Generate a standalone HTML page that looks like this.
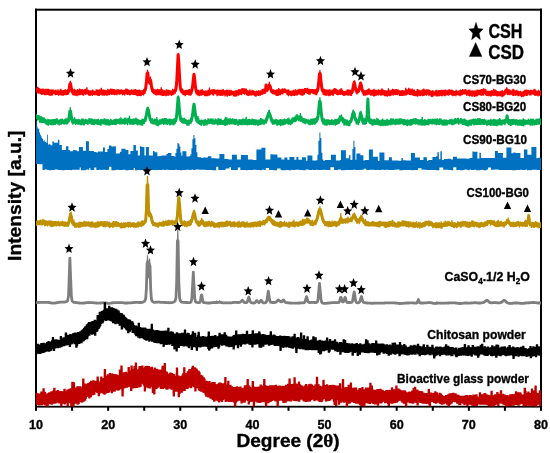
<!DOCTYPE html>
<html><head><meta charset="utf-8"><title>XRD patterns</title>
<style>html,body{margin:0;padding:0;background:#fff;}svg{display:block;}</style></head>
<body><svg width="550" height="453" viewBox="0 0 550 453">
<rect width="550" height="453" fill="#ffffff"/>
<defs><clipPath id="pa"><rect x="36" y="10" width="505" height="396.5"/></clipPath></defs>
<g fill="#000"><rect x="35" y="8.7" width="507" height="2"/><rect x="35" y="8.7" width="2" height="398.8"/><rect x="540" y="8.7" width="2" height="398.8"/><rect x="35" y="405.8" width="507" height="1.8"/><rect x="35.00" y="406" width="2" height="4.8"/><rect x="71.07" y="406" width="2" height="4.8"/><rect x="107.14" y="406" width="2" height="4.8"/><rect x="143.21" y="406" width="2" height="4.8"/><rect x="179.29" y="406" width="2" height="4.8"/><rect x="215.36" y="406" width="2" height="4.8"/><rect x="251.43" y="406" width="2" height="4.8"/><rect x="287.50" y="406" width="2" height="4.8"/><rect x="323.57" y="406" width="2" height="4.8"/><rect x="359.64" y="406" width="2" height="4.8"/><rect x="395.71" y="406" width="2" height="4.8"/><rect x="431.79" y="406" width="2" height="4.8"/><rect x="467.86" y="406" width="2" height="4.8"/><rect x="503.93" y="406" width="2" height="4.8"/><rect x="540.00" y="406" width="2" height="4.8"/></g>
<g clip-path="url(#pa)"><polyline fill="none" stroke="#ff0000" stroke-width="3.0" stroke-linejoin="round" points="36.0,89.9 36.7,90.0 37.4,90.1 38.2,90.2 38.9,90.3 39.6,90.6 40.3,90.9 41.1,91.2 41.8,91.5 42.5,91.7 43.2,91.8 43.9,91.8 44.7,91.8 45.4,91.8 46.1,91.8 46.8,91.9 47.5,92.0 48.3,92.1 49.0,92.3 49.7,92.5 50.4,92.5 51.2,92.5 51.9,92.4 52.6,92.3 53.3,92.2 54.0,92.2 54.8,92.2 55.5,92.3 56.2,92.4 56.9,92.4 57.6,92.4 58.4,92.4 59.1,92.4 59.8,92.4 60.5,92.3 61.3,92.4 62.0,92.4 62.7,92.5 63.4,92.5 64.1,92.5 64.9,92.5 65.6,92.4 66.3,92.3 67.0,92.2 67.7,92.1 68.5,91.5 69.2,88.8 69.9,83.9 70.6,84.0 71.4,88.9 72.1,91.6 72.8,92.1 73.5,92.2 74.2,92.2 75.0,92.3 75.7,92.2 76.4,92.2 77.1,92.1 77.8,92.1 78.6,92.0 79.3,92.0 80.0,92.0 80.7,92.1 81.5,92.1 82.2,92.2 82.9,92.2 83.6,92.3 84.3,92.2 85.1,92.2 85.8,92.2 86.5,92.1 87.2,92.2 87.9,92.2 88.7,92.4 89.4,92.5 90.1,92.7 90.8,92.8 91.6,92.8 92.3,92.8 93.0,92.8 93.7,92.8 94.4,92.8 95.2,92.8 95.9,92.8 96.6,92.8 97.3,92.8 98.0,92.7 98.8,92.6 99.5,92.5 100.2,92.5 100.9,92.4 101.7,92.5 102.4,92.6 103.1,92.7 103.8,92.7 104.5,92.7 105.3,92.6 106.0,92.5 106.7,92.4 107.4,92.2 108.1,92.1 108.9,92.0 109.6,92.0 110.3,92.0 111.0,92.0 111.8,91.9 112.5,91.9 113.2,91.9 113.9,91.8 114.6,91.8 115.4,91.8 116.1,91.8 116.8,91.9 117.5,91.9 118.2,92.0 119.0,92.1 119.7,92.1 120.4,92.2 121.1,92.2 121.9,92.3 122.6,92.3 123.3,92.2 124.0,92.1 124.7,92.0 125.5,91.9 126.2,91.9 126.9,91.9 127.6,91.9 128.3,92.0 129.1,92.1 129.8,92.2 130.5,92.3 131.2,92.4 132.0,92.4 132.7,92.4 133.4,92.3 134.1,92.3 134.8,92.3 135.6,92.4 136.3,92.5 137.0,92.6 137.7,92.6 138.4,92.7 139.2,92.7 139.9,92.7 140.6,92.7 141.3,92.6 142.1,92.4 142.8,92.3 143.5,92.0 144.2,91.6 144.9,90.7 145.7,88.2 146.4,81.9 147.1,73.5 147.8,73.1 148.5,79.9 149.3,82.3 150.0,79.6 150.7,80.4 151.4,85.8 152.2,89.9 152.9,91.4 153.6,91.8 154.3,91.9 155.0,92.0 155.8,92.0 156.5,92.2 157.2,92.3 157.9,92.4 158.6,92.5 159.4,92.7 160.1,92.8 160.8,92.9 161.5,92.9 162.3,92.9 163.0,93.0 163.7,92.9 164.4,92.9 165.1,92.8 165.9,92.8 166.6,92.7 167.3,92.8 168.0,92.8 168.7,92.9 169.5,92.9 170.2,92.8 170.9,92.7 171.6,92.6 172.4,92.3 173.1,92.0 173.8,91.7 174.5,91.4 175.2,90.7 176.0,88.9 176.7,82.5 177.4,68.3 178.1,54.7 178.8,61.6 179.6,77.8 180.3,87.2 181.0,90.4 181.7,91.3 182.5,91.9 183.2,92.2 183.9,92.5 184.6,92.7 185.3,92.8 186.1,92.8 186.8,92.8 187.5,92.7 188.2,92.5 188.9,92.4 189.7,92.4 190.4,92.2 191.1,91.9 191.8,90.5 192.6,86.4 193.3,79.1 194.0,74.3 194.7,79.2 195.4,86.8 196.2,91.1 196.9,92.6 197.6,93.1 198.3,93.1 199.0,93.0 199.8,92.9 200.5,92.8 201.2,92.6 201.9,92.6 202.7,92.7 203.4,92.9 204.1,93.1 204.8,93.3 205.5,93.4 206.3,93.5 207.0,93.4 207.7,93.2 208.4,93.0 209.1,92.8 209.9,92.6 210.6,92.4 211.3,92.3 212.0,92.2 212.8,92.2 213.5,92.3 214.2,92.3 214.9,92.4 215.6,92.5 216.4,92.6 217.1,92.7 217.8,92.9 218.5,92.9 219.2,92.9 220.0,92.8 220.7,92.7 221.4,92.6 222.1,92.6 222.9,92.5 223.6,92.7 224.3,92.8 225.0,93.0 225.7,93.2 226.5,93.3 227.2,93.3 227.9,93.2 228.6,93.1 229.3,93.0 230.1,92.9 230.8,92.9 231.5,92.9 232.2,93.1 233.0,93.1 233.7,93.3 234.4,93.4 235.1,93.3 235.8,93.3 236.6,93.1 237.3,93.0 238.0,92.8 238.7,92.6 239.4,92.4 240.2,92.2 240.9,92.0 241.6,91.8 242.3,91.5 243.1,91.4 243.8,91.2 244.5,91.2 245.2,91.3 245.9,91.6 246.7,91.9 247.4,92.3 248.1,92.6 248.8,92.8 249.5,93.0 250.3,93.0 251.0,93.0 251.7,93.0 252.4,93.0 253.2,93.0 253.9,93.2 254.6,93.3 255.3,93.4 256.0,93.5 256.8,93.5 257.5,93.5 258.2,93.3 258.9,93.2 259.6,93.1 260.4,92.9 261.1,92.7 261.8,92.6 262.5,92.4 263.3,92.1 264.0,91.9 264.7,91.6 265.4,90.4 266.1,84.9 266.9,89.6 267.6,89.5 268.3,87.4 269.0,85.3 269.7,85.4 270.5,87.8 271.2,90.1 271.9,91.3 272.6,91.9 273.4,92.1 274.1,92.3 274.8,92.5 275.5,92.6 276.2,92.6 277.0,92.6 277.7,92.7 278.4,92.7 279.1,92.6 279.8,92.5 280.6,92.3 281.3,92.0 282.0,91.8 282.7,91.4 283.5,91.2 284.2,91.1 284.9,91.1 285.6,91.3 286.3,91.5 287.1,91.9 287.8,92.4 288.5,92.7 289.2,92.9 289.9,93.1 290.7,93.2 291.4,93.2 292.1,93.1 292.8,93.1 293.6,93.0 294.3,92.9 295.0,92.8 295.7,92.6 296.4,92.5 297.2,92.3 297.9,92.3 298.6,92.3 299.3,92.3 300.0,92.3 300.8,92.4 301.5,92.4 302.2,92.4 302.9,92.2 303.7,91.8 304.4,91.2 305.1,90.4 305.8,89.9 306.5,90.4 307.3,91.1 308.0,91.6 308.7,91.8 309.4,91.8 310.1,91.6 310.9,91.5 311.6,91.4 312.3,91.4 313.0,91.5 313.8,91.8 314.5,91.9 315.2,92.0 315.9,92.0 316.6,91.8 317.4,90.8 318.1,87.8 318.8,81.3 319.5,73.8 320.2,73.7 321.0,81.1 321.7,87.4 322.4,90.4 323.1,91.4 323.9,91.8 324.6,92.0 325.3,92.1 326.0,92.3 326.7,92.3 327.5,92.4 328.2,92.5 328.9,92.6 329.6,92.7 330.3,92.7 331.1,92.7 331.8,92.6 332.5,92.6 333.2,92.5 334.0,91.9 334.7,91.0 335.4,90.4 336.1,91.1 336.8,92.1 337.6,92.7 338.3,92.9 339.0,92.8 339.7,92.4 340.4,91.8 341.2,91.6 341.9,92.1 342.6,92.8 343.3,93.3 344.1,93.4 344.8,93.3 345.5,93.1 346.2,92.9 346.9,92.8 347.7,92.7 348.4,92.8 349.1,92.9 349.8,93.0 350.5,93.1 351.3,93.0 352.0,92.3 352.7,90.0 353.4,85.5 354.2,82.3 354.9,85.0 355.6,89.0 356.3,91.0 357.0,91.5 357.8,91.5 358.5,91.1 359.2,89.2 359.9,85.6 360.6,83.1 361.4,85.8 362.1,89.6 362.8,91.6 363.5,92.3 364.3,92.5 365.0,92.6 365.7,92.7 366.4,92.6 367.1,92.4 367.9,92.3 368.6,92.3 369.3,92.4 370.0,92.4 370.7,92.5 371.5,92.7 372.2,92.8 372.9,92.9 373.6,93.0 374.4,93.0 375.1,93.0 375.8,93.0 376.5,93.0 377.2,92.9 378.0,92.7 378.7,92.6 379.4,92.5 380.1,92.5 380.8,92.4 381.6,92.5 382.3,92.6 383.0,92.8 383.7,93.0 384.5,93.1 385.2,93.3 385.9,93.3 386.6,93.3 387.3,93.2 388.1,93.1 388.8,93.0 389.5,92.8 390.2,92.7 390.9,92.5 391.7,92.4 392.4,92.4 393.1,92.3 393.8,92.2 394.6,92.1 395.3,92.0 396.0,91.9 396.7,91.9 397.4,91.9 398.2,92.1 398.9,92.4 399.6,92.7 400.3,92.9 401.0,93.1 401.8,93.3 402.5,93.4 403.2,93.3 403.9,93.1 404.7,92.9 405.4,92.7 406.1,92.4 406.8,92.1 407.5,91.9 408.3,91.8 409.0,91.8 409.7,91.8 410.4,91.9 411.1,92.1 411.9,92.3 412.6,92.5 413.3,92.7 414.0,92.9 414.8,93.1 415.5,93.3 416.2,93.3 416.9,93.3 417.6,93.2 418.4,93.1 419.1,93.0 419.8,92.9 420.5,92.8 421.2,92.8 422.0,92.8 422.7,92.8 423.4,92.8 424.1,92.7 424.9,92.7 425.6,92.6 426.3,92.6 427.0,92.7 427.7,92.8 428.5,92.9 429.2,93.1 429.9,93.3 430.6,93.4 431.3,93.6 432.1,93.6 432.8,93.6 433.5,93.6 434.2,93.5 435.0,93.4 435.7,93.3 436.4,93.3 437.1,93.2 437.8,93.2 438.6,93.2 439.3,93.2 440.0,93.2 440.7,93.1 441.4,93.1 442.2,93.1 442.9,93.1 443.6,93.1 444.3,93.0 445.1,92.9 445.8,92.8 446.5,92.6 447.2,92.4 447.9,92.3 448.7,92.3 449.4,92.3 450.1,92.4 450.8,92.6 451.5,92.8 452.3,93.0 453.0,93.2 453.7,93.2 454.4,93.2 455.2,93.2 455.9,93.1 456.6,93.0 457.3,92.9 458.0,92.9 458.8,92.8 459.5,92.8 460.2,92.8 460.9,92.8 461.6,92.7 462.4,92.6 463.1,92.6 463.8,92.5 464.5,92.3 465.3,92.3 466.0,92.2 466.7,92.3 467.4,92.3 468.1,92.5 468.9,92.7 469.6,92.9 470.3,93.1 471.0,93.3 471.7,93.5 472.5,93.6 473.2,93.6 473.9,93.6 474.6,93.5 475.4,93.3 476.1,93.2 476.8,93.0 477.5,92.8 478.2,92.7 479.0,92.6 479.7,92.5 480.4,92.5 481.1,92.6 481.8,92.6 482.6,92.5 483.3,92.2 484.0,91.6 484.7,91.4 485.5,91.9 486.2,92.6 486.9,93.2 487.6,93.4 488.3,93.4 489.1,93.4 489.8,93.4 490.5,93.4 491.2,93.3 491.9,93.3 492.7,93.1 493.4,93.0 494.1,92.9 494.8,92.8 495.6,92.9 496.3,93.0 497.0,93.2 497.7,93.4 498.4,93.6 499.2,93.7 499.9,93.8 500.6,93.7 501.3,93.7 502.0,93.7 502.8,93.6 503.5,93.6 504.2,93.4 504.9,92.8 505.7,91.5 506.4,90.6 507.1,91.2 507.8,92.2 508.5,92.7 509.3,92.6 510.0,92.6 510.7,92.5 511.4,92.5 512.1,92.5 512.9,92.6 513.6,92.7 514.3,92.8 515.0,92.9 515.8,93.0 516.5,93.0 517.2,93.1 517.9,93.1 518.6,93.2 519.4,93.3 520.1,93.5 520.8,93.6 521.5,93.8 522.2,93.8 523.0,93.8 523.7,93.7 524.4,93.5 525.1,93.3 525.9,93.1 526.6,92.9 527.3,92.7 528.0,92.6 528.7,92.6 529.5,92.5 530.2,92.5 530.9,92.4 531.6,92.4 532.3,92.2 533.1,92.3 533.8,92.3 534.5,92.3 535.2,92.5 536.0,92.7 536.7,92.8 537.4,93.0 538.1,93.1 538.8,93.1 539.6,93.1 540.3,93.1 541.0,93.0"/><polyline fill="none" stroke="#ff0000" stroke-width="1.3" stroke-linejoin="bevel" points="36.0,91.9 36.4,88.2 36.7,91.8 37.1,87.4 37.4,92.9 37.8,86.9 38.2,93.6 38.5,87.9 38.9,93.5 39.2,88.0 39.6,92.9 40.0,88.8 40.3,94.1 40.7,88.7 41.1,94.0 41.4,88.7 41.8,95.0 42.1,88.7 42.5,94.4 42.9,88.6 43.2,93.9 43.6,88.7 43.9,94.6 44.3,89.9 44.7,95.2 45.0,89.4 45.4,94.4 45.7,88.7 46.1,95.3 46.5,89.7 46.8,93.8 47.2,88.9 47.5,94.9 47.9,89.6 48.3,95.0 48.6,88.8 49.0,95.5 49.3,89.7 49.7,95.8 50.1,89.2 50.4,95.6 50.8,90.6 51.2,95.2 51.5,89.6 51.9,95.6 52.2,89.7 52.6,95.1 53.0,89.2 53.3,94.0 53.7,90.4 54.0,93.9 54.4,90.3 54.8,94.4 55.1,90.4 55.5,95.1 55.8,89.6 56.2,94.9 56.6,90.7 56.9,95.0 57.3,90.5 57.6,94.1 58.0,89.3 58.4,95.7 58.7,90.6 59.1,95.3 59.4,90.6 59.8,95.1 60.2,89.5 60.5,95.1 60.9,88.9 61.3,95.2 61.6,90.4 62.0,95.8 62.3,90.3 62.7,95.2 63.1,90.0 63.4,95.6 63.8,90.6 64.1,94.9 64.5,90.0 64.9,95.2 65.2,89.1 65.6,94.6 65.9,90.0 66.3,95.2 66.7,90.2 67.0,94.8 67.4,89.9 67.7,94.9 68.1,89.2 68.5,94.4 68.8,88.1 69.2,91.0 69.5,84.7 69.9,86.7 70.3,80.7 70.6,85.7 71.0,82.4 71.4,91.0 71.7,87.7 72.1,93.8 72.4,88.3 72.8,95.1 73.2,89.3 73.5,94.2 73.9,89.5 74.2,95.6 74.6,88.9 75.0,95.5 75.3,90.0 75.7,95.7 76.0,90.2 76.4,94.6 76.8,90.3 77.1,96.1 77.5,89.1 77.8,95.0 78.2,90.4 78.6,95.5 78.9,89.8 79.3,95.1 79.6,88.6 80.0,95.1 80.4,89.4 80.7,94.7 81.1,90.1 81.5,94.5 81.8,89.0 82.2,95.1 82.5,89.3 82.9,95.1 83.3,89.9 83.6,95.7 84.0,90.0 84.3,94.3 84.7,89.3 85.1,94.2 85.4,88.7 85.8,94.9 86.1,90.2 86.5,93.9 86.9,87.4 87.2,93.9 87.6,90.4 87.9,94.7 88.3,89.8 88.7,95.5 89.0,90.5 89.4,95.8 89.7,90.2 90.1,95.9 90.5,90.8 90.8,94.6 91.2,90.3 91.6,94.9 91.9,90.3 92.3,96.0 92.6,89.5 93.0,94.6 93.4,90.6 93.7,95.0 94.1,90.7 94.4,95.3 94.8,91.0 95.2,95.3 95.5,91.0 95.9,95.3 96.2,89.4 96.6,94.8 97.0,89.5 97.3,95.1 97.7,89.7 98.0,95.9 98.4,89.9 98.8,95.6 99.1,89.7 99.5,95.9 99.8,89.4 100.2,94.9 100.6,90.2 100.9,94.4 101.3,87.7 101.7,94.6 102.0,90.4 102.4,95.8 102.7,89.6 103.1,95.4 103.5,89.5 103.8,95.4 104.2,90.4 104.5,95.7 104.9,89.9 105.3,94.7 105.6,90.3 106.0,95.2 106.3,90.4 106.7,95.7 107.1,90.5 107.4,95.5 107.8,88.7 108.1,95.0 108.5,90.0 108.9,95.2 109.2,89.5 109.6,95.0 109.9,89.7 110.3,94.1 110.7,88.6 111.0,93.8 111.4,90.1 111.8,95.0 112.1,88.8 112.5,94.2 112.8,89.5 113.2,94.8 113.6,89.1 113.9,94.7 114.3,89.4 114.6,95.3 115.0,89.8 115.4,94.7 115.7,89.8 116.1,94.1 116.4,89.6 116.8,95.1 117.2,89.2 117.5,94.2 117.9,89.3 118.2,94.5 118.6,89.4 119.0,94.2 119.3,89.7 119.7,94.7 120.0,90.3 120.4,94.0 120.8,89.5 121.1,94.3 121.5,89.2 121.9,94.0 122.2,90.1 122.6,95.1 122.9,90.3 123.3,94.6 123.7,89.9 124.0,94.3 124.4,89.9 124.7,95.5 125.1,89.7 125.5,93.8 125.8,88.6 126.2,93.9 126.5,88.8 126.9,94.8 127.3,88.9 127.6,95.0 128.0,89.9 128.3,93.8 128.7,89.6 129.1,94.6 129.4,90.1 129.8,95.4 130.1,90.4 130.5,94.9 130.9,89.7 131.2,94.1 131.6,89.2 132.0,94.7 132.3,89.8 132.7,94.3 133.0,89.9 133.4,94.9 133.8,89.6 134.1,94.1 134.5,89.9 134.8,94.9 135.2,89.0 135.6,95.2 135.9,89.5 136.3,95.0 136.6,89.9 137.0,96.0 137.4,90.1 137.7,96.1 138.1,89.9 138.4,96.0 138.8,90.0 139.2,95.9 139.5,89.5 139.9,95.1 140.2,90.4 140.6,96.1 141.0,90.4 141.3,95.7 141.7,90.5 142.1,95.0 142.4,90.0 142.8,94.5 143.1,90.1 143.5,95.5 143.9,88.9 144.2,94.1 144.6,88.5 144.9,94.0 145.3,86.9 145.7,90.1 146.0,83.5 146.4,85.2 146.7,74.1 147.1,76.3 147.5,69.7 147.8,75.0 148.2,74.4 148.5,82.2 148.9,79.3 149.3,84.7 149.6,78.3 150.0,82.1 150.3,76.5 150.7,83.8 151.1,81.2 151.4,88.7 151.8,85.2 152.2,91.9 152.5,87.6 152.9,93.3 153.2,88.5 153.6,93.8 154.0,89.4 154.3,94.3 154.7,89.2 155.0,94.8 155.4,90.2 155.8,95.2 156.1,89.4 156.5,95.5 156.8,90.2 157.2,94.8 157.6,88.9 157.9,95.2 158.3,89.9 158.6,95.1 159.0,89.3 159.4,94.4 159.7,89.2 160.1,95.3 160.4,89.6 160.8,95.4 161.2,87.2 161.5,94.8 161.9,90.5 162.3,96.0 162.6,89.4 163.0,95.6 163.3,91.1 163.7,96.0 164.1,90.0 164.4,94.8 164.8,90.8 165.1,95.4 165.5,90.8 165.9,96.1 166.2,89.3 166.6,95.8 166.9,89.6 167.3,95.1 167.7,90.9 168.0,95.8 168.4,89.7 168.7,95.8 169.1,90.9 169.5,94.6 169.8,90.1 170.2,94.8 170.5,90.6 170.9,95.3 171.3,90.5 171.6,96.0 172.0,90.2 172.4,95.0 172.7,88.8 173.1,94.9 173.4,89.5 173.8,94.8 174.2,89.5 174.5,93.3 174.9,89.4 175.2,93.6 175.6,85.2 176.0,91.8 176.3,83.7 176.7,85.3 177.0,72.9 177.4,70.8 177.8,58.1 178.1,56.9 178.5,53.0 178.8,64.4 179.2,67.7 179.6,80.2 179.9,81.3 180.3,90.2 180.6,86.1 181.0,92.7 181.4,87.9 181.7,93.4 182.1,88.2 182.5,94.2 182.8,89.1 183.2,95.0 183.5,90.5 183.9,95.2 184.3,90.8 184.6,95.3 185.0,90.1 185.3,96.2 185.7,90.8 186.1,94.6 186.4,89.9 186.8,95.0 187.1,90.0 187.5,94.8 187.9,89.7 188.2,94.5 188.6,89.9 188.9,95.5 189.3,89.1 189.7,94.6 190.0,89.6 190.4,95.7 190.7,90.2 191.1,95.1 191.5,88.4 191.8,94.0 192.2,86.4 192.6,88.9 192.9,80.3 193.3,81.4 193.6,73.8 194.0,77.0 194.4,73.4 194.7,81.8 195.1,80.3 195.4,89.2 195.8,87.4 196.2,94.3 196.5,88.7 196.9,94.7 197.2,90.1 197.6,95.4 198.0,90.1 198.3,94.9 198.7,89.7 199.0,96.3 199.4,91.0 199.8,95.8 200.1,90.6 200.5,94.8 200.8,89.5 201.2,95.7 201.6,89.9 201.9,95.5 202.3,89.4 202.7,95.0 203.0,90.2 203.4,95.0 203.7,90.5 204.1,95.1 204.5,90.8 204.8,96.1 205.2,91.2 205.5,96.3 205.9,90.3 206.3,96.3 206.6,90.9 207.0,95.8 207.3,91.5 207.7,96.3 208.1,89.8 208.4,95.2 208.8,90.0 209.1,95.6 209.5,87.5 209.9,95.5 210.2,90.5 210.6,94.4 210.9,90.0 211.3,94.3 211.7,89.5 212.0,94.1 212.4,89.3 212.8,95.3 213.1,90.5 213.5,95.6 213.8,89.1 214.2,94.1 214.6,89.6 214.9,94.1 215.3,89.9 215.6,94.3 216.0,89.8 216.4,94.4 216.7,90.8 217.1,96.1 217.4,89.6 217.8,95.8 218.2,89.8 218.5,95.0 218.9,91.0 219.2,95.2 219.6,89.8 220.0,95.9 220.3,89.8 220.7,95.2 221.0,90.1 221.4,95.7 221.8,89.9 222.1,94.7 222.5,90.0 222.9,95.9 223.2,89.1 223.6,94.5 223.9,90.8 224.3,94.7 224.7,90.4 225.0,96.4 225.4,90.5 225.7,95.5 226.1,90.0 226.5,95.4 226.8,89.6 227.2,96.6 227.5,90.0 227.9,95.2 228.3,90.9 228.6,95.5 229.0,89.9 229.3,95.9 229.7,90.2 230.1,95.2 230.4,90.6 230.8,95.6 231.1,89.8 231.5,95.3 231.9,90.8 232.2,94.8 232.6,91.2 233.0,95.1 233.3,90.7 233.7,96.4 234.0,90.9 234.4,95.8 234.8,91.4 235.1,96.8 235.5,90.5 235.8,95.5 236.2,90.0 236.6,96.5 236.9,90.3 237.3,95.5 237.6,90.5 238.0,95.1 238.4,89.5 238.7,95.6 239.1,89.1 239.4,94.5 239.8,90.4 240.2,94.8 240.5,89.4 240.9,94.5 241.2,89.3 241.6,95.1 242.0,88.0 242.3,93.7 242.7,88.8 243.1,93.6 243.4,88.4 243.8,94.0 244.1,88.2 244.5,94.7 244.9,88.6 245.2,93.1 245.6,88.8 245.9,94.2 246.3,88.6 246.7,95.2 247.0,90.1 247.4,95.6 247.7,90.4 248.1,95.4 248.5,91.0 248.8,96.0 249.2,90.5 249.5,95.1 249.9,89.6 250.3,94.9 250.6,90.7 251.0,95.6 251.3,90.8 251.7,95.3 252.1,89.8 252.4,95.1 252.8,90.3 253.2,95.1 253.5,90.3 253.9,95.3 254.2,91.0 254.6,95.9 255.0,91.2 255.3,96.4 255.7,91.4 256.0,96.7 256.4,90.5 256.8,95.4 257.1,90.8 257.5,95.3 257.8,91.4 258.2,95.6 258.6,90.3 258.9,96.0 259.3,90.5 259.6,95.1 260.0,90.7 260.4,95.8 260.7,90.2 261.1,95.0 261.4,90.8 261.8,94.4 262.2,89.1 262.5,94.8 262.9,88.9 263.3,94.3 263.6,89.3 264.0,94.0 264.3,88.5 264.7,93.7 265.1,88.6 265.4,93.8 265.8,84.5 266.1,87.6 266.5,84.8 266.9,92.2 267.2,88.2 267.6,91.4 267.9,86.4 268.3,89.2 268.7,84.1 269.0,87.7 269.4,81.7 269.7,88.8 270.1,84.7 270.5,90.3 270.8,86.1 271.2,93.1 271.5,88.9 271.9,93.1 272.3,89.5 272.6,94.1 273.0,90.0 273.4,94.2 273.7,89.3 274.1,94.4 274.4,90.3 274.8,94.6 275.2,90.0 275.5,94.6 275.9,90.0 276.2,96.0 276.6,89.4 277.0,95.7 277.3,89.2 277.7,96.0 278.0,90.0 278.4,95.6 278.8,88.1 279.1,95.3 279.5,89.2 279.8,95.1 280.2,90.0 280.6,95.2 280.9,89.6 281.3,93.9 281.6,89.0 282.0,93.7 282.4,88.3 282.7,94.5 283.1,88.9 283.5,93.0 283.8,89.2 284.2,93.3 284.5,88.4 284.9,93.0 285.3,88.9 285.6,93.3 286.0,89.5 286.3,93.4 286.7,89.8 287.1,95.1 287.4,90.1 287.8,94.3 288.1,89.4 288.5,96.1 288.9,89.8 289.2,94.8 289.6,91.1 289.9,95.1 290.3,91.3 290.7,95.7 291.0,90.6 291.4,96.3 291.7,90.8 292.1,95.2 292.5,91.2 292.8,95.8 293.2,89.9 293.6,95.7 293.9,90.8 294.3,96.0 294.6,90.2 295.0,95.5 295.4,89.3 295.7,95.5 296.1,90.6 296.4,95.4 296.8,90.2 297.2,95.5 297.5,89.6 297.9,95.0 298.2,90.3 298.6,94.0 299.0,88.8 299.3,94.0 299.7,90.5 300.0,94.9 300.4,89.0 300.8,95.1 301.1,88.9 301.5,95.4 301.8,89.2 302.2,95.6 302.6,88.9 302.9,95.6 303.3,89.8 303.7,94.8 304.0,89.0 304.4,94.7 304.7,88.0 305.1,92.8 305.5,88.3 305.8,93.0 306.2,88.3 306.5,93.2 306.9,88.6 307.3,94.0 307.6,87.9 308.0,93.9 308.3,89.0 308.7,94.5 309.1,89.8 309.4,94.8 309.8,88.8 310.1,94.7 310.5,89.5 310.9,93.3 311.2,89.0 311.6,93.3 311.9,89.3 312.3,93.2 312.7,89.1 313.0,93.9 313.4,89.3 313.8,94.2 314.1,90.1 314.5,94.4 314.8,89.1 315.2,94.3 315.6,89.3 315.9,95.2 316.3,89.3 316.6,95.2 317.0,88.3 317.4,93.5 317.7,87.8 318.1,90.3 318.4,83.2 318.8,84.7 319.2,75.5 319.5,75.9 319.9,70.4 320.2,77.0 320.6,73.8 321.0,84.1 321.3,81.5 321.7,89.6 322.0,86.0 322.4,92.3 322.8,88.7 323.1,94.6 323.5,88.7 323.9,95.2 324.2,88.7 324.6,94.1 324.9,89.6 325.3,95.6 325.7,89.2 326.0,95.4 326.4,90.4 326.7,95.7 327.1,89.6 327.5,94.4 327.8,89.7 328.2,95.8 328.5,89.9 328.9,96.1 329.3,89.3 329.6,95.2 330.0,89.2 330.3,95.7 330.7,90.5 331.1,94.5 331.4,90.9 331.8,95.3 332.1,89.6 332.5,94.5 332.9,90.5 333.2,95.9 333.6,89.1 334.0,94.2 334.3,88.1 334.7,93.6 335.0,88.4 335.4,92.7 335.8,88.5 336.1,94.1 336.5,89.3 336.8,94.9 337.2,89.6 337.6,95.3 337.9,90.3 338.3,95.2 338.6,90.8 339.0,94.7 339.4,89.7 339.7,94.1 340.1,89.1 340.4,94.9 340.8,88.5 341.2,94.4 341.5,88.3 341.9,94.5 342.2,89.9 342.6,95.0 343.0,91.4 343.3,95.8 343.7,90.8 344.1,95.9 344.4,91.6 344.8,95.3 345.1,91.0 345.5,95.5 345.9,90.9 346.2,95.2 346.6,90.5 346.9,94.6 347.3,89.5 347.7,95.5 348.0,89.3 348.4,95.6 348.7,90.0 349.1,95.2 349.5,89.8 349.8,95.5 350.2,89.8 350.5,95.6 350.9,90.0 351.3,95.9 351.6,90.3 352.0,94.1 352.3,89.3 352.7,92.5 353.1,85.4 353.4,87.6 353.8,81.1 354.2,84.6 354.5,80.4 354.9,86.9 355.2,84.8 355.6,92.0 356.0,87.1 356.3,93.7 356.7,88.0 357.0,94.5 357.4,88.5 357.8,93.5 358.1,88.8 358.5,92.8 358.8,87.5 359.2,91.5 359.6,84.3 359.9,87.6 360.3,82.0 360.6,85.5 361.0,81.9 361.4,88.4 361.7,85.4 362.1,91.3 362.4,88.7 362.8,93.6 363.2,90.0 363.5,95.8 363.9,89.7 364.3,95.6 364.6,90.2 365.0,94.6 365.3,90.3 365.7,95.6 366.1,90.2 366.4,94.3 366.8,89.8 367.1,95.1 367.5,89.5 367.9,94.1 368.2,89.0 368.6,94.8 368.9,88.2 369.3,94.6 369.7,89.2 370.0,94.6 370.4,90.2 370.7,95.8 371.1,90.0 371.5,94.4 371.8,90.8 372.2,95.8 372.5,89.6 372.9,95.2 373.3,90.7 373.6,96.4 374.0,88.9 374.4,96.3 374.7,89.9 375.1,96.2 375.4,89.9 375.8,95.3 376.2,89.8 376.5,95.6 376.9,90.9 377.2,95.0 377.6,90.2 378.0,95.3 378.3,89.2 378.7,95.4 379.0,89.7 379.4,94.3 379.8,90.6 380.1,94.7 380.5,89.9 380.8,95.8 381.2,90.6 381.6,95.5 381.9,88.2 382.3,94.8 382.6,89.4 383.0,95.2 383.4,89.7 383.7,95.2 384.1,90.3 384.5,96.2 384.8,90.0 385.2,95.6 385.5,91.2 385.9,96.2 386.3,90.5 386.6,95.1 387.0,90.5 387.3,96.6 387.7,91.0 388.1,95.9 388.4,88.4 388.8,95.4 389.1,89.7 389.5,96.1 389.9,90.9 390.2,94.9 390.6,90.5 390.9,95.9 391.3,89.7 391.7,94.3 392.0,90.0 392.4,94.6 392.7,88.9 393.1,95.6 393.5,89.0 393.8,94.0 394.2,89.7 394.6,94.6 394.9,89.7 395.3,95.3 395.6,89.4 396.0,95.0 396.4,89.1 396.7,94.3 397.1,90.0 397.4,95.2 397.8,89.4 398.2,94.5 398.5,89.7 398.9,94.2 399.2,90.2 399.6,96.0 400.0,90.5 400.3,95.2 400.7,90.8 401.0,95.9 401.4,90.6 401.8,95.7 402.1,90.1 402.5,95.9 402.8,90.1 403.2,95.7 403.6,90.9 403.9,95.2 404.3,91.2 404.7,95.7 405.0,90.4 405.4,94.6 405.7,87.8 406.1,95.4 406.5,89.4 406.8,93.8 407.2,89.6 407.5,94.8 407.9,89.4 408.3,94.3 408.6,87.8 409.0,93.8 409.3,89.8 409.7,94.9 410.1,88.5 410.4,93.9 410.8,90.2 411.1,95.2 411.5,89.4 411.9,94.4 412.2,88.6 412.6,95.2 412.9,90.6 413.3,96.0 413.7,89.5 414.0,96.0 414.4,89.5 414.8,95.4 415.1,91.3 415.5,96.1 415.8,91.1 416.2,96.3 416.6,91.5 416.9,95.6 417.3,89.0 417.6,96.6 418.0,91.2 418.4,95.6 418.7,89.6 419.1,94.8 419.4,90.4 419.8,95.9 420.2,90.3 420.5,96.1 420.9,90.4 421.2,95.1 421.6,91.1 422.0,95.4 422.3,89.3 422.7,96.2 423.0,91.1 423.4,94.6 423.8,88.6 424.1,96.0 424.5,90.3 424.9,94.9 425.2,89.6 425.6,94.9 425.9,90.2 426.3,95.6 426.7,89.3 427.0,94.7 427.4,90.6 427.7,94.8 428.1,89.4 428.5,95.6 428.8,89.9 429.2,95.2 429.5,89.9 429.9,95.5 430.3,90.6 430.6,95.5 431.0,90.9 431.3,96.6 431.7,91.6 432.1,97.1 432.4,90.4 432.8,96.6 433.1,90.5 433.5,95.8 433.9,91.7 434.2,95.8 434.6,91.5 435.0,95.7 435.3,90.3 435.7,95.4 436.0,91.5 436.4,96.4 436.8,89.9 437.1,95.7 437.5,91.2 437.8,96.5 438.2,91.4 438.6,95.5 438.9,90.0 439.3,96.2 439.6,90.1 440.0,95.7 440.4,90.2 440.7,95.4 441.1,89.9 441.4,96.3 441.8,89.7 442.2,96.2 442.5,90.1 442.9,95.1 443.2,90.3 443.6,94.9 444.0,89.7 444.3,96.2 444.7,90.3 445.1,96.1 445.4,89.6 445.8,95.1 446.1,89.8 446.5,94.5 446.9,90.7 447.2,95.5 447.6,90.3 447.9,94.8 448.3,89.7 448.7,95.7 449.0,89.2 449.4,95.0 449.7,89.2 450.1,94.6 450.5,90.6 450.8,94.8 451.2,90.0 451.5,95.1 451.9,89.5 452.3,95.7 452.6,90.3 453.0,96.2 453.3,90.5 453.7,95.2 454.1,91.1 454.4,95.7 454.8,91.0 455.2,95.2 455.5,90.8 455.9,96.3 456.2,89.8 456.6,95.2 457.0,90.9 457.3,94.7 457.7,91.1 458.0,95.2 458.4,90.8 458.8,95.4 459.1,90.9 459.5,95.6 459.8,90.1 460.2,96.1 460.6,89.6 460.9,94.7 461.3,90.1 461.6,95.1 462.0,90.9 462.4,95.3 462.7,89.1 463.1,94.5 463.4,90.8 463.8,94.5 464.2,89.9 464.5,94.5 464.9,89.4 465.3,94.4 465.6,89.0 466.0,94.2 466.3,90.3 466.7,95.7 467.1,90.5 467.4,95.4 467.8,90.6 468.1,94.5 468.5,89.8 468.9,95.9 469.2,90.0 469.6,96.4 469.9,89.5 470.3,95.1 470.7,90.7 471.0,95.9 471.4,91.4 471.7,96.4 472.1,90.3 472.5,96.6 472.8,90.5 473.2,95.8 473.5,90.9 473.9,95.6 474.3,90.5 474.6,96.9 475.0,90.8 475.4,95.9 475.7,90.2 476.1,96.5 476.4,91.2 476.8,96.1 477.2,89.6 477.5,96.3 477.9,90.5 478.2,95.2 478.6,89.9 479.0,95.1 479.3,89.8 479.7,94.9 480.0,90.0 480.4,94.8 480.8,89.6 481.1,95.9 481.5,89.1 481.8,95.0 482.2,90.8 482.6,95.4 482.9,88.9 483.3,95.6 483.6,88.2 484.0,94.0 484.4,89.6 484.7,93.9 485.1,88.7 485.5,94.9 485.8,89.4 486.2,95.8 486.5,91.1 486.9,95.9 487.3,90.8 487.6,96.0 488.0,90.9 488.3,96.2 488.7,91.5 489.1,95.2 489.4,90.9 489.8,96.2 490.1,90.9 490.5,96.4 490.9,90.9 491.2,96.5 491.6,90.2 491.9,95.3 492.3,90.4 492.7,95.8 493.0,91.2 493.4,94.8 493.7,88.8 494.1,95.9 494.5,90.8 494.8,95.6 495.2,89.5 495.6,95.5 495.9,90.2 496.3,96.0 496.6,90.5 497.0,96.5 497.4,91.1 497.7,95.5 498.1,91.6 498.4,96.1 498.8,91.4 499.2,96.3 499.5,91.7 499.9,96.3 500.2,91.2 500.6,96.0 501.0,90.6 501.3,96.3 501.7,90.9 502.0,97.1 502.4,90.4 502.8,96.5 503.1,91.9 503.5,96.5 503.8,91.3 504.2,95.6 504.6,90.4 504.9,94.8 505.3,89.2 505.7,94.6 506.0,88.9 506.4,92.5 506.7,87.4 507.1,93.0 507.5,88.6 507.8,95.3 508.2,89.6 508.5,94.4 508.9,89.3 509.3,94.7 509.6,89.3 510.0,95.2 510.3,90.3 510.7,94.6 511.1,90.8 511.4,94.6 511.8,90.6 512.1,94.2 512.5,89.6 512.9,96.0 513.2,88.8 513.6,95.9 513.9,89.3 514.3,94.7 514.7,90.4 515.0,95.4 515.4,90.8 515.8,96.0 516.1,90.3 516.5,95.0 516.8,89.7 517.2,95.0 517.6,91.3 517.9,96.2 518.3,90.7 518.6,96.1 519.0,91.5 519.4,95.2 519.7,91.2 520.1,95.8 520.4,90.9 520.8,95.9 521.2,91.6 521.5,97.2 521.9,91.9 522.2,96.4 522.6,91.7 523.0,96.9 523.3,90.9 523.7,96.5 524.0,91.1 524.4,96.0 524.8,89.9 525.1,95.8 525.5,90.3 525.9,95.0 526.2,89.5 526.6,96.0 526.9,90.3 527.3,95.8 527.7,89.8 528.0,94.5 528.4,90.1 528.7,94.3 529.1,90.7 529.5,95.4 529.8,90.4 530.2,94.3 530.5,89.9 530.9,95.4 531.3,90.1 531.6,94.4 532.0,90.2 532.3,94.0 532.7,90.4 533.1,94.8 533.4,90.2 533.8,94.8 534.1,88.9 534.5,95.4 534.9,89.2 535.2,95.9 535.6,89.7 536.0,95.1 536.3,90.9 536.7,95.8 537.0,91.0 537.4,95.2 537.8,90.8 538.1,96.5 538.5,89.9 538.8,95.3 539.2,90.8 539.6,95.7 539.9,91.3 540.3,94.8 540.6,90.3 541.0,95.6"/><polyline fill="none" stroke="#00b050" stroke-width="3.0" stroke-linejoin="round" points="36.0,115.9 36.7,116.6 37.4,117.1 38.2,117.6 38.9,118.2 39.6,118.8 40.3,119.3 41.1,119.9 41.8,120.1 42.5,120.4 43.2,120.6 43.9,120.9 44.7,121.1 45.4,121.3 46.1,121.5 46.8,121.7 47.5,122.0 48.3,122.2 49.0,122.3 49.7,122.4 50.4,122.5 51.2,122.5 51.9,122.4 52.6,122.3 53.3,122.0 54.0,121.8 54.8,121.7 55.5,121.6 56.2,121.6 56.9,121.6 57.6,121.7 58.4,121.8 59.1,121.8 59.8,121.9 60.5,121.9 61.3,121.8 62.0,121.8 62.7,121.7 63.4,121.6 64.1,121.5 64.9,121.4 65.6,121.3 66.3,121.3 67.0,121.3 67.7,121.3 68.5,120.6 69.2,117.3 69.9,111.2 70.6,111.2 71.4,117.4 72.1,120.8 72.8,121.6 73.5,121.7 74.2,121.7 75.0,121.8 75.7,121.7 76.4,121.7 77.1,121.8 77.8,121.8 78.6,121.8 79.3,121.9 80.0,121.9 80.7,122.0 81.5,122.0 82.2,121.9 82.9,121.9 83.6,121.8 84.3,121.8 85.1,121.8 85.8,121.7 86.5,121.7 87.2,121.6 87.9,121.6 88.7,121.6 89.4,121.5 90.1,121.5 90.8,121.6 91.6,121.7 92.3,121.8 93.0,121.8 93.7,121.7 94.4,121.8 95.2,121.8 95.9,121.8 96.6,121.8 97.3,121.9 98.0,122.0 98.8,122.1 99.5,122.1 100.2,122.2 100.9,122.2 101.7,122.2 102.4,122.1 103.1,122.0 103.8,121.9 104.5,121.9 105.3,121.8 106.0,121.8 106.7,121.9 107.4,122.0 108.1,122.2 108.9,122.3 109.6,122.3 110.3,122.3 111.0,122.4 111.8,122.3 112.5,122.3 113.2,122.3 113.9,122.3 114.6,122.2 115.4,122.2 116.1,122.0 116.8,121.8 117.5,121.6 118.2,121.4 119.0,121.3 119.7,121.2 120.4,121.2 121.1,121.2 121.9,121.3 122.6,121.3 123.3,121.3 124.0,121.2 124.7,121.1 125.5,121.0 126.2,120.9 126.9,120.8 127.6,120.9 128.3,121.1 129.1,121.3 129.8,121.5 130.5,121.7 131.2,121.8 132.0,121.7 132.7,121.6 133.4,121.5 134.1,121.4 134.8,121.4 135.6,121.5 136.3,121.7 137.0,121.8 137.7,122.0 138.4,122.1 139.2,122.2 139.9,122.3 140.6,122.4 141.3,122.2 142.1,122.1 142.8,121.9 143.5,121.7 144.2,121.2 144.9,120.3 145.7,118.4 146.4,115.0 147.1,110.7 147.8,108.4 148.5,110.7 149.3,115.0 150.0,118.5 150.7,120.3 151.4,121.0 152.2,121.4 152.9,121.7 153.6,121.9 154.3,122.1 155.0,122.3 155.8,122.5 156.5,122.7 157.2,122.8 157.9,122.8 158.6,122.8 159.4,122.7 160.1,122.5 160.8,122.2 161.5,122.0 162.3,121.7 163.0,121.5 163.7,121.4 164.4,121.3 165.1,121.3 165.9,121.3 166.6,121.5 167.3,121.6 168.0,121.7 168.7,121.9 169.5,122.1 170.2,122.2 170.9,122.3 171.6,122.3 172.4,122.2 173.1,122.1 173.8,121.9 174.5,121.5 175.2,121.0 176.0,119.7 176.7,115.5 177.4,106.3 178.1,97.6 178.8,101.9 179.6,112.1 180.3,118.0 181.0,120.0 181.7,120.6 182.5,120.9 183.2,121.1 183.9,121.2 184.6,121.4 185.3,121.6 186.1,121.8 186.8,122.1 187.5,122.2 188.2,122.2 188.9,122.1 189.7,121.8 190.4,121.4 191.1,120.6 191.8,118.8 192.6,114.8 193.3,108.3 194.0,104.3 194.7,108.3 195.4,114.6 196.2,118.6 196.9,120.3 197.6,121.0 198.3,121.5 199.0,121.8 199.8,122.1 200.5,122.3 201.2,122.5 201.9,122.6 202.7,122.7 203.4,122.6 204.1,122.6 204.8,122.4 205.5,122.3 206.3,122.1 207.0,121.9 207.7,121.7 208.4,121.5 209.1,121.3 209.9,121.2 210.6,121.2 211.3,121.2 212.0,121.4 212.8,121.5 213.5,121.6 214.2,121.8 214.9,121.9 215.6,121.9 216.4,121.9 217.1,121.9 217.8,121.9 218.5,121.8 219.2,121.8 220.0,121.8 220.7,121.9 221.4,121.9 222.1,122.1 222.9,122.2 223.6,122.3 224.3,122.4 225.0,122.4 225.7,122.3 226.5,122.2 227.2,122.0 227.9,121.8 228.6,121.7 229.3,121.6 230.1,121.5 230.8,121.5 231.5,121.5 232.2,121.5 233.0,121.5 233.7,121.6 234.4,121.8 235.1,122.0 235.8,122.2 236.6,122.4 237.3,122.5 238.0,122.6 238.7,122.4 239.4,122.3 240.2,122.1 240.9,122.0 241.6,121.8 242.3,121.8 243.1,121.8 243.8,121.8 244.5,121.9 245.2,121.9 245.9,121.9 246.7,122.0 247.4,122.0 248.1,122.1 248.8,122.0 249.5,122.0 250.3,122.0 251.0,121.9 251.7,121.8 252.4,121.8 253.2,121.9 253.9,122.1 254.6,122.3 255.3,122.5 256.0,122.6 256.8,122.6 257.5,122.6 258.2,122.3 258.9,122.1 259.6,121.9 260.4,121.7 261.1,121.6 261.8,121.6 262.5,121.7 263.3,121.8 264.0,121.8 264.7,121.7 265.4,121.3 266.1,120.3 266.9,118.7 267.6,116.3 268.3,113.9 269.0,112.9 269.7,114.1 270.5,116.5 271.2,118.9 271.9,120.6 272.6,121.5 273.4,121.8 274.1,122.0 274.8,122.0 275.5,122.0 276.2,122.2 277.0,122.2 277.7,122.3 278.4,122.5 279.1,122.5 279.8,122.5 280.6,122.5 281.3,122.3 282.0,122.2 282.7,122.0 283.5,121.8 284.2,121.6 284.9,121.5 285.6,121.5 286.3,121.5 287.1,121.5 287.8,121.6 288.5,121.8 289.2,121.8 289.9,121.8 290.7,121.7 291.4,121.5 292.1,121.2 292.8,120.7 293.6,120.2 294.3,119.6 295.0,119.1 295.7,118.5 296.4,118.1 297.2,117.8 297.9,117.6 298.6,117.6 299.3,117.8 300.0,118.2 300.8,118.6 301.5,119.1 302.2,119.6 302.9,120.0 303.7,120.3 304.4,120.6 305.1,120.8 305.8,121.0 306.5,121.3 307.3,121.4 308.0,121.6 308.7,121.8 309.4,121.9 310.1,122.0 310.9,122.0 311.6,122.0 312.3,122.0 313.0,121.8 313.8,121.6 314.5,121.4 315.2,121.1 315.9,120.7 316.6,120.2 317.4,119.2 318.1,116.1 318.8,109.3 319.5,101.5 320.2,101.7 321.0,109.8 321.7,116.8 322.4,120.1 323.1,121.2 323.9,121.7 324.6,121.9 325.3,122.0 326.0,122.0 326.7,122.1 327.5,122.1 328.2,122.2 328.9,122.2 329.6,122.4 330.3,122.4 331.1,122.5 331.8,122.6 332.5,122.6 333.2,122.5 334.0,122.4 334.7,122.4 335.4,122.2 336.1,122.1 336.8,122.0 337.6,121.8 338.3,121.3 339.0,120.6 339.7,119.5 340.4,118.4 341.2,117.9 341.9,118.4 342.6,119.5 343.3,120.5 344.1,121.2 344.8,121.7 345.5,121.9 346.2,122.2 346.9,122.4 347.7,122.6 348.4,122.7 349.1,122.7 349.8,122.4 350.5,121.7 351.3,120.2 352.0,117.6 352.7,114.2 353.4,112.4 354.2,114.0 354.9,117.1 355.6,119.6 356.3,121.1 357.0,121.8 357.8,122.1 358.5,121.8 359.2,119.9 359.9,116.0 360.6,113.1 361.4,115.8 362.1,119.6 362.8,121.4 363.5,121.7 364.3,121.8 365.0,121.6 365.7,121.4 366.4,120.8 367.1,114.7 367.9,99.0 368.6,114.9 369.3,121.1 370.0,121.7 370.7,122.0 371.5,122.2 372.2,122.3 372.9,122.3 373.6,122.3 374.4,122.4 375.1,122.4 375.8,122.4 376.5,122.4 377.2,122.4 378.0,122.4 378.7,122.5 379.4,122.5 380.1,122.6 380.8,122.8 381.6,122.9 382.3,123.0 383.0,123.0 383.7,123.0 384.5,122.8 385.2,122.6 385.9,122.5 386.6,122.3 387.3,122.3 388.1,122.2 388.8,122.1 389.5,122.1 390.2,122.0 390.9,122.0 391.7,121.9 392.4,121.9 393.1,122.0 393.8,122.1 394.6,122.1 395.3,122.1 396.0,122.0 396.7,121.9 397.4,121.8 398.2,121.6 398.9,121.6 399.6,121.6 400.3,121.7 401.0,121.8 401.8,121.9 402.5,122.0 403.2,122.2 403.9,122.3 404.7,122.4 405.4,122.5 406.1,122.6 406.8,122.7 407.5,122.9 408.3,122.9 409.0,123.0 409.7,122.9 410.4,122.8 411.1,122.6 411.9,122.3 412.6,121.9 413.3,121.7 414.0,121.5 414.8,121.4 415.5,121.5 416.2,121.7 416.9,121.8 417.6,121.9 418.4,122.1 419.1,122.1 419.8,122.1 420.5,122.2 421.2,122.1 422.0,122.2 422.7,122.3 423.4,122.4 424.1,122.5 424.9,122.6 425.6,122.7 426.3,122.6 427.0,122.5 427.7,122.4 428.5,122.3 429.2,122.2 429.9,122.1 430.6,122.0 431.3,122.0 432.1,122.0 432.8,122.0 433.5,121.9 434.2,121.8 435.0,121.8 435.7,121.8 436.4,121.8 437.1,121.7 437.8,121.8 438.6,121.8 439.3,121.8 440.0,121.8 440.7,121.9 441.4,122.0 442.2,122.2 442.9,122.4 443.6,122.6 444.3,122.8 445.1,122.9 445.8,122.9 446.5,122.7 447.2,122.5 447.9,122.3 448.7,122.1 449.4,122.0 450.1,121.9 450.8,122.0 451.5,122.1 452.3,122.1 453.0,122.1 453.7,122.1 454.4,121.9 455.2,121.7 455.9,121.5 456.6,121.4 457.3,121.3 458.0,121.2 458.8,121.3 459.5,121.5 460.2,121.5 460.9,121.6 461.6,121.6 462.4,121.7 463.1,121.7 463.8,121.8 464.5,121.9 465.3,122.2 466.0,122.4 466.7,122.6 467.4,122.9 468.1,123.0 468.9,123.0 469.6,122.8 470.3,122.7 471.0,122.5 471.7,122.3 472.5,122.2 473.2,122.1 473.9,122.0 474.6,122.0 475.4,122.0 476.1,121.9 476.8,121.8 477.5,121.7 478.2,121.6 479.0,121.5 479.7,121.5 480.4,121.5 481.1,121.5 481.8,121.6 482.6,121.7 483.3,121.9 484.0,122.0 484.7,122.2 485.5,122.4 486.2,122.5 486.9,122.6 487.6,122.6 488.3,122.7 489.1,122.6 489.8,122.4 490.5,122.3 491.2,122.2 491.9,122.2 492.7,122.3 493.4,122.4 494.1,122.5 494.8,122.7 495.6,122.9 496.3,122.9 497.0,122.9 497.7,122.9 498.4,122.8 499.2,122.7 499.9,122.5 500.6,122.4 501.3,122.2 502.0,122.1 502.8,122.1 503.5,122.0 504.2,122.0 504.9,122.0 505.7,121.8 506.4,120.2 507.1,116.0 507.8,120.4 508.5,122.1 509.3,122.3 510.0,122.4 510.7,122.5 511.4,122.4 512.1,122.3 512.9,122.3 513.6,122.3 514.3,122.3 515.0,122.3 515.8,122.2 516.5,122.3 517.2,122.3 517.9,122.4 518.6,122.5 519.4,122.6 520.1,122.7 520.8,122.8 521.5,122.8 522.2,122.8 523.0,122.9 523.7,122.8 524.4,122.8 525.1,122.7 525.9,122.6 526.6,122.5 527.3,122.3 528.0,122.2 528.7,122.2 529.5,122.1 530.2,122.1 530.9,122.1 531.6,122.1 532.3,122.2 533.1,122.2 533.8,122.2 534.5,122.1 535.2,122.1 536.0,122.2 536.7,122.1 537.4,122.1 538.1,122.1 538.8,121.9 539.6,121.9 540.3,121.8 541.0,121.8"/><polyline fill="none" stroke="#00b050" stroke-width="1.3" stroke-linejoin="bevel" points="36.0,118.8 36.4,114.0 36.7,118.5 37.1,115.0 37.4,120.5 37.8,115.3 38.2,119.8 38.5,115.1 38.9,120.1 39.2,115.4 39.6,122.6 40.0,116.1 40.3,121.8 40.7,117.3 41.1,123.1 41.4,116.4 41.8,123.0 42.1,116.8 42.5,122.5 42.9,117.3 43.2,122.9 43.6,118.4 43.9,122.7 44.3,117.5 44.7,123.1 45.0,119.0 45.4,123.7 45.7,118.8 46.1,124.7 46.5,119.7 46.8,123.6 47.2,119.6 47.5,125.3 47.9,118.8 48.3,125.6 48.6,119.5 49.0,124.1 49.3,119.4 49.7,124.7 50.1,120.4 50.4,124.9 50.8,119.4 51.2,125.3 51.5,119.3 51.9,125.3 52.2,119.5 52.6,125.1 53.0,119.0 53.3,125.1 53.7,119.0 54.0,124.3 54.4,119.5 54.8,124.9 55.1,118.7 55.5,124.7 55.8,119.2 56.2,123.4 56.6,118.3 56.9,123.7 57.3,118.5 57.6,124.4 58.0,119.8 58.4,123.8 58.7,119.7 59.1,125.5 59.4,120.0 59.8,124.2 60.2,119.1 60.5,124.7 60.9,118.8 61.3,124.6 61.6,119.8 62.0,123.7 62.3,118.6 62.7,124.0 63.1,119.6 63.4,123.9 63.8,119.5 64.1,124.7 64.5,119.2 64.9,124.2 65.2,118.8 65.6,124.2 65.9,117.8 66.3,124.0 66.7,119.3 67.0,124.7 67.4,119.0 67.7,123.6 68.1,117.8 68.5,122.8 68.8,117.1 69.2,119.9 69.5,111.1 69.9,114.4 70.3,107.2 70.6,113.0 71.0,112.5 71.4,119.5 71.7,116.0 72.1,123.4 72.4,118.7 72.8,124.7 73.2,119.0 73.5,123.8 73.9,118.6 74.2,123.8 74.6,117.3 75.0,123.6 75.3,118.8 75.7,125.0 76.0,119.3 76.4,123.6 76.8,119.3 77.1,123.9 77.5,119.6 77.8,124.8 78.2,118.9 78.6,124.7 78.9,119.3 79.3,124.8 79.6,119.3 80.0,124.4 80.4,120.0 80.7,125.3 81.1,119.5 81.5,125.3 81.8,118.6 82.2,124.4 82.5,118.9 82.9,124.6 83.3,118.6 83.6,125.4 84.0,120.0 84.3,125.2 84.7,119.6 85.1,124.0 85.4,118.7 85.8,124.0 86.1,119.0 86.5,123.7 86.9,119.9 87.2,124.3 87.6,119.5 87.9,125.0 88.3,119.8 88.7,123.6 89.0,118.1 89.4,123.8 89.7,118.6 90.1,123.4 90.5,118.6 90.8,124.3 91.2,118.4 91.6,124.7 91.9,118.7 92.3,124.4 92.6,118.9 93.0,124.9 93.4,119.3 93.7,124.8 94.1,119.8 94.4,125.2 94.8,118.9 95.2,123.9 95.5,119.6 95.9,124.2 96.2,119.9 96.6,124.5 97.0,119.1 97.3,124.6 97.7,119.4 98.0,124.9 98.4,118.9 98.8,124.7 99.1,120.2 99.5,125.2 99.8,120.3 100.2,125.1 100.6,119.4 100.9,125.6 101.3,118.7 101.7,124.6 102.0,119.3 102.4,124.1 102.7,119.3 103.1,124.3 103.5,119.4 103.8,124.4 104.2,118.4 104.5,124.7 104.9,118.5 105.3,124.4 105.6,119.4 106.0,125.4 106.3,119.5 106.7,123.8 107.1,118.7 107.4,125.2 107.8,119.5 108.1,125.4 108.5,119.2 108.9,125.7 109.2,120.2 109.6,125.7 109.9,120.2 110.3,124.9 110.7,118.9 111.0,124.8 111.4,119.5 111.8,124.8 112.1,120.3 112.5,125.0 112.8,120.4 113.2,124.2 113.6,119.7 113.9,124.7 114.3,119.0 114.6,124.9 115.0,119.8 115.4,124.5 115.7,118.7 116.1,125.2 116.4,119.0 116.8,123.8 117.2,118.9 117.5,123.5 117.9,119.5 118.2,123.9 118.6,119.4 119.0,123.2 119.3,118.4 119.7,124.4 120.0,118.9 120.4,124.5 120.8,117.4 121.1,123.8 121.5,118.8 121.9,124.5 122.2,118.5 122.6,124.2 122.9,119.4 123.3,123.5 123.7,119.0 124.0,124.3 124.4,117.8 124.7,124.6 125.1,117.7 125.5,124.3 125.8,117.6 126.2,123.8 126.5,118.9 126.9,122.8 127.3,118.9 127.6,125.1 128.0,117.9 128.3,123.1 128.7,118.9 129.1,123.3 129.4,115.8 129.8,124.7 130.1,118.6 130.5,124.6 130.9,119.1 131.2,124.4 131.6,119.7 132.0,124.4 132.3,118.9 132.7,124.6 133.0,119.6 133.4,125.0 133.8,118.4 134.1,124.4 134.5,119.1 134.8,124.0 135.2,118.5 135.6,123.6 135.9,117.6 136.3,124.5 136.6,118.5 137.0,124.6 137.4,118.9 137.7,125.5 138.1,119.0 138.4,123.9 138.8,120.2 139.2,124.7 139.5,119.7 139.9,125.2 140.2,119.8 140.6,124.9 141.0,120.4 141.3,125.5 141.7,119.5 142.1,125.6 142.4,118.6 142.8,125.5 143.1,118.9 143.5,123.6 143.9,119.0 144.2,123.9 144.6,118.6 144.9,122.2 145.3,116.4 145.7,121.6 146.0,114.8 146.4,116.8 146.7,109.7 147.1,113.7 147.5,107.0 147.8,110.5 148.2,106.8 148.5,113.7 148.9,109.5 149.3,118.3 149.6,114.8 150.0,120.9 150.3,116.8 150.7,123.2 151.1,118.5 151.4,123.4 151.8,118.4 152.2,124.3 152.5,118.4 152.9,124.4 153.2,119.9 153.6,124.1 154.0,119.2 154.3,124.4 154.7,118.6 155.0,124.5 155.4,119.0 155.8,124.7 156.1,119.4 156.5,125.8 156.8,117.1 157.2,125.8 157.6,119.4 157.9,126.2 158.3,120.4 158.6,125.6 159.0,120.8 159.4,124.8 159.7,119.2 160.1,124.7 160.4,120.0 160.8,124.4 161.2,118.8 161.5,124.1 161.9,118.9 162.3,123.8 162.6,118.3 163.0,123.6 163.3,118.5 163.7,124.9 164.1,118.3 164.4,124.1 164.8,118.1 165.1,123.9 165.5,119.3 165.9,124.4 166.2,118.0 166.6,123.7 166.9,118.9 167.3,124.9 167.7,119.4 168.0,124.1 168.4,119.4 168.7,124.0 169.1,118.6 169.5,125.1 169.8,119.2 170.2,125.4 170.5,118.9 170.9,125.0 171.3,118.8 171.6,124.1 172.0,120.0 172.4,124.4 172.7,119.3 173.1,125.3 173.4,118.7 173.8,125.5 174.2,118.2 174.5,124.2 174.9,118.6 175.2,123.7 175.6,118.7 176.0,122.3 176.3,115.0 176.7,117.4 177.0,109.2 177.4,108.3 177.8,99.0 178.1,100.0 178.5,95.4 178.8,103.9 179.2,104.2 179.6,115.1 179.9,112.2 180.3,121.1 180.6,117.5 181.0,122.0 181.4,116.9 181.7,122.7 182.1,118.6 182.5,123.5 182.8,117.8 183.2,123.7 183.5,119.3 183.9,123.7 184.3,117.8 184.6,123.6 185.0,118.5 185.3,123.9 185.7,119.8 186.1,124.2 186.4,119.3 186.8,125.4 187.1,120.0 187.5,125.6 187.9,120.1 188.2,124.6 188.6,119.6 188.9,125.6 189.3,119.5 189.7,124.2 190.0,119.8 190.4,123.6 190.7,118.1 191.1,123.7 191.5,117.3 191.8,122.3 192.2,115.3 192.6,117.8 192.9,109.2 193.3,111.1 193.6,103.1 194.0,106.3 194.4,103.4 194.7,110.3 195.1,108.8 195.4,118.2 195.8,115.0 196.2,122.0 196.5,116.6 196.9,122.6 197.2,118.6 197.6,123.2 198.0,115.8 198.3,124.3 198.7,118.0 199.0,124.0 199.4,119.9 199.8,124.9 200.1,120.3 200.5,125.0 200.8,119.7 201.2,126.0 201.6,119.5 201.9,124.4 202.3,120.8 202.7,124.5 203.0,119.9 203.4,125.5 203.7,119.8 204.1,126.0 204.5,120.3 204.8,125.2 205.2,119.0 205.5,125.4 205.9,119.7 206.3,124.0 206.6,120.1 207.0,125.4 207.3,119.7 207.7,123.6 208.1,118.4 208.4,124.3 208.8,118.8 209.1,124.3 209.5,119.0 209.9,123.7 210.2,118.9 210.6,123.3 210.9,118.2 211.3,123.7 211.7,118.8 212.0,124.2 212.4,118.5 212.8,124.7 213.1,118.5 213.5,124.0 213.8,119.8 214.2,124.7 214.6,119.7 214.9,124.4 215.3,118.5 215.6,123.8 216.0,119.5 216.4,124.1 216.7,119.2 217.1,124.6 217.4,119.6 217.8,125.4 218.2,118.0 218.5,123.9 218.9,118.6 219.2,124.8 219.6,119.3 220.0,125.0 220.3,118.7 220.7,124.3 221.0,118.5 221.4,124.9 221.8,120.1 222.1,124.2 222.5,120.3 222.9,125.1 223.2,120.3 223.6,125.0 223.9,119.7 224.3,124.4 224.7,118.9 225.0,125.9 225.4,116.9 225.7,125.6 226.1,119.9 226.5,124.2 226.8,117.2 227.2,125.2 227.5,119.8 227.9,124.1 228.3,118.5 228.6,123.9 229.0,119.2 229.3,124.8 229.7,118.3 230.1,124.3 230.4,118.2 230.8,124.2 231.1,119.0 231.5,124.4 231.9,118.8 232.2,123.8 232.6,118.4 233.0,124.5 233.3,119.5 233.7,124.4 234.0,118.9 234.4,124.6 234.8,119.1 235.1,125.0 235.5,119.5 235.8,124.9 236.2,118.9 236.6,124.3 236.9,119.4 237.3,124.4 237.6,120.7 238.0,125.9 238.4,120.5 238.7,124.4 239.1,119.1 239.4,124.7 239.8,119.6 240.2,124.9 240.5,119.3 240.9,125.1 241.2,119.3 241.6,125.1 242.0,119.5 242.3,123.8 242.7,118.6 243.1,125.3 243.4,118.5 243.8,123.8 244.1,119.2 244.5,124.8 244.9,119.0 245.2,125.2 245.6,118.3 245.9,124.9 246.3,116.7 246.7,124.4 247.0,119.2 247.4,125.4 247.7,119.9 248.1,124.9 248.5,119.1 248.8,124.4 249.2,118.9 249.5,125.2 249.9,119.1 250.3,124.2 250.6,119.7 251.0,124.7 251.3,119.6 251.7,124.9 252.1,118.6 252.4,123.8 252.8,119.0 253.2,125.0 253.5,119.0 253.9,125.3 254.2,119.1 254.6,124.4 255.0,120.1 255.3,125.5 255.7,119.4 256.0,124.8 256.4,120.0 256.8,124.6 257.1,119.5 257.5,125.8 257.8,120.6 258.2,125.6 258.6,119.9 258.9,124.6 259.3,119.5 259.6,125.3 260.0,119.3 260.4,125.0 260.7,118.0 261.1,124.7 261.4,118.6 261.8,124.6 262.2,118.8 262.5,123.5 262.9,119.2 263.3,124.2 263.6,119.7 264.0,124.9 264.3,119.6 264.7,123.8 265.1,119.6 265.4,123.7 265.8,118.3 266.1,123.8 266.5,117.6 266.9,121.8 267.2,115.3 267.6,119.6 267.9,112.5 268.3,116.8 268.7,110.2 269.0,116.9 269.4,109.9 269.7,116.9 270.1,112.5 270.5,119.0 270.8,115.2 271.2,122.3 271.5,117.5 271.9,123.5 272.3,118.7 272.6,124.8 273.0,119.3 273.4,124.0 273.7,119.3 274.1,124.7 274.4,119.9 274.8,123.9 275.2,119.7 275.5,124.0 275.9,118.9 276.2,124.6 276.6,119.2 277.0,125.6 277.3,119.5 277.7,125.7 278.0,119.7 278.4,124.4 278.8,119.8 279.1,125.0 279.5,120.1 279.8,125.2 280.2,119.1 280.6,126.2 280.9,119.3 281.3,124.5 281.6,119.2 282.0,125.4 282.4,119.9 282.7,125.5 283.1,119.4 283.5,125.1 283.8,119.1 284.2,124.3 284.5,118.6 284.9,124.7 285.3,119.2 285.6,124.5 286.0,119.4 286.3,123.7 286.7,119.0 287.1,123.4 287.4,118.3 287.8,124.3 288.1,119.6 288.5,124.7 288.9,117.5 289.2,124.7 289.6,119.4 289.9,124.0 290.3,119.5 290.7,125.2 291.0,119.7 291.4,124.2 291.7,118.6 292.1,123.9 292.5,117.4 292.8,122.6 293.2,117.2 293.6,122.1 293.9,117.9 294.3,122.2 294.6,116.5 295.0,121.8 295.4,116.4 295.7,122.1 296.1,114.9 296.4,120.9 296.8,114.4 297.2,120.1 297.5,114.2 297.9,120.1 298.2,115.8 298.6,121.1 299.0,115.5 299.3,119.8 299.7,115.8 300.0,121.3 300.4,113.0 300.8,121.9 301.1,116.6 301.5,121.3 301.8,115.8 302.2,121.8 302.6,117.8 302.9,123.2 303.3,118.0 303.7,123.2 304.0,118.1 304.4,123.6 304.7,118.2 305.1,124.1 305.5,118.7 305.8,122.9 306.2,118.7 306.5,123.2 306.9,119.2 307.3,123.6 307.6,119.3 308.0,123.7 308.3,119.3 308.7,124.8 309.1,119.9 309.4,125.2 309.8,120.0 310.1,125.2 310.5,118.9 310.9,124.7 311.2,119.4 311.6,123.9 311.9,118.5 312.3,124.9 312.7,119.7 313.0,123.9 313.4,118.2 313.8,124.5 314.1,118.2 314.5,124.6 314.8,119.3 315.2,124.4 315.6,117.9 315.9,123.4 316.3,117.8 316.6,123.0 317.0,116.5 317.4,121.5 317.7,116.1 318.1,118.2 318.4,110.0 318.8,111.8 319.2,102.5 319.5,105.0 319.9,97.4 320.2,103.6 320.6,103.0 321.0,112.4 321.3,110.3 321.7,118.8 322.0,114.4 322.4,123.3 322.8,118.8 323.1,124.7 323.5,119.2 323.9,123.6 324.2,118.3 324.6,125.4 324.9,119.2 325.3,124.2 325.7,120.1 326.0,125.5 326.4,119.3 326.7,125.6 327.1,119.2 327.5,125.3 327.8,119.6 328.2,124.7 328.5,119.3 328.9,124.1 329.3,119.8 329.6,125.3 330.0,120.2 330.3,124.6 330.7,120.1 331.1,124.9 331.4,119.4 331.8,124.6 332.1,119.3 332.5,124.6 332.9,120.4 333.2,125.2 333.6,120.1 334.0,124.8 334.3,120.5 334.7,124.3 335.0,119.0 335.4,125.8 335.8,118.7 336.1,124.9 336.5,120.0 336.8,124.6 337.2,119.0 337.6,124.4 337.9,118.6 338.3,123.9 338.6,117.8 339.0,124.0 339.4,115.9 339.7,122.5 340.1,115.4 340.4,121.4 340.8,116.1 341.2,121.5 341.5,114.6 341.9,120.6 342.2,116.8 342.6,123.0 343.0,117.4 343.3,123.8 343.7,117.7 344.1,125.8 344.4,119.0 344.8,125.0 345.1,119.0 345.5,124.4 345.9,119.5 346.2,125.6 346.6,119.9 346.9,125.8 347.3,119.5 347.7,125.5 348.0,120.7 348.4,126.0 348.7,120.7 349.1,126.2 349.5,120.2 349.8,125.9 350.2,120.3 350.5,123.6 350.9,117.7 351.3,122.4 351.6,114.5 352.0,120.3 352.3,113.1 352.7,116.4 353.1,109.6 353.4,114.4 353.8,110.8 354.2,117.6 354.5,112.9 354.9,119.1 355.2,116.5 355.6,122.0 356.0,118.0 356.3,124.5 356.7,119.0 357.0,124.3 357.4,119.4 357.8,124.5 358.1,119.5 358.5,125.2 358.8,117.7 359.2,122.7 359.6,116.2 359.9,119.1 360.3,111.6 360.6,116.4 361.0,110.8 361.4,118.6 361.7,115.5 362.1,122.4 362.4,117.2 362.8,124.5 363.2,119.2 363.5,124.7 363.9,117.5 364.3,124.1 364.6,118.7 365.0,125.0 365.3,118.4 365.7,123.7 366.1,119.0 366.4,124.0 366.8,117.2 367.1,117.8 367.5,102.3 367.9,100.9 368.2,101.9 368.6,118.4 368.9,117.4 369.3,123.5 369.7,118.0 370.0,124.0 370.4,119.4 370.7,124.1 371.1,118.8 371.5,124.7 371.8,118.7 372.2,125.8 372.5,119.5 372.9,124.7 373.3,120.4 373.6,125.5 374.0,118.8 374.4,124.9 374.7,119.1 375.1,124.6 375.4,119.8 375.8,124.9 376.2,119.7 376.5,124.8 376.9,117.9 377.2,124.3 377.6,119.5 378.0,125.5 378.3,118.9 378.7,125.3 379.0,120.0 379.4,124.7 379.8,120.2 380.1,125.9 380.5,120.9 380.8,126.2 381.2,119.6 381.6,125.6 381.9,119.7 382.3,125.3 382.6,118.6 383.0,126.2 383.4,119.9 383.7,125.4 384.1,119.8 384.5,124.9 384.8,120.8 385.2,125.9 385.5,119.9 385.9,125.7 386.3,119.7 386.6,125.0 387.0,118.9 387.3,125.8 387.7,119.6 388.1,124.6 388.4,119.8 388.8,125.4 389.1,119.8 389.5,124.7 389.9,120.2 390.2,124.2 390.6,118.6 390.9,125.4 391.3,118.3 391.7,124.2 392.0,119.0 392.4,124.7 392.7,118.6 393.1,124.5 393.5,118.6 393.8,124.4 394.2,119.6 394.6,124.3 394.9,120.1 395.3,125.1 395.6,118.9 396.0,124.6 396.4,118.8 396.7,124.8 397.1,118.6 397.4,124.4 397.8,119.4 398.2,124.7 398.5,119.4 398.9,124.7 399.2,118.3 399.6,123.8 400.0,118.6 400.3,124.4 400.7,118.4 401.0,123.7 401.4,119.7 401.8,124.3 402.1,118.7 402.5,124.3 402.8,119.8 403.2,124.9 403.6,119.0 403.9,125.5 404.3,120.4 404.7,124.9 405.0,119.0 405.4,125.0 405.7,120.4 406.1,124.6 406.5,120.1 406.8,125.6 407.2,119.2 407.5,126.2 407.9,119.5 408.3,125.0 408.6,121.0 409.0,125.4 409.3,119.9 409.7,125.5 410.1,119.5 410.4,125.6 410.8,119.1 411.1,125.6 411.5,119.9 411.9,124.9 412.2,118.9 412.6,124.6 412.9,119.2 413.3,123.8 413.7,118.4 414.0,124.2 414.4,119.4 414.8,124.1 415.1,118.4 415.5,124.8 415.8,118.1 416.2,123.8 416.6,118.9 416.9,124.1 417.3,119.4 417.6,124.8 418.0,119.0 418.4,123.9 418.7,120.1 419.1,125.4 419.4,119.6 419.8,124.0 420.2,119.4 420.5,124.7 420.9,119.8 421.2,125.6 421.6,118.9 422.0,124.9 422.3,117.0 422.7,125.8 423.0,120.1 423.4,124.5 423.8,120.0 424.1,125.4 424.5,119.1 424.9,125.7 425.2,119.6 425.6,125.3 425.9,119.6 426.3,125.0 426.7,120.7 427.0,125.0 427.4,119.8 427.7,124.8 428.1,118.9 428.5,125.4 428.8,119.0 429.2,124.4 429.5,119.1 429.9,124.2 430.3,118.9 430.6,124.0 431.0,119.9 431.3,123.9 431.7,119.3 432.1,124.8 432.4,118.6 432.8,124.3 433.1,119.6 433.5,124.1 433.9,118.7 434.2,124.1 434.6,118.8 435.0,124.7 435.3,119.2 435.7,124.2 436.0,118.5 436.4,125.2 436.8,119.4 437.1,124.6 437.5,118.3 437.8,124.0 438.2,119.8 438.6,125.0 438.9,119.3 439.3,124.9 439.6,118.2 440.0,124.2 440.4,118.9 440.7,124.4 441.1,118.5 441.4,124.5 441.8,119.5 442.2,125.3 442.5,120.0 442.9,125.8 443.2,120.3 443.6,125.7 444.0,119.4 444.3,124.6 444.7,120.2 445.1,125.6 445.4,119.5 445.8,125.5 446.1,119.6 446.5,124.9 446.9,119.9 447.2,125.5 447.6,120.3 447.9,124.3 448.3,120.2 448.7,124.3 449.0,119.8 449.4,124.4 449.7,119.2 450.1,123.9 450.5,119.5 450.8,124.2 451.2,119.1 451.5,125.0 451.9,118.9 452.3,125.3 452.6,119.8 453.0,125.2 453.3,119.7 453.7,124.7 454.1,119.0 454.4,124.4 454.8,118.4 455.2,123.6 455.5,118.1 455.9,124.2 456.2,118.5 456.6,123.3 457.0,118.8 457.3,123.2 457.7,117.9 458.0,123.6 458.4,117.7 458.8,124.6 459.1,119.2 459.5,123.3 459.8,119.3 460.2,123.4 460.6,118.1 460.9,123.7 461.3,118.3 461.6,123.6 462.0,118.9 462.4,125.0 462.7,119.4 463.1,123.9 463.4,119.2 463.8,124.9 464.2,118.3 464.5,125.3 464.9,119.6 465.3,125.2 465.6,119.3 466.0,126.0 466.3,120.1 466.7,125.7 467.1,120.2 467.4,126.5 467.8,120.3 468.1,126.1 468.5,120.9 468.9,126.4 469.2,119.9 469.6,124.9 469.9,119.6 470.3,124.8 470.7,119.6 471.0,126.0 471.4,119.7 471.7,125.1 472.1,119.0 472.5,124.2 472.8,120.1 473.2,124.2 473.5,118.5 473.9,125.4 474.3,118.8 474.6,124.9 475.0,118.9 475.4,124.8 475.7,118.6 476.1,125.2 476.4,119.7 476.8,124.4 477.2,118.8 477.5,125.0 477.9,118.0 478.2,125.0 478.6,118.2 479.0,123.7 479.3,118.4 479.7,125.0 480.0,118.0 480.4,124.8 480.8,119.4 481.1,125.0 481.5,119.0 481.8,123.6 482.2,119.8 482.6,124.8 482.9,119.0 483.3,124.6 483.6,119.7 484.0,125.0 484.4,118.9 484.7,124.8 485.1,120.3 485.5,124.3 485.8,119.6 486.2,124.7 486.5,120.7 486.9,125.9 487.3,120.8 487.6,125.2 488.0,119.5 488.3,124.8 488.7,120.5 489.1,125.0 489.4,120.1 489.8,124.4 490.1,119.6 490.5,125.9 490.9,118.8 491.2,125.3 491.6,119.9 491.9,125.6 492.3,120.4 492.7,125.0 493.0,119.3 493.4,125.6 493.7,118.9 494.1,125.4 494.5,119.7 494.8,125.9 495.2,119.3 495.6,124.9 495.9,119.6 496.3,126.2 496.6,120.3 497.0,126.3 497.4,119.5 497.7,124.9 498.1,119.3 498.4,125.5 498.8,120.8 499.2,125.2 499.5,118.0 499.9,125.0 500.2,118.9 500.6,125.1 501.0,120.0 501.3,125.6 501.7,119.9 502.0,125.2 502.4,120.2 502.8,124.2 503.1,119.2 503.5,124.4 503.8,120.1 504.2,124.5 504.6,119.0 504.9,125.1 505.3,118.6 505.7,123.8 506.0,118.2 506.4,122.9 506.7,114.6 507.1,118.4 507.5,115.2 507.8,123.8 508.2,118.8 508.5,125.0 508.9,119.1 509.3,124.7 509.6,119.0 510.0,125.4 510.3,119.2 510.7,126.0 511.1,119.4 511.4,125.5 511.8,119.1 512.1,125.3 512.5,119.0 512.9,125.0 513.2,120.0 513.6,124.6 513.9,118.9 514.3,124.7 514.7,120.3 515.0,124.8 515.4,119.4 515.8,125.4 516.1,120.3 516.5,124.9 516.8,119.1 517.2,125.0 517.6,120.1 517.9,125.9 518.3,120.0 518.6,124.6 519.0,119.9 519.4,125.5 519.7,119.5 520.1,125.7 520.4,119.6 520.8,125.4 521.2,119.8 521.5,126.0 521.9,119.6 522.2,125.9 522.6,120.6 523.0,125.9 523.3,118.3 523.7,126.4 524.0,119.5 524.4,124.6 524.8,119.2 525.1,125.3 525.5,119.9 525.9,124.6 526.2,120.1 526.6,124.5 526.9,119.9 527.3,124.6 527.7,120.1 528.0,124.7 528.4,118.8 528.7,124.8 529.1,119.8 529.5,124.0 529.8,119.8 530.2,125.6 530.5,118.6 530.9,125.5 531.3,118.9 531.6,125.5 532.0,120.4 532.3,125.6 532.7,118.8 533.1,124.3 533.4,118.7 533.8,125.1 534.1,119.9 534.5,125.5 534.9,120.2 535.2,125.0 535.6,119.6 536.0,125.0 536.3,118.7 536.7,124.9 537.0,118.9 537.4,124.1 537.8,118.6 538.1,124.6 538.5,120.0 538.8,124.1 539.2,118.5 539.6,123.7 539.9,118.4 540.3,125.0 540.6,119.4 541.0,125.2"/><polygon fill="#0070c0" points="36.0,121.2 36.8,121.2 36.8,126.6 37.6,126.6 37.6,128.4 38.4,128.4 38.4,128.7 39.2,128.7 39.2,132.5 40.0,132.5 40.0,134.6 40.8,134.6 40.8,136.2 41.6,136.2 41.6,138.0 42.4,138.0 42.4,139.1 43.2,139.1 43.2,141.2 44.0,141.2 44.0,140.3 44.8,140.3 44.8,141.9 45.6,141.9 45.6,141.6 46.4,141.6 46.4,143.1 47.2,143.1 47.2,134.7 48.0,134.7 48.0,144.6 48.8,144.6 48.8,144.6 49.6,144.6 49.6,144.1 50.4,144.1 50.4,145.3 52.4,145.3 52.4,141.5 53.9,141.5 53.9,142.7 57.9,142.7 57.9,139.7 59.4,139.7 59.4,144.9 61.9,144.9 61.9,149.9 65.9,149.9 65.9,146.2 68.4,146.2 68.4,150.1 69.9,150.1 69.9,151.2 72.9,151.2 72.9,150.1 74.4,150.1 74.4,150.3 76.9,150.3 76.9,151.2 78.9,151.2 78.9,147.1 82.9,147.1 82.9,150.7 85.9,150.7 85.9,141.3 88.9,141.3 88.9,151.0 91.9,151.0 91.9,151.0 93.9,151.0 93.9,152.0 96.4,152.0 96.4,152.5 97.9,152.5 97.9,151.5 100.4,151.5 100.4,151.6 102.9,151.6 102.9,147.6 104.9,147.6 104.9,152.1 107.4,152.1 107.4,149.1 108.9,149.1 108.9,145.6 111.4,145.6 111.4,146.4 114.4,146.4 114.4,146.2 115.9,146.2 115.9,153.5 119.9,153.5 119.9,151.7 121.4,151.7 121.4,148.8 125.4,148.8 125.4,150.0 128.4,150.0 128.4,154.3 130.4,154.3 130.4,150.9 133.4,150.9 133.4,145.1 135.9,145.1 135.9,150.4 137.9,150.4 137.9,155.5 139.9,155.5 139.9,146.3 141.4,146.3 141.4,147.1 144.4,147.1 144.4,155.4 145.9,155.4 145.9,147.1 148.9,147.1 148.9,155.5 152.9,155.5 152.9,151.0 154.4,151.0 154.4,152.2 157.4,152.2 157.4,156.3 159.4,156.3 159.4,156.1 161.4,156.1 161.4,155.5 166.4,155.5 166.4,153.9 167.9,153.9 167.9,152.9 171.4,152.9 171.4,156.1 174.4,156.1 174.4,156.7 175.4,156.7 175.4,153.1 176.4,153.1 176.4,148.8 177.4,148.8 177.4,143.1 178.4,143.1 178.4,143.7 179.4,143.7 179.4,146.5 180.4,146.5 180.4,152.4 181.4,152.4 181.4,155.7 182.4,155.7 182.4,151.3 186.4,151.3 186.4,156.5 189.4,156.5 189.4,156.0 190.4,156.0 190.4,154.2 191.4,154.2 191.4,148.3 192.4,148.3 192.4,139.3 193.4,139.3 193.4,135.0 194.4,135.0 194.4,138.2 195.4,138.2 195.4,145.1 196.4,145.1 196.4,152.3 197.4,152.3 197.4,156.9 198.4,156.9 198.4,157.3 201.4,157.3 201.4,157.9 202.9,157.9 202.9,157.6 207.9,157.6 207.9,156.3 211.4,156.3 211.4,158.3 215.4,158.3 215.4,158.5 219.4,158.5 219.4,154.0 224.4,154.0 224.4,159.1 228.4,159.1 228.4,159.6 231.9,159.6 231.9,154.8 236.9,154.8 236.9,159.6 240.9,159.6 240.9,155.1 244.4,155.1 244.4,154.9 247.9,154.9 247.9,159.5 250.9,159.5 250.9,159.5 252.9,159.5 252.9,160.0 256.4,160.0 256.4,149.6 261.4,149.6 261.4,147.8 265.4,147.8 265.4,159.5 270.4,159.5 270.4,154.2 272.4,154.2 272.4,154.5 277.4,154.5 277.4,157.5 281.4,157.5 281.4,159.6 284.4,159.6 284.4,157.4 287.4,157.4 287.4,159.7 289.4,159.7 289.4,157.0 294.4,157.0 294.4,159.8 296.4,159.8 296.4,157.1 298.4,157.1 298.4,159.7 301.9,159.7 301.9,157.3 305.9,157.3 305.9,160.7 307.4,160.7 307.4,155.4 312.4,155.4 312.4,160.6 316.4,160.6 316.4,160.3 317.4,160.3 317.4,154.7 318.4,154.7 318.4,140.7 319.4,140.7 319.4,132.5 320.4,132.5 320.4,138.1 321.4,138.1 321.4,152.7 322.4,152.7 322.4,159.4 323.4,159.4 323.4,160.7 324.9,160.7 324.9,159.9 327.9,159.9 327.9,159.9 330.9,159.9 330.9,154.8 335.9,154.8 335.9,160.5 339.9,160.5 339.9,160.1 340.9,160.1 340.9,150.3 345.9,150.3 345.9,158.3 348.9,158.3 348.9,155.2 350.4,155.2 350.4,159.9 351.4,159.9 351.4,159.8 352.4,159.8 352.4,149.1 353.4,149.1 353.4,140.8 354.4,140.8 354.4,146.9 355.4,146.9 355.4,159.7 356.4,159.7 356.4,153.4 360.4,153.4 360.4,155.3 363.4,155.3 363.4,160.4 364.9,160.4 364.9,160.1 368.9,160.1 368.9,149.6 372.9,149.6 372.9,156.8 377.9,156.8 377.9,161.0 379.4,161.0 379.4,152.6 384.4,152.6 384.4,160.3 385.9,160.3 385.9,160.2 388.9,160.2 388.9,157.3 391.9,157.3 391.9,160.5 396.9,160.5 396.9,160.5 398.4,160.5 398.4,160.8 401.4,160.8 401.4,158.0 402.9,158.0 402.9,160.3 405.9,160.3 405.9,160.4 410.9,160.4 410.9,153.0 414.9,153.0 414.9,157.4 419.9,157.4 419.9,159.9 423.4,159.9 423.4,157.3 426.9,157.3 426.9,161.0 428.4,161.0 428.4,160.1 432.4,160.1 432.4,156.9 435.9,156.9 435.9,156.3 437.4,156.3 437.4,152.3 438.9,152.3 438.9,159.3 440.4,159.3 440.4,151.3 441.9,151.3 441.9,160.1 443.9,160.1 443.9,158.9 447.9,158.9 447.9,158.8 450.9,158.8 450.9,159.5 452.9,159.5 452.9,156.8 456.9,156.8 456.9,158.5 461.9,158.5 461.9,158.4 464.9,158.4 464.9,158.4 466.4,158.4 466.4,158.7 469.4,158.7 469.4,158.1 472.4,158.1 472.4,151.4 473.9,151.4 473.9,151.8 477.4,151.8 477.4,158.4 479.4,158.4 479.4,152.8 480.9,152.8 480.9,158.1 483.9,158.1 483.9,157.9 487.9,157.9 487.9,158.1 489.9,158.1 489.9,158.0 494.9,158.0 494.9,151.0 497.9,151.0 497.9,153.1 502.9,153.1 502.9,157.7 506.4,157.7 506.4,147.5 511.4,147.5 511.4,153.2 513.4,153.2 513.4,152.5 515.4,152.5 515.4,153.1 520.4,153.1 520.4,158.1 523.9,158.1 523.9,149.6 527.4,149.6 527.4,154.7 531.4,154.7 531.4,147.0 536.4,147.0 536.4,158.2 537.9,158.2 537.9,157.7 540.9,157.7 540.9,158.0 541.0,158.0 541.0,169.9 537.0,169.9 537.0,169.8 533.7,169.8 533.7,169.7 531.6,169.7 531.6,170.2 529.7,170.2 529.7,170.0 528.7,170.0 528.7,170.2 526.9,170.2 526.9,169.6 525.7,169.6 525.7,170.0 521.8,170.0 521.8,169.7 520.1,169.7 520.1,170.1 518.1,170.1 518.1,170.1 515.9,170.1 515.9,170.2 511.9,170.2 511.9,170.0 509.9,170.0 509.9,170.1 506.1,170.1 506.1,170.1 502.7,170.1 502.7,169.9 498.7,169.9 498.7,169.6 497.3,169.6 497.3,169.6 494.0,169.6 494.0,169.7 491.0,169.7 491.0,167.6 488.0,167.6 488.0,169.6 486.7,169.6 486.7,170.2 483.2,170.2 483.2,169.7 481.3,169.7 481.3,170.0 479.9,170.0 479.9,170.2 476.0,170.2 476.0,169.8 473.9,169.8 473.9,169.9 470.9,169.9 470.9,169.6 469.5,169.6 469.5,170.2 467.9,170.2 467.9,169.8 466.3,169.8 466.3,169.6 464.4,169.6 464.4,170.0 463.0,170.0 463.0,170.2 460.1,170.2 460.1,170.1 456.3,170.1 456.3,167.3 453.3,167.3 453.3,170.2 451.2,170.2 451.2,170.1 447.9,170.1 447.9,169.8 445.1,169.8 445.1,169.8 443.2,169.8 443.2,167.6 439.4,167.6 439.4,170.3 435.8,170.3 435.8,170.1 432.4,170.1 432.4,170.1 428.9,170.1 428.9,170.1 426.6,170.1 426.6,169.7 423.9,169.7 423.9,169.6 422.8,169.6 422.8,169.7 421.6,169.7 421.6,168.2 418.0,168.2 418.0,170.0 414.6,170.0 414.6,169.9 413.5,169.9 413.5,170.3 411.7,170.3 411.7,170.0 408.4,170.0 408.4,170.0 404.7,170.0 404.7,170.0 402.9,170.0 402.9,170.2 401.3,170.2 401.3,170.2 399.4,170.2 399.4,169.6 396.6,169.6 396.6,169.7 395.4,169.7 395.4,169.7 394.1,169.7 394.1,170.1 390.2,170.1 390.2,169.9 388.3,169.9 388.3,169.8 385.3,169.8 385.3,170.0 383.9,170.0 383.9,169.7 381.0,169.7 381.0,170.0 378.1,170.0 378.1,169.7 377.1,169.7 377.1,170.1 374.4,170.1 374.4,169.8 370.9,169.8 370.9,169.8 369.4,169.8 369.4,169.9 367.5,169.9 367.5,169.7 366.0,169.7 366.0,168.7 363.7,168.7 363.7,169.7 361.3,169.7 361.3,170.0 358.9,170.0 358.9,169.9 355.8,169.9 355.8,169.7 352.8,169.7 352.8,169.9 350.0,169.9 350.0,170.1 346.7,170.1 346.7,169.9 344.8,169.9 344.8,170.2 341.0,170.2 341.0,169.6 337.9,169.6 337.9,170.1 334.0,170.1 334.0,167.3 330.4,167.3 330.4,169.9 328.1,169.9 328.1,170.1 326.5,170.1 326.5,170.0 325.4,170.0 325.4,169.8 322.5,169.8 322.5,170.0 320.4,170.0 320.4,170.1 317.3,170.1 317.3,169.6 316.3,169.6 316.3,170.0 313.0,170.0 313.0,169.8 311.9,169.8 311.9,170.1 308.8,170.1 308.8,169.6 305.6,169.6 305.6,170.2 302.7,170.2 302.7,170.1 299.5,170.1 299.5,169.8 297.2,169.8 297.2,169.8 295.1,169.8 295.1,169.9 292.6,169.9 292.6,169.7 291.4,169.7 291.4,170.2 290.3,170.2 290.3,170.2 288.4,170.2 288.4,169.9 285.8,169.9 285.8,170.2 283.8,170.2 283.8,170.3 282.0,170.3 282.0,170.0 280.6,170.0 280.6,168.5 277.1,168.5 277.1,170.2 273.7,170.2 273.7,170.0 271.6,170.0 271.6,170.1 270.3,170.1 270.3,170.0 269.1,170.0 269.1,168.0 265.8,168.0 265.8,169.9 264.4,169.9 264.4,169.7 262.0,169.7 262.0,170.2 260.3,170.2 260.3,169.9 256.5,169.9 256.5,169.8 254.9,169.8 254.9,169.7 253.0,169.7 253.0,170.1 250.7,170.1 250.7,170.1 247.6,170.1 247.6,170.3 245.8,170.3 245.8,169.9 244.3,169.9 244.3,170.1 240.3,170.1 240.3,167.5 237.9,167.5 237.9,170.1 234.8,170.1 234.8,169.9 231.0,169.9 231.0,167.3 229.3,167.3 229.3,168.5 225.6,168.5 225.6,169.9 221.6,169.9 221.6,170.1 218.3,170.1 218.3,166.8 216.2,166.8 216.2,170.2 214.9,170.2 214.9,170.2 212.1,170.2 212.1,170.0 209.4,170.0 209.4,170.1 205.5,170.1 205.5,169.8 201.9,169.8 201.9,169.7 199.3,169.7 199.3,169.6 195.4,169.6 195.4,169.9 193.1,169.9 193.1,169.6 191.5,169.6 191.5,170.1 189.3,170.1 189.3,169.8 186.0,169.8 186.0,170.1 183.2,170.1 183.2,169.9 182.0,169.9 182.0,170.2 179.9,170.2 179.9,169.9 176.9,169.9 176.9,169.7 175.1,169.7 175.1,170.1 171.6,170.1 171.6,170.0 170.5,170.0 170.5,169.9 168.5,169.9 168.5,169.7 166.0,169.7 166.0,170.0 164.2,170.0 164.2,169.7 162.3,169.7 162.3,170.1 158.5,170.1 158.5,170.0 156.2,170.0 156.2,170.2 155.1,170.2 155.1,169.9 152.0,169.9 152.0,170.0 150.9,170.0 150.9,169.7 149.9,169.7 149.9,169.8 146.7,169.8 146.7,170.2 143.7,170.2 143.7,170.0 140.8,170.0 140.8,169.9 139.5,169.9 139.5,170.0 137.6,170.0 137.6,170.2 135.0,170.2 135.0,168.1 133.7,168.1 133.7,170.1 130.5,170.1 130.5,170.0 128.7,170.0 128.7,170.2 125.3,170.2 125.3,169.8 123.9,169.8 123.9,169.8 122.7,169.8 122.7,169.9 118.8,169.9 118.8,169.8 116.6,169.8 116.6,169.9 115.3,169.9 115.3,170.2 111.4,170.2 111.4,166.7 109.1,166.7 109.1,169.8 107.6,169.8 107.6,169.9 105.9,169.9 105.9,169.8 102.5,169.8 102.5,170.0 100.7,170.0 100.7,169.8 98.8,169.8 98.8,169.9 96.3,169.9 96.3,167.6 94.3,167.6 94.3,169.9 90.4,169.9 90.4,168.1 89.3,168.1 89.3,169.8 87.7,169.8 87.7,169.6 86.1,169.6 86.1,170.2 84.3,170.2 84.3,170.2 82.0,170.2 82.0,170.2 80.8,170.2 80.8,167.4 79.7,167.4 79.7,169.7 76.2,169.7 76.2,169.7 73.6,169.7 73.6,169.7 72.0,169.7 72.0,170.2 70.8,170.2 70.8,170.1 68.6,170.1 68.6,170.1 67.0,170.1 67.0,170.1 64.5,170.1 64.5,170.2 61.4,170.2 61.4,169.9 57.9,169.9 57.9,169.6 54.6,169.6 54.6,169.9 50.9,169.9 50.9,170.2 48.8,170.2 48.8,170.1 47.2,170.1 47.2,169.6 44.4,169.6 44.4,170.1 42.5,170.1 42.5,164.3 39.2,164.3 39.2,163.9 36.8,163.9 36.8,164.2 36.0,164.2"/><polyline fill="none" stroke="#bf9000" stroke-width="3.0" stroke-linejoin="round" points="36.0,222.7 36.7,222.7 37.4,222.6 38.2,222.6 38.9,222.5 39.6,222.5 40.3,222.4 41.1,222.4 41.8,222.5 42.5,222.6 43.2,222.8 43.9,222.9 44.7,223.0 45.4,223.1 46.1,223.2 46.8,223.2 47.5,223.2 48.3,223.3 49.0,223.4 49.7,223.5 50.4,223.7 51.2,223.8 51.9,224.0 52.6,224.1 53.3,224.2 54.0,224.2 54.8,224.3 55.5,224.3 56.2,224.1 56.9,224.0 57.6,224.0 58.4,223.9 59.1,223.8 59.8,223.7 60.5,223.6 61.3,223.6 62.0,223.5 62.7,223.5 63.4,223.5 64.1,223.6 64.9,223.8 65.6,224.0 66.3,224.1 67.0,224.2 67.7,224.2 68.5,223.6 69.2,221.4 69.9,217.0 70.6,213.9 71.4,216.8 72.1,221.3 72.8,223.5 73.5,224.3 74.2,224.6 75.0,224.9 75.7,225.2 76.4,225.4 77.1,225.4 77.8,225.2 78.6,225.1 79.3,224.8 80.0,224.5 80.7,224.2 81.5,224.1 82.2,224.1 82.9,224.1 83.6,224.1 84.3,224.2 85.1,224.2 85.8,224.3 86.5,224.2 87.2,224.2 87.9,224.2 88.7,224.2 89.4,224.2 90.1,224.2 90.8,224.3 91.6,224.4 92.3,224.5 93.0,224.7 93.7,224.7 94.4,224.8 95.2,224.8 95.9,224.7 96.6,224.6 97.3,224.4 98.0,224.3 98.8,224.2 99.5,224.1 100.2,224.1 100.9,224.1 101.7,224.2 102.4,224.2 103.1,224.2 103.8,224.1 104.5,224.0 105.3,224.0 106.0,224.0 106.7,224.1 107.4,224.3 108.1,224.5 108.9,224.7 109.6,224.9 110.3,225.1 111.0,225.0 111.8,224.9 112.5,224.7 113.2,224.4 113.9,224.2 114.6,224.2 115.4,224.2 116.1,224.2 116.8,224.3 117.5,224.4 118.2,224.6 119.0,224.7 119.7,224.9 120.4,225.1 121.1,225.2 121.9,225.3 122.6,225.4 123.3,225.4 124.0,225.3 124.7,225.2 125.5,225.1 126.2,224.9 126.9,224.8 127.6,224.7 128.3,224.6 129.1,224.5 129.8,224.5 130.5,224.5 131.2,224.6 132.0,224.6 132.7,224.6 133.4,224.7 134.1,224.8 134.8,224.8 135.6,224.8 136.3,224.9 137.0,224.9 137.7,224.8 138.4,224.6 139.2,224.5 139.9,224.3 140.6,224.1 141.3,223.9 142.1,223.6 142.8,223.4 143.5,223.1 144.2,222.7 144.9,222.1 145.7,220.2 146.4,210.0 147.1,185.2 147.8,184.8 148.5,208.2 149.3,215.4 150.0,214.2 150.7,214.7 151.4,218.2 152.2,221.3 152.9,223.1 153.6,223.8 154.3,224.2 155.0,224.5 155.8,224.7 156.5,224.8 157.2,224.8 157.9,224.7 158.6,224.5 159.4,224.3 160.1,224.1 160.8,223.9 161.5,223.8 162.3,223.7 163.0,223.6 163.7,223.5 164.4,223.4 165.1,223.3 165.9,223.2 166.6,223.0 167.3,222.9 168.0,222.8 168.7,222.7 169.5,222.7 170.2,222.7 170.9,222.7 171.6,222.7 172.4,222.7 173.1,222.9 173.8,222.9 174.5,222.9 175.2,222.8 176.0,222.5 176.7,221.0 177.4,215.6 178.1,205.0 178.8,197.7 179.6,205.1 180.3,215.8 181.0,221.3 181.7,222.8 182.5,223.3 183.2,223.4 183.9,223.6 184.6,223.6 185.3,223.8 186.1,223.9 186.8,224.0 187.5,223.9 188.2,223.8 188.9,223.6 189.7,223.2 190.4,222.7 191.1,221.9 191.8,220.3 192.6,217.4 193.3,214.0 194.0,212.2 194.7,214.1 195.4,217.8 196.2,220.7 196.9,222.4 197.6,223.3 198.3,223.8 199.0,224.0 199.8,224.0 200.5,223.4 201.2,221.7 201.9,220.7 202.7,221.8 203.4,223.5 204.1,224.3 204.8,224.4 205.5,224.4 206.3,224.3 207.0,224.2 207.7,224.1 208.4,224.0 209.1,223.9 209.9,223.9 210.6,224.0 211.3,224.1 212.0,224.2 212.8,224.4 213.5,224.6 214.2,224.8 214.9,224.9 215.6,225.0 216.4,225.1 217.1,225.2 217.8,225.2 218.5,225.1 219.2,225.0 220.0,224.8 220.7,224.6 221.4,224.4 222.1,224.2 222.9,223.9 223.6,223.9 224.3,223.8 225.0,223.7 225.7,223.7 226.5,223.7 227.2,223.7 227.9,223.8 228.6,223.9 229.3,223.9 230.1,224.0 230.8,224.1 231.5,224.1 232.2,224.2 233.0,224.2 233.7,224.3 234.4,224.3 235.1,224.5 235.8,224.5 236.6,224.7 237.3,224.7 238.0,224.7 238.7,224.8 239.4,224.7 240.2,224.8 240.9,224.7 241.6,224.7 242.3,224.7 243.1,224.6 243.8,224.5 244.5,224.5 245.2,224.4 245.9,224.4 246.7,224.6 247.4,224.6 248.1,224.8 248.8,224.8 249.5,224.8 250.3,224.6 251.0,224.4 251.7,224.3 252.4,224.1 253.2,224.0 253.9,224.1 254.6,224.2 255.3,224.3 256.0,224.3 256.8,224.4 257.5,224.3 258.2,224.1 258.9,224.0 259.6,223.8 260.4,223.6 261.1,223.4 261.8,223.3 262.5,223.1 263.3,222.9 264.0,222.8 264.7,222.5 265.4,221.9 266.1,221.2 266.9,220.1 267.6,219.0 268.3,218.1 269.0,217.7 269.7,218.1 270.5,219.0 271.2,220.1 271.9,221.2 272.6,221.9 273.4,222.4 274.1,222.8 274.8,223.1 275.5,223.5 276.2,223.8 277.0,224.1 277.7,224.4 278.4,224.5 279.1,224.6 279.8,224.6 280.6,224.4 281.3,224.3 282.0,224.1 282.7,223.9 283.5,223.9 284.2,223.9 284.9,224.1 285.6,224.3 286.3,224.5 287.1,224.7 287.8,224.8 288.5,224.8 289.2,224.7 289.9,224.5 290.7,224.3 291.4,224.1 292.1,224.0 292.8,224.1 293.6,224.1 294.3,224.1 295.0,224.3 295.7,224.3 296.4,224.3 297.2,224.3 297.9,224.2 298.6,224.1 299.3,224.0 300.0,223.8 300.8,223.7 301.5,223.5 302.2,223.3 302.9,223.0 303.7,222.6 304.4,222.2 305.1,221.5 305.8,221.0 306.5,220.5 307.3,220.4 308.0,220.5 308.7,221.1 309.4,221.7 310.1,222.5 310.9,223.2 311.6,223.6 312.3,223.9 313.0,224.0 313.8,223.8 314.5,223.4 315.2,222.8 315.9,221.8 316.6,220.2 317.4,217.9 318.1,214.9 318.8,211.8 319.5,209.7 320.2,209.8 321.0,212.0 321.7,215.1 322.4,218.1 323.1,220.4 323.9,221.9 324.6,222.8 325.3,223.3 326.0,223.7 326.7,223.9 327.5,224.0 328.2,224.2 328.9,224.2 329.6,224.1 330.3,224.0 331.1,223.9 331.8,223.8 332.5,223.7 333.2,223.6 334.0,223.7 334.7,223.8 335.4,223.8 336.1,223.8 336.8,223.8 337.6,223.6 338.3,223.4 339.0,223.0 339.7,222.5 340.4,218.8 341.2,218.4 341.9,221.7 342.6,221.6 343.3,221.5 344.1,221.3 344.8,221.1 345.5,220.9 346.2,220.8 346.9,220.7 347.7,220.6 348.4,220.5 349.1,220.4 349.8,220.3 350.5,220.1 351.3,219.7 352.0,218.9 352.7,217.6 353.4,216.0 354.2,215.3 354.9,216.4 355.6,218.4 356.3,219.9 357.0,220.8 357.8,221.2 358.5,221.0 359.2,220.3 359.9,219.3 360.6,218.2 361.4,217.8 362.1,218.4 362.8,219.9 363.5,221.3 364.3,222.2 365.0,222.8 365.7,223.1 366.4,223.3 367.1,223.5 367.9,223.8 368.6,223.9 369.3,224.0 370.0,224.1 370.7,224.1 371.5,224.1 372.2,224.0 372.9,223.9 373.6,224.0 374.4,224.1 375.1,224.2 375.8,224.3 376.5,224.3 377.2,224.4 378.0,224.4 378.7,224.3 379.4,224.3 380.1,224.2 380.8,224.2 381.6,224.3 382.3,224.3 383.0,224.3 383.7,224.5 384.5,224.7 385.2,224.7 385.9,224.7 386.6,224.7 387.3,224.6 388.1,224.4 388.8,224.2 389.5,224.0 390.2,223.8 390.9,223.8 391.7,223.8 392.4,223.9 393.1,224.0 393.8,224.2 394.6,224.5 395.3,224.6 396.0,224.8 396.7,224.8 397.4,224.6 398.2,224.5 398.9,224.3 399.6,224.1 400.3,223.9 401.0,223.6 401.8,223.5 402.5,223.4 403.2,223.4 403.9,223.4 404.7,223.5 405.4,223.6 406.1,223.9 406.8,224.1 407.5,224.4 408.3,224.5 409.0,224.6 409.7,224.7 410.4,224.8 411.1,224.8 411.9,224.8 412.6,224.8 413.3,224.9 414.0,225.0 414.8,225.0 415.5,225.0 416.2,225.0 416.9,225.1 417.6,225.1 418.4,225.1 419.1,225.0 419.8,225.0 420.5,225.0 421.2,224.9 422.0,224.8 422.7,224.6 423.4,224.5 424.1,224.3 424.9,224.1 425.6,223.8 426.3,223.7 427.0,223.5 427.7,223.5 428.5,223.5 429.2,223.6 429.9,223.8 430.6,224.1 431.3,224.4 432.1,224.7 432.8,224.9 433.5,225.1 434.2,225.3 435.0,225.3 435.7,225.3 436.4,225.3 437.1,225.2 437.8,225.3 438.6,225.3 439.3,225.3 440.0,225.4 440.7,225.4 441.4,225.4 442.2,225.3 442.9,225.0 443.6,224.7 444.3,224.4 445.1,224.2 445.8,224.0 446.5,223.8 447.2,223.7 447.9,223.7 448.7,223.8 449.4,223.9 450.1,224.1 450.8,224.2 451.5,224.5 452.3,224.7 453.0,224.9 453.7,225.1 454.4,225.1 455.2,225.1 455.9,225.0 456.6,224.9 457.3,224.7 458.0,224.5 458.8,224.3 459.5,224.1 460.2,223.9 460.9,223.8 461.6,223.7 462.4,223.6 463.1,223.6 463.8,223.7 464.5,223.9 465.3,224.0 466.0,224.2 466.7,224.4 467.4,224.6 468.1,224.6 468.9,224.6 469.6,224.5 470.3,224.4 471.0,224.3 471.7,224.2 472.5,224.0 473.2,224.0 473.9,224.1 474.6,224.2 475.4,224.4 476.1,224.6 476.8,224.8 477.5,224.9 478.2,225.0 479.0,225.2 479.7,225.2 480.4,225.1 481.1,225.0 481.8,225.0 482.6,224.9 483.3,224.7 484.0,224.4 484.7,224.2 485.5,223.9 486.2,223.6 486.9,223.2 487.6,222.8 488.3,222.4 489.1,222.1 489.8,221.9 490.5,221.9 491.2,222.0 491.9,222.4 492.7,222.8 493.4,223.2 494.1,223.6 494.8,223.8 495.6,223.9 496.3,224.0 497.0,223.9 497.7,223.9 498.4,223.8 499.2,223.8 499.9,223.8 500.6,223.9 501.3,223.9 502.0,224.0 502.8,224.1 503.5,224.2 504.2,224.2 504.9,224.1 505.7,223.7 506.4,222.7 507.1,221.3 507.8,220.6 508.5,221.3 509.3,222.7 510.0,223.7 510.7,224.2 511.4,224.3 512.1,224.4 512.9,224.4 513.6,224.3 514.3,224.3 515.0,224.2 515.8,224.1 516.5,224.0 517.2,224.0 517.9,224.0 518.6,224.0 519.4,224.1 520.1,224.3 520.8,224.3 521.5,224.3 522.2,224.3 523.0,224.2 523.7,224.0 524.4,223.9 525.1,223.7 525.9,223.7 526.6,223.6 527.3,223.6 528.0,222.3 528.7,215.6 529.5,222.6 530.2,224.2 530.9,224.4 531.6,224.6 532.3,224.8 533.1,224.9 533.8,225.0 534.5,225.1 535.2,225.1 536.0,225.1 536.7,225.1 537.4,225.1 538.1,225.1 538.8,225.1 539.6,225.1 540.3,225.1 541.0,225.1"/><polyline fill="none" stroke="#bf9000" stroke-width="1.3" stroke-linejoin="bevel" points="36.0,224.3 36.4,220.6 36.7,226.0 37.1,221.1 37.4,224.8 37.8,220.4 38.2,224.9 38.5,220.5 38.9,225.1 39.2,220.7 39.6,225.3 40.0,220.1 40.3,225.1 40.7,219.6 41.1,224.6 41.4,220.4 41.8,225.4 42.1,220.4 42.5,225.1 42.9,218.9 43.2,224.7 43.6,219.9 43.9,224.6 44.3,219.7 44.7,226.1 45.0,221.2 45.4,226.0 45.7,220.2 46.1,225.5 46.5,220.5 46.8,224.8 47.2,220.9 47.5,226.5 47.9,221.7 48.3,225.5 48.6,220.5 49.0,225.3 49.3,221.9 49.7,225.8 50.1,220.4 50.4,226.6 50.8,220.5 51.2,225.4 51.5,222.0 51.9,227.1 52.2,220.8 52.6,226.4 53.0,222.6 53.3,226.7 53.7,221.1 54.0,226.4 54.4,221.1 54.8,225.8 55.1,221.4 55.5,225.9 55.8,221.1 56.2,226.5 56.6,221.2 56.9,225.6 57.3,221.3 57.6,225.6 58.0,221.6 58.4,226.3 58.7,220.9 59.1,226.0 59.4,222.0 59.8,226.4 60.2,222.1 60.5,225.3 60.9,221.2 61.3,226.0 61.6,221.9 62.0,225.2 62.3,220.7 62.7,226.2 63.1,221.4 63.4,226.5 63.8,221.7 64.1,226.5 64.5,222.0 64.9,226.9 65.2,221.4 65.6,226.1 65.9,222.2 66.3,225.8 66.7,222.0 67.0,227.0 67.4,221.6 67.7,226.5 68.1,222.2 68.5,226.7 68.8,220.9 69.2,223.4 69.5,216.6 69.9,219.6 70.3,212.7 70.6,216.0 71.0,211.6 71.4,219.2 71.7,217.6 72.1,223.3 72.4,219.4 72.8,225.2 73.2,221.5 73.5,225.8 73.9,219.5 74.2,226.8 74.6,221.9 75.0,228.0 75.3,222.5 75.7,226.8 76.0,223.3 76.4,227.6 76.8,222.5 77.1,227.3 77.5,223.5 77.8,227.1 78.2,222.8 78.6,227.9 78.9,221.7 79.3,227.3 79.6,221.7 80.0,227.7 80.4,221.8 80.7,227.4 81.1,221.7 81.5,226.6 81.8,221.7 82.2,225.9 82.5,222.4 82.9,226.9 83.3,222.6 83.6,226.6 84.0,220.9 84.3,226.4 84.7,221.4 85.1,226.4 85.4,222.1 85.8,227.0 86.1,221.3 86.5,226.1 86.9,221.5 87.2,226.2 87.6,222.6 87.9,226.5 88.3,221.4 88.7,226.5 89.0,221.5 89.4,226.9 89.7,221.9 90.1,226.9 90.5,222.1 90.8,227.6 91.2,221.6 91.6,225.9 91.9,221.4 92.3,227.5 92.6,221.5 93.0,227.0 93.4,223.1 93.7,227.5 94.1,222.6 94.4,227.1 94.8,223.0 95.2,228.1 95.5,222.4 95.9,226.6 96.2,222.3 96.6,227.7 97.0,221.8 97.3,227.5 97.7,221.2 98.0,227.4 98.4,221.2 98.8,227.1 99.1,221.6 99.5,226.7 99.8,221.6 100.2,226.2 100.6,221.2 100.9,225.8 101.3,221.0 101.7,225.7 102.0,222.0 102.4,226.5 102.7,221.3 103.1,226.9 103.5,222.2 103.8,227.2 104.2,221.0 104.5,226.4 104.9,221.4 105.3,227.2 105.6,221.4 106.0,227.0 106.3,222.4 106.7,225.8 107.1,221.1 107.4,226.5 107.8,222.0 108.1,226.8 108.5,222.6 108.9,227.1 109.2,221.6 109.6,228.2 109.9,223.3 110.3,227.5 110.7,222.6 111.0,226.7 111.4,223.0 111.8,226.9 112.1,223.0 112.5,227.6 112.8,221.5 113.2,227.1 113.6,221.1 113.9,227.5 114.3,222.3 114.6,226.8 115.0,221.2 115.4,226.7 115.7,221.8 116.1,226.7 116.4,221.0 116.8,227.3 117.2,222.3 117.5,226.0 117.9,221.8 118.2,226.8 118.6,222.0 119.0,227.0 119.3,223.0 119.7,226.7 120.0,223.0 120.4,228.0 120.8,223.1 121.1,228.5 121.5,222.3 121.9,228.4 122.2,223.0 122.6,227.7 122.9,223.8 123.3,228.0 123.7,222.2 124.0,227.0 124.4,222.9 124.7,228.2 125.1,222.2 125.5,227.8 125.8,222.8 126.2,226.9 126.5,222.9 126.9,226.5 127.3,222.0 127.6,226.9 128.0,221.8 128.3,227.7 128.7,223.0 129.1,226.6 129.4,221.9 129.8,226.9 130.1,221.9 130.5,227.7 130.9,222.7 131.2,227.0 131.6,222.9 132.0,226.9 132.3,222.3 132.7,226.1 133.0,222.6 133.4,227.7 133.8,222.3 134.1,227.1 134.5,222.5 134.8,227.7 135.2,223.2 135.6,227.3 135.9,223.2 136.3,227.8 136.6,222.6 137.0,226.8 137.4,222.7 137.7,227.5 138.1,221.6 138.4,227.5 138.8,221.3 139.2,226.5 139.5,222.5 139.9,226.8 140.2,222.5 140.6,225.9 141.0,221.3 141.3,226.9 141.7,220.9 142.1,225.2 142.4,220.2 142.8,226.3 143.1,220.7 143.5,225.7 143.9,220.8 144.2,224.7 144.6,219.7 144.9,223.9 145.3,218.5 145.7,222.6 146.0,214.3 146.4,212.7 146.7,195.4 147.1,186.8 147.5,176.1 147.8,186.5 148.2,195.8 148.5,211.4 148.9,212.2 149.3,217.1 149.6,212.0 150.0,216.8 150.3,212.3 150.7,217.9 151.1,213.9 151.4,221.5 151.8,216.2 152.2,224.1 152.5,220.7 152.9,226.2 153.2,221.6 153.6,225.9 154.0,222.0 154.3,226.2 154.7,222.5 155.0,226.3 155.4,222.4 155.8,226.8 156.1,223.1 156.5,226.5 156.8,222.5 157.2,226.8 157.6,223.1 157.9,227.7 158.3,222.7 158.6,227.5 159.0,222.3 159.4,225.9 159.7,221.9 160.1,226.1 160.4,222.5 160.8,225.5 161.2,222.0 161.5,226.8 161.9,221.7 162.3,226.4 162.6,221.6 163.0,225.6 163.3,220.5 163.7,226.8 164.1,221.5 164.4,226.3 164.8,221.3 165.1,225.3 165.5,220.5 165.9,225.8 166.2,220.5 166.6,226.0 166.9,221.5 167.3,226.0 167.7,220.4 168.0,226.0 168.4,219.7 168.7,225.1 169.1,220.4 169.5,225.6 169.8,219.8 170.2,224.4 170.5,221.1 170.9,224.8 171.3,220.5 171.6,224.3 172.0,219.8 172.4,225.9 172.7,220.3 173.1,225.0 173.4,221.1 173.8,224.5 174.2,220.5 174.5,224.4 174.9,220.3 175.2,224.3 175.6,219.7 176.0,224.5 176.3,219.6 176.7,223.8 177.0,215.9 177.4,217.2 177.8,209.0 178.1,207.9 178.5,198.1 178.8,199.7 179.2,197.7 179.6,207.8 179.9,208.6 180.3,218.2 180.6,217.5 181.0,224.2 181.4,219.7 181.7,226.0 182.1,220.6 182.5,226.1 182.8,221.4 183.2,225.9 183.5,221.5 183.9,225.3 184.3,220.3 184.6,226.9 185.0,221.7 185.3,226.4 185.7,221.0 186.1,225.8 186.4,222.0 186.8,227.1 187.1,221.7 187.5,226.4 187.9,221.0 188.2,226.2 188.6,221.1 188.9,225.7 189.3,220.2 189.7,226.3 190.0,220.6 190.4,225.6 190.7,219.2 191.1,225.1 191.5,219.5 191.8,222.8 192.2,216.4 192.6,219.6 192.9,213.4 193.3,216.3 193.6,210.2 194.0,215.0 194.4,209.7 194.7,217.2 195.1,213.0 195.4,220.5 195.8,217.5 196.2,223.1 196.5,220.1 196.9,223.9 197.2,220.9 197.6,225.7 198.0,221.0 198.3,226.3 198.7,220.6 199.0,227.0 199.4,221.8 199.8,226.2 200.1,221.4 200.5,225.7 200.8,220.4 201.2,224.7 201.6,218.1 201.9,222.7 202.3,219.2 202.7,224.6 203.0,219.9 203.4,226.0 203.7,221.0 204.1,227.0 204.5,221.9 204.8,226.5 205.2,222.1 205.5,227.1 205.9,221.2 206.3,226.7 206.6,221.8 207.0,226.3 207.3,221.3 207.7,226.7 208.1,221.9 208.4,226.5 208.8,220.8 209.1,225.9 209.5,221.0 209.9,226.3 210.2,221.9 210.6,227.2 210.9,221.8 211.3,226.2 211.7,220.9 212.0,226.4 212.4,222.4 212.8,226.0 213.1,221.6 213.5,227.4 213.8,222.6 214.2,227.4 214.6,222.3 214.9,227.9 215.3,223.4 215.6,227.2 216.0,223.5 216.4,226.9 216.7,222.7 217.1,227.7 217.4,223.2 217.8,226.9 218.2,222.0 218.5,227.1 218.9,221.8 219.2,228.2 219.6,222.1 220.0,226.8 220.3,222.6 220.7,226.3 221.0,221.8 221.4,227.2 221.8,221.6 222.1,226.7 222.5,221.7 222.9,227.5 223.2,221.9 223.6,226.4 223.9,221.9 224.3,226.6 224.7,221.7 225.0,226.9 225.4,221.5 225.7,226.6 226.1,220.9 226.5,225.9 226.8,220.6 227.2,226.6 227.5,220.6 227.9,226.1 228.3,221.9 228.6,225.5 229.0,221.4 229.3,225.6 229.7,220.7 230.1,225.6 230.4,221.0 230.8,227.1 231.1,221.7 231.5,227.3 231.9,222.6 232.2,226.8 232.6,221.5 233.0,226.7 233.3,221.5 233.7,226.4 234.0,221.9 234.4,227.5 234.8,221.2 235.1,226.0 235.5,222.6 235.8,226.8 236.2,222.5 236.6,226.2 236.9,222.1 237.3,226.6 237.6,221.6 238.0,227.7 238.4,222.6 238.7,227.6 239.1,220.7 239.4,227.0 239.8,222.0 240.2,227.3 240.5,222.7 240.9,227.6 241.2,222.4 241.6,226.7 242.0,221.2 242.3,226.3 242.7,222.7 243.1,226.8 243.4,221.3 243.8,227.3 244.1,221.7 244.5,227.5 244.9,222.0 245.2,227.6 245.6,222.6 245.9,227.7 246.3,222.9 246.7,226.6 247.0,221.4 247.4,226.4 247.7,223.2 248.1,227.6 248.5,222.9 248.8,226.4 249.2,223.1 249.5,226.8 249.9,222.6 250.3,227.8 250.6,222.7 251.0,227.4 251.3,222.2 251.7,226.0 252.1,222.6 252.4,227.2 252.8,222.2 253.2,225.9 253.5,221.7 253.9,227.4 254.2,221.9 254.6,226.0 255.0,221.6 255.3,226.8 255.7,221.6 256.0,226.2 256.4,221.8 256.8,227.3 257.1,222.0 257.5,226.2 257.8,221.2 258.2,226.6 258.6,221.6 258.9,226.0 259.3,220.8 259.6,226.6 260.0,220.6 260.4,226.9 260.7,221.4 261.1,225.4 261.4,221.2 261.8,225.0 262.2,221.0 262.5,225.5 262.9,220.3 263.3,224.6 263.6,220.0 264.0,224.9 264.3,220.2 264.7,225.4 265.1,219.8 265.4,223.8 265.8,219.0 266.1,223.1 266.5,219.0 266.9,223.3 267.2,217.4 267.6,221.5 267.9,216.4 268.3,220.7 268.7,215.7 269.0,220.6 269.4,215.8 269.7,221.2 270.1,216.4 270.5,220.8 270.8,217.9 271.2,222.7 271.5,218.2 271.9,224.1 272.3,219.7 272.6,225.0 273.0,219.3 273.4,225.7 273.7,220.3 274.1,224.8 274.4,220.2 274.8,226.2 275.2,221.3 275.5,225.4 275.9,221.8 276.2,226.5 276.6,221.8 277.0,226.6 277.3,221.9 277.7,226.0 278.0,222.2 278.4,226.7 278.8,222.4 279.1,227.8 279.5,221.5 279.8,227.2 280.2,221.3 280.6,227.6 280.9,221.1 281.3,227.1 281.6,221.7 282.0,225.9 282.4,222.2 282.7,226.6 283.1,222.4 283.5,225.5 283.8,222.0 284.2,226.5 284.5,220.7 284.9,226.4 285.3,222.3 285.6,226.8 286.0,222.6 286.3,226.4 286.7,221.7 287.1,226.4 287.4,223.0 287.8,227.4 288.1,223.1 288.5,227.4 288.9,221.5 289.2,227.9 289.6,223.1 289.9,227.3 290.3,221.7 290.7,226.6 291.0,222.2 291.4,226.4 291.7,222.1 292.1,225.5 292.5,221.2 292.8,227.0 293.2,220.9 293.6,225.7 293.9,219.6 294.3,227.1 294.6,222.0 295.0,227.5 295.4,222.3 295.7,226.2 296.1,221.4 296.4,226.0 296.8,222.5 297.2,226.8 297.5,221.8 297.9,226.9 298.2,222.3 298.6,226.4 299.0,221.3 299.3,226.2 299.7,221.9 300.0,226.3 300.4,220.8 300.8,225.4 301.1,220.5 301.5,225.8 301.8,220.7 302.2,225.9 302.6,218.8 302.9,225.9 303.3,220.5 303.7,224.3 304.0,219.3 304.4,225.3 304.7,219.4 305.1,224.2 305.5,219.3 305.8,223.8 306.2,218.5 306.5,223.2 306.9,217.2 307.3,223.6 307.6,218.7 308.0,222.6 308.3,218.0 308.7,223.4 309.1,218.7 309.4,223.5 309.8,219.7 310.1,225.8 310.5,221.0 310.9,225.4 311.2,220.4 311.6,225.9 311.9,222.1 312.3,225.9 312.7,219.7 313.0,226.3 313.4,221.7 313.8,225.7 314.1,222.1 314.5,225.0 314.8,220.3 315.2,224.9 315.6,220.6 315.9,225.1 316.3,219.0 316.6,222.0 317.0,216.8 317.4,219.5 317.7,214.7 318.1,217.7 318.4,210.2 318.8,215.0 319.2,208.1 319.5,211.5 319.9,206.2 320.2,212.2 320.6,208.3 321.0,214.7 321.3,210.9 321.7,218.0 322.0,214.8 322.4,220.8 322.8,217.3 323.1,222.5 323.5,218.2 323.9,223.5 324.2,220.8 324.6,225.6 324.9,221.5 325.3,226.3 325.7,220.7 326.0,225.5 326.4,221.7 326.7,226.5 327.1,221.2 327.5,226.2 327.8,221.1 328.2,227.1 328.5,222.5 328.9,227.0 329.3,221.0 329.6,226.8 330.0,221.0 330.3,226.9 330.7,222.1 331.1,227.0 331.4,222.1 331.8,225.7 332.1,220.6 332.5,226.6 332.9,221.5 333.2,226.5 333.6,221.4 334.0,225.6 334.3,221.6 334.7,225.9 335.0,220.7 335.4,226.4 335.8,221.1 336.1,227.1 336.5,221.9 336.8,226.9 337.2,221.9 337.6,226.0 337.9,221.0 338.3,225.2 338.6,221.3 339.0,225.7 339.4,220.4 339.7,224.6 340.1,219.5 340.4,221.4 340.8,213.3 341.2,221.0 341.5,218.1 341.9,223.7 342.2,219.2 342.6,223.6 343.0,219.1 343.3,223.7 343.7,218.7 344.1,223.3 344.4,219.5 344.8,222.7 345.1,218.4 345.5,223.8 345.9,218.8 346.2,222.5 346.6,218.2 346.9,223.3 347.3,217.5 347.7,223.5 348.0,216.5 348.4,222.6 348.7,218.1 349.1,222.2 349.5,218.4 349.8,221.9 350.2,218.5 350.5,222.2 350.9,216.7 351.3,222.2 351.6,217.8 352.0,222.2 352.3,216.0 352.7,219.8 353.1,213.8 353.4,218.3 353.8,213.3 354.2,217.0 354.5,212.5 354.9,219.5 355.2,214.5 355.6,220.6 356.0,216.1 356.3,222.4 356.7,218.0 357.0,224.0 357.4,218.3 357.8,223.0 358.1,218.3 358.5,222.8 358.8,218.8 359.2,224.1 359.6,217.1 359.9,222.6 360.3,216.4 360.6,220.6 361.0,214.7 361.4,220.8 361.7,215.0 362.1,221.7 362.4,216.5 362.8,222.0 363.2,219.0 363.5,224.3 363.9,220.4 364.3,223.7 364.6,220.3 365.0,225.8 365.3,218.9 365.7,226.2 366.1,220.5 366.4,226.3 366.8,221.7 367.1,226.1 367.5,221.4 367.9,226.3 368.2,221.1 368.6,226.0 368.9,222.2 369.3,226.8 369.7,222.4 370.0,225.7 370.4,222.3 370.7,226.3 371.1,221.9 371.5,226.4 371.8,222.1 372.2,226.4 372.5,221.0 372.9,225.6 373.3,221.3 373.6,226.5 374.0,221.6 374.4,225.6 374.7,221.8 375.1,226.7 375.4,222.1 375.8,226.4 376.2,222.4 376.5,226.8 376.9,221.7 377.2,226.9 377.6,222.1 378.0,226.6 378.3,221.8 378.7,227.1 379.0,221.1 379.4,227.5 379.8,221.1 380.1,227.0 380.5,220.9 380.8,225.9 381.2,221.6 381.6,225.9 381.9,222.1 382.3,225.9 382.6,221.8 383.0,226.2 383.4,221.6 383.7,226.1 384.1,221.7 384.5,227.4 384.8,221.8 385.2,227.6 385.5,221.5 385.9,227.9 386.3,221.9 386.6,227.6 387.0,222.8 387.3,227.2 387.7,221.8 388.1,226.9 388.4,222.4 388.8,227.3 389.1,221.1 389.5,227.1 389.9,221.0 390.2,226.1 390.6,221.8 390.9,226.4 391.3,220.8 391.7,225.8 392.0,220.6 392.4,226.9 392.7,219.8 393.1,226.7 393.5,222.5 393.8,225.9 394.2,221.5 394.6,227.2 394.9,222.4 395.3,227.5 395.6,222.5 396.0,227.0 396.4,223.1 396.7,227.8 397.1,223.1 397.4,227.5 397.8,221.6 398.2,226.4 398.5,221.4 398.9,227.6 399.2,221.6 399.6,226.2 400.0,221.8 400.3,226.7 400.7,222.1 401.0,225.6 401.4,222.0 401.8,226.3 402.1,220.2 402.5,226.4 402.8,220.2 403.2,225.0 403.6,220.5 403.9,226.5 404.3,220.8 404.7,225.6 405.0,220.6 405.4,226.2 405.7,221.4 406.1,227.1 406.5,221.0 406.8,226.4 407.2,221.5 407.5,226.9 407.9,221.6 408.3,227.3 408.6,221.4 409.0,227.6 409.3,221.5 409.7,226.5 410.1,222.1 410.4,226.7 410.8,221.5 411.1,226.8 411.5,222.5 411.9,227.2 412.2,222.9 412.6,227.5 412.9,221.8 413.3,226.9 413.7,221.7 414.0,228.1 414.4,223.4 414.8,227.3 415.1,222.4 415.5,227.7 415.8,221.8 416.2,226.9 416.6,221.4 416.9,227.3 417.3,222.7 417.6,228.2 418.0,223.2 418.4,227.5 418.7,221.8 419.1,226.9 419.4,222.7 419.8,228.6 420.2,222.4 420.5,227.5 420.9,222.7 421.2,227.6 421.6,223.3 422.0,227.9 422.3,223.1 422.7,227.5 423.0,222.0 423.4,227.0 423.8,222.4 424.1,227.1 424.5,222.1 424.9,226.9 425.2,220.7 425.6,226.0 425.9,220.8 426.3,225.4 426.7,220.9 427.0,225.5 427.4,221.1 427.7,225.1 428.1,221.7 428.5,226.1 428.8,220.4 429.2,226.5 429.5,222.0 429.9,226.0 430.3,221.0 430.6,225.7 431.0,221.4 431.3,226.0 431.7,221.6 432.1,227.0 432.4,222.0 432.8,228.1 433.1,222.9 433.5,227.4 433.9,223.0 434.2,226.9 434.6,222.9 435.0,227.6 435.3,223.0 435.7,228.1 436.0,222.1 436.4,228.3 436.8,222.2 437.1,228.3 437.5,222.9 437.8,227.1 438.2,223.4 438.6,228.1 438.9,222.1 439.3,228.0 439.6,222.7 440.0,227.6 440.4,223.4 440.7,228.4 441.1,221.3 441.4,228.6 441.8,222.9 442.2,228.5 442.5,222.8 442.9,226.6 443.2,222.8 443.6,226.9 444.0,221.9 444.3,226.3 444.7,222.6 445.1,226.9 445.4,220.9 445.8,227.0 446.1,221.6 446.5,225.3 446.9,221.6 447.2,226.7 447.6,221.3 447.9,226.1 448.3,221.5 448.7,225.7 449.0,220.8 449.4,226.2 449.7,221.7 450.1,225.7 450.5,222.3 450.8,226.2 451.2,222.7 451.5,226.9 451.9,220.4 452.3,226.6 452.6,221.8 453.0,227.1 453.3,222.9 453.7,228.0 454.1,222.6 454.4,228.3 454.8,222.0 455.2,226.7 455.5,223.0 455.9,227.5 456.2,223.3 456.6,228.1 457.0,222.8 457.3,227.4 457.7,221.4 458.0,227.0 458.4,221.6 458.8,226.8 459.1,222.1 459.5,226.0 459.8,222.2 460.2,226.7 460.6,221.9 460.9,228.2 461.3,221.2 461.6,226.0 462.0,222.1 462.4,226.8 462.7,220.9 463.1,226.7 463.4,221.2 463.8,225.7 464.2,221.5 464.5,225.4 464.9,221.1 465.3,227.1 465.6,221.0 466.0,226.3 466.3,222.5 466.7,227.2 467.1,221.3 467.4,227.5 467.8,222.1 468.1,227.9 468.5,223.0 468.9,226.5 469.2,221.5 469.6,227.6 469.9,222.4 470.3,227.1 470.7,222.0 471.0,226.7 471.4,221.4 471.7,225.9 472.1,220.3 472.5,226.8 472.8,221.5 473.2,225.6 473.5,220.8 473.9,227.2 474.3,222.6 474.6,227.3 475.0,221.6 475.4,226.0 475.7,222.3 476.1,226.2 476.4,221.9 476.8,227.1 477.2,222.8 477.5,227.2 477.9,222.0 478.2,227.2 478.6,223.2 479.0,228.2 479.3,223.4 479.7,227.8 480.0,222.1 480.4,227.4 480.8,222.5 481.1,227.0 481.5,221.7 481.8,226.9 482.2,222.5 482.6,226.7 482.9,222.5 483.3,227.4 483.6,222.6 484.0,227.1 484.4,221.6 484.7,226.0 485.1,221.6 485.5,226.8 485.8,221.2 486.2,225.9 486.5,221.9 486.9,225.2 487.3,220.1 487.6,226.0 488.0,220.9 488.3,224.2 488.7,220.1 489.1,224.0 489.4,220.0 489.8,223.6 490.1,220.0 490.5,225.8 490.9,219.7 491.2,224.0 491.6,220.2 491.9,225.0 492.3,220.3 492.7,224.7 493.0,220.2 493.4,225.8 493.7,221.0 494.1,225.2 494.5,220.4 494.8,226.4 495.2,221.8 495.6,227.0 495.9,221.8 496.3,226.3 496.6,221.4 497.0,227.0 497.4,221.1 497.7,227.2 498.1,219.7 498.4,226.2 498.8,221.0 499.2,227.0 499.5,221.9 499.9,226.3 500.2,221.6 500.6,226.4 501.0,220.7 501.3,226.4 501.7,221.6 502.0,225.7 502.4,222.2 502.8,226.8 503.1,222.1 503.5,227.3 503.8,221.8 504.2,227.4 504.6,221.6 504.9,226.1 505.3,221.7 505.7,225.7 506.0,221.4 506.4,225.0 506.7,219.2 507.1,223.2 507.5,219.2 507.8,223.9 508.2,217.6 508.5,224.0 508.9,220.1 509.3,225.1 509.6,221.7 510.0,226.1 510.3,221.9 510.7,227.0 511.1,221.8 511.4,226.8 511.8,222.8 512.1,226.0 512.5,222.4 512.9,227.3 513.2,221.6 513.6,226.0 513.9,222.2 514.3,227.3 514.7,222.4 515.0,227.0 515.4,222.2 515.8,226.1 516.1,221.9 516.5,226.9 516.8,221.4 517.2,226.2 517.6,221.2 517.9,225.8 518.3,220.8 518.6,226.3 519.0,221.9 519.4,227.4 519.7,222.2 520.1,226.8 520.4,221.6 520.8,225.9 521.2,222.2 521.5,225.9 521.9,221.9 522.2,227.0 522.6,222.5 523.0,226.5 523.3,222.1 523.7,226.4 524.0,222.1 524.4,225.8 524.8,220.8 525.1,227.0 525.5,219.9 525.9,227.0 526.2,220.4 526.6,226.8 526.9,221.1 527.3,226.6 527.7,221.7 528.0,223.9 528.4,217.1 528.7,218.0 529.1,216.1 529.5,225.7 529.8,222.2 530.2,226.5 530.5,222.2 530.9,226.0 531.3,222.8 531.6,227.9 532.0,221.9 532.3,226.5 532.7,223.3 533.1,227.4 533.4,222.0 533.8,227.9 534.1,222.1 534.5,227.9 534.9,223.4 535.2,226.9 535.6,221.0 536.0,226.9 536.3,222.0 536.7,227.5 537.0,221.9 537.4,226.6 537.8,222.4 538.1,228.1 538.5,223.6 538.8,226.7 539.2,222.7 539.6,227.9 539.9,222.6 540.3,227.8 540.6,222.3 541.0,227.9"/><polyline fill="none" stroke="#7f7f7f" stroke-width="2.8" stroke-linejoin="round" points="36.0,302.6 36.7,302.6 37.4,302.5 38.2,302.5 38.9,302.4 39.6,302.4 40.3,302.4 41.1,302.3 41.8,302.3 42.5,302.3 43.2,302.3 43.9,302.3 44.7,302.3 45.4,302.3 46.1,302.3 46.8,302.3 47.5,302.4 48.3,302.4 49.0,302.5 49.7,302.6 50.4,302.8 51.2,302.9 51.9,303.0 52.6,303.1 53.3,303.2 54.0,303.2 54.8,303.1 55.5,303.0 56.2,302.8 56.9,302.7 57.6,302.5 58.4,302.4 59.1,302.3 59.8,302.2 60.5,302.2 61.3,302.2 62.0,302.2 62.7,302.2 63.4,302.1 64.1,302.1 64.9,302.0 65.6,301.9 66.3,301.7 67.0,301.4 67.7,300.6 68.5,296.1 69.2,277.8 69.9,258.1 70.6,277.9 71.4,296.3 72.1,300.8 72.8,301.7 73.5,302.1 74.2,302.3 75.0,302.4 75.7,302.5 76.4,302.6 77.1,302.7 77.8,302.8 78.6,302.9 79.3,303.0 80.0,303.1 80.7,303.2 81.5,303.2 82.2,303.2 82.9,303.1 83.6,303.1 84.3,303.0 85.1,302.9 85.8,302.8 86.5,302.7 87.2,302.7 87.9,302.6 88.7,302.6 89.4,302.6 90.1,302.6 90.8,302.6 91.6,302.6 92.3,302.6 93.0,302.7 93.7,302.8 94.4,302.8 95.2,302.9 95.9,303.0 96.6,303.0 97.3,303.1 98.0,303.1 98.8,303.1 99.5,303.1 100.2,303.0 100.9,303.0 101.7,302.9 102.4,302.8 103.1,302.7 103.8,302.8 104.5,302.8 105.3,302.9 106.0,303.0 106.7,303.1 107.4,303.2 108.1,303.3 108.9,303.3 109.6,303.3 110.3,303.2 111.0,303.2 111.8,303.1 112.5,302.9 113.2,302.8 113.9,302.7 114.6,302.6 115.4,302.6 116.1,302.6 116.8,302.7 117.5,302.7 118.2,302.7 119.0,302.7 119.7,302.7 120.4,302.6 121.1,302.7 121.9,302.7 122.6,302.7 123.3,302.8 124.0,302.9 124.7,303.0 125.5,303.0 126.2,303.1 126.9,303.0 127.6,303.0 128.3,302.9 129.1,302.9 129.8,302.9 130.5,302.8 131.2,302.8 132.0,302.7 132.7,302.7 133.4,302.6 134.1,302.5 134.8,302.4 135.6,302.4 136.3,302.4 137.0,302.4 137.7,302.4 138.4,302.4 139.2,302.5 139.9,302.5 140.6,302.5 141.3,302.4 142.1,302.3 142.8,302.1 143.5,301.8 144.2,301.4 144.9,300.7 145.7,298.6 146.4,288.3 147.1,263.2 147.8,261.5 148.5,276.8 149.3,264.0 150.0,265.9 150.7,289.4 151.4,299.2 152.2,301.1 152.9,301.8 153.6,302.1 154.3,302.3 155.0,302.3 155.8,302.2 156.5,302.1 157.2,302.1 157.9,302.1 158.6,302.1 159.4,302.2 160.1,302.2 160.8,302.3 161.5,302.3 162.3,302.4 163.0,302.4 163.7,302.4 164.4,302.4 165.1,302.5 165.9,302.5 166.6,302.6 167.3,302.6 168.0,302.7 168.7,302.7 169.5,302.8 170.2,302.7 170.9,302.7 171.6,302.7 172.4,302.5 173.1,302.3 173.8,302.0 174.5,301.6 175.2,300.7 176.0,297.6 176.7,281.1 177.4,241.0 178.1,241.0 178.8,281.2 179.6,297.7 180.3,300.9 181.0,301.7 181.7,302.1 182.5,302.3 183.2,302.4 183.9,302.4 184.6,302.4 185.3,302.4 186.1,302.5 186.8,302.5 187.5,302.6 188.2,302.6 188.9,302.6 189.7,302.6 190.4,302.4 191.1,301.8 191.8,298.6 192.6,285.9 193.3,272.2 194.0,285.7 194.7,298.3 195.4,301.4 196.2,302.1 196.9,302.4 197.6,302.6 198.3,302.7 199.0,302.7 199.8,302.5 200.5,300.8 201.2,295.4 201.9,295.4 202.7,300.7 203.4,302.4 204.1,302.6 204.8,302.7 205.5,302.8 206.3,302.9 207.0,302.9 207.7,303.0 208.4,303.0 209.1,303.0 209.9,303.0 210.6,302.9 211.3,302.8 212.0,302.7 212.8,302.6 213.5,302.6 214.2,302.5 214.9,302.5 215.6,302.5 216.4,302.5 217.1,302.5 217.8,302.4 218.5,302.4 219.2,302.3 220.0,302.4 220.7,302.4 221.4,302.5 222.1,302.6 222.9,302.8 223.6,302.8 224.3,302.9 225.0,302.9 225.7,302.8 226.5,302.8 227.2,302.8 227.9,302.8 228.6,302.8 229.3,302.8 230.1,302.9 230.8,302.8 231.5,302.8 232.2,302.7 233.0,302.5 233.7,302.4 234.4,302.4 235.1,302.4 235.8,302.4 236.6,302.4 237.3,302.5 238.0,302.5 238.7,302.4 239.4,302.4 240.2,302.2 240.9,301.7 241.6,300.8 242.3,300.2 243.1,301.0 243.8,302.0 244.5,302.5 245.2,302.7 245.9,302.7 246.7,302.5 247.4,301.7 248.1,299.3 248.8,297.2 249.5,299.3 250.3,301.7 251.0,302.5 251.7,302.8 252.4,302.9 253.2,303.0 253.9,303.0 254.6,302.9 255.3,302.4 256.0,301.3 256.8,300.6 257.5,301.3 258.2,302.3 258.9,302.6 259.6,302.2 260.4,301.0 261.1,300.2 261.8,301.0 262.5,302.2 263.3,302.8 264.0,302.9 264.7,302.8 265.4,302.7 266.1,302.3 266.9,300.6 267.6,295.6 268.3,291.2 269.0,295.5 269.7,300.4 270.5,302.1 271.2,302.4 271.9,302.4 272.6,302.5 273.4,302.5 274.1,302.5 274.8,302.5 275.5,302.3 276.2,302.0 277.0,301.3 277.7,300.4 278.4,300.0 279.1,300.3 279.8,301.1 280.6,301.7 281.3,301.9 282.0,301.6 282.7,300.6 283.5,299.9 284.2,300.8 284.9,301.9 285.6,302.5 286.3,302.7 287.1,302.7 287.8,302.8 288.5,302.8 289.2,302.9 289.9,303.0 290.7,303.0 291.4,303.1 292.1,303.1 292.8,303.1 293.6,303.1 294.3,303.1 295.0,303.1 295.7,303.1 296.4,303.1 297.2,303.1 297.9,303.1 298.6,303.0 299.3,303.0 300.0,303.0 300.8,302.9 301.5,302.9 302.2,302.9 302.9,302.8 303.7,302.8 304.4,302.6 305.1,301.7 305.8,299.0 306.5,296.7 307.3,299.0 308.0,301.6 308.7,302.4 309.4,302.5 310.1,302.5 310.9,302.4 311.6,302.3 312.3,302.3 313.0,302.3 313.8,302.4 314.5,302.5 315.2,302.6 315.9,302.5 316.6,302.4 317.4,301.9 318.1,299.0 318.8,290.7 319.5,283.5 320.2,290.8 321.0,299.3 321.7,302.2 322.4,302.9 323.1,303.1 323.9,303.3 324.6,303.3 325.3,303.3 326.0,303.3 326.7,303.2 327.5,303.2 328.2,303.1 328.9,303.0 329.6,302.9 330.3,302.9 331.1,302.8 331.8,302.7 332.5,302.6 333.2,302.6 334.0,302.6 334.7,302.6 335.4,302.6 336.1,302.7 336.8,302.6 337.6,302.6 338.3,302.5 339.0,302.3 339.7,301.1 340.4,297.7 341.2,297.6 341.9,300.9 342.6,301.9 343.3,301.9 344.1,300.9 344.8,297.7 345.5,297.8 346.2,301.2 346.9,302.3 347.7,302.5 348.4,302.5 349.1,302.5 349.8,302.5 350.5,302.4 351.3,302.4 352.0,302.1 352.7,300.5 353.4,295.9 354.2,291.8 354.9,296.0 355.6,300.7 356.3,302.3 357.0,302.7 357.8,302.8 358.5,302.7 359.2,302.5 359.9,301.5 360.6,298.9 361.4,296.5 362.1,298.8 362.8,301.4 363.5,302.3 364.3,302.6 365.0,302.7 365.7,302.8 366.4,302.9 367.1,303.0 367.9,303.1 368.6,303.1 369.3,303.2 370.0,303.2 370.7,303.2 371.5,303.3 372.2,303.3 372.9,303.2 373.6,303.2 374.4,303.2 375.1,303.2 375.8,303.2 376.5,303.2 377.2,303.2 378.0,303.2 378.7,303.2 379.4,303.2 380.1,303.2 380.8,303.2 381.6,303.2 382.3,303.2 383.0,303.2 383.7,303.1 384.5,303.0 385.2,302.9 385.9,302.9 386.6,302.9 387.3,302.9 388.1,302.9 388.8,302.9 389.5,302.9 390.2,302.9 390.9,302.9 391.7,302.9 392.4,302.9 393.1,302.9 393.8,302.9 394.6,302.9 395.3,303.0 396.0,303.1 396.7,303.1 397.4,303.2 398.2,303.3 398.9,303.4 399.6,303.5 400.3,303.5 401.0,303.4 401.8,303.4 402.5,303.4 403.2,303.3 403.9,303.2 404.7,303.2 405.4,303.1 406.1,303.1 406.8,303.0 407.5,303.0 408.3,303.0 409.0,302.9 409.7,302.9 410.4,302.9 411.1,302.8 411.9,302.8 412.6,302.9 413.3,302.9 414.0,303.0 414.8,303.1 415.5,303.1 416.2,303.1 416.9,302.9 417.6,301.4 418.4,299.5 419.1,301.3 419.8,302.8 420.5,303.0 421.2,303.0 422.0,303.0 422.7,303.0 423.4,303.0 424.1,302.9 424.9,302.9 425.6,302.9 426.3,302.8 427.0,302.8 427.7,302.7 428.5,302.6 429.2,302.6 429.9,302.7 430.6,302.7 431.3,302.8 432.1,303.0 432.8,303.1 433.5,303.3 434.2,303.4 435.0,303.4 435.7,303.4 436.4,303.4 437.1,303.3 437.8,303.2 438.6,303.2 439.3,303.1 440.0,303.2 440.7,303.2 441.4,303.2 442.2,303.2 442.9,303.2 443.6,303.2 444.3,303.2 445.1,303.2 445.8,303.1 446.5,303.1 447.2,303.1 447.9,303.0 448.7,303.0 449.4,302.9 450.1,302.9 450.8,302.9 451.5,302.9 452.3,302.8 453.0,302.9 453.7,302.8 454.4,302.9 455.2,302.9 455.9,303.0 456.6,303.1 457.3,303.1 458.0,303.3 458.8,303.4 459.5,303.5 460.2,303.5 460.9,303.4 461.6,303.4 462.4,303.3 463.1,303.2 463.8,303.1 464.5,303.0 465.3,302.9 466.0,303.0 466.7,303.0 467.4,303.0 468.1,303.1 468.9,303.1 469.6,303.1 470.3,303.1 471.0,303.0 471.7,302.9 472.5,302.9 473.2,302.8 473.9,302.8 474.6,302.7 475.4,302.7 476.1,302.8 476.8,302.8 477.5,302.9 478.2,303.0 479.0,303.0 479.7,303.0 480.4,303.0 481.1,302.9 481.8,302.9 482.6,302.7 483.3,302.6 484.0,302.2 484.7,301.8 485.5,301.1 486.2,300.5 486.9,300.2 487.6,300.5 488.3,301.3 489.1,302.0 489.8,302.5 490.5,302.7 491.2,302.8 491.9,302.8 492.7,302.7 493.4,302.6 494.1,302.6 494.8,302.6 495.6,302.6 496.3,302.6 497.0,302.8 497.7,302.8 498.4,302.9 499.2,302.9 499.9,302.8 500.6,302.7 501.3,302.4 502.0,301.9 502.8,301.2 503.5,300.6 504.2,300.3 504.9,300.7 505.7,301.4 506.4,302.2 507.1,302.7 507.8,303.0 508.5,303.2 509.3,303.3 510.0,303.3 510.7,303.4 511.4,303.3 512.1,303.3 512.9,303.2 513.6,303.1 514.3,303.0 515.0,303.0 515.8,303.0 516.5,303.0 517.2,303.0 517.9,303.1 518.6,303.2 519.4,303.2 520.1,303.3 520.8,303.3 521.5,303.4 522.2,303.4 523.0,303.3 523.7,303.3 524.4,303.2 525.1,303.1 525.9,303.0 526.6,302.9 527.3,302.8 528.0,302.8 528.7,302.8 529.5,302.8 530.2,302.7 530.9,302.7 531.6,302.6 532.3,302.6 533.1,302.5 533.8,302.5 534.5,302.6 535.2,302.6 536.0,302.7 536.7,302.8 537.4,302.9 538.1,303.0 538.8,303.0 539.6,303.0 540.3,303.0 541.0,303.0"/><polyline fill="none" stroke="#7f7f7f" stroke-width="1.2" stroke-linejoin="bevel" points="36.0,303.5 36.4,302.1 36.7,303.4 37.1,301.9 37.4,303.0 37.8,302.1 38.2,303.1 38.5,301.8 38.9,303.0 39.2,301.8 39.6,302.8 40.0,301.6 40.3,302.9 40.7,301.6 41.1,303.1 41.4,301.6 41.8,302.7 42.1,302.0 42.5,302.8 42.9,301.5 43.2,302.6 43.6,302.0 43.9,302.6 44.3,301.8 44.7,302.9 45.0,301.9 45.4,303.0 45.7,301.7 46.1,302.9 46.5,301.6 46.8,302.8 47.2,301.5 47.5,302.9 47.9,301.7 48.3,303.1 48.6,302.0 49.0,303.3 49.3,302.3 49.7,303.2 50.1,302.1 50.4,303.1 50.8,302.2 51.2,303.7 51.5,302.3 51.9,303.5 52.2,302.5 52.6,303.8 53.0,302.5 53.3,303.9 53.7,302.4 54.0,303.7 54.4,302.4 54.8,303.6 55.1,302.5 55.5,303.5 55.8,302.1 56.2,303.5 56.6,302.2 56.9,303.5 57.3,302.0 57.6,303.1 58.0,301.8 58.4,302.9 58.7,302.1 59.1,302.8 59.4,301.9 59.8,303.1 60.2,301.5 60.5,302.5 60.9,301.8 61.3,302.4 61.6,301.4 62.0,302.8 62.3,301.7 62.7,302.5 63.1,301.7 63.4,302.7 63.8,301.8 64.1,302.4 64.5,301.6 64.9,302.8 65.2,301.6 65.6,302.6 65.9,301.0 66.3,302.5 66.7,301.0 67.0,301.9 67.4,300.4 67.7,301.4 68.1,298.8 68.5,296.7 68.8,288.7 69.2,278.0 69.5,263.8 69.9,258.8 70.3,263.9 70.6,278.2 71.0,289.0 71.4,296.8 71.7,299.1 72.1,301.2 72.4,301.1 72.8,302.1 73.2,301.2 73.5,302.6 73.9,301.4 74.2,302.5 74.6,302.0 75.0,303.2 75.3,302.2 75.7,302.8 76.0,301.8 76.4,303.2 76.8,302.1 77.1,303.5 77.5,302.4 77.8,303.4 78.2,302.1 78.6,303.7 78.9,302.7 79.3,303.6 79.6,302.7 80.0,303.6 80.4,302.8 80.7,303.5 81.1,302.4 81.5,303.7 81.8,302.7 82.2,303.8 82.5,302.4 82.9,303.9 83.3,302.5 83.6,303.9 84.0,302.6 84.3,303.7 84.7,302.6 85.1,303.6 85.4,302.2 85.8,303.5 86.1,302.1 86.5,303.6 86.9,302.4 87.2,303.2 87.6,302.2 87.9,303.1 88.3,301.9 88.7,303.3 89.0,302.1 89.4,302.9 89.7,302.2 90.1,303.2 90.5,301.9 90.8,303.3 91.2,302.1 91.6,303.2 91.9,302.2 92.3,303.3 92.6,302.3 93.0,303.2 93.4,301.9 93.7,303.4 94.1,302.2 94.4,303.4 94.8,302.5 95.2,303.2 95.5,302.2 95.9,303.4 96.2,302.4 96.6,303.4 97.0,302.3 97.3,303.7 97.7,302.7 98.0,303.8 98.4,302.7 98.8,303.5 99.1,302.8 99.5,303.6 99.8,302.2 100.2,303.6 100.6,302.5 100.9,303.5 101.3,302.6 101.7,303.7 102.0,302.2 102.4,303.3 102.7,302.3 103.1,303.5 103.5,302.1 103.8,303.2 104.2,302.4 104.5,303.6 104.9,302.3 105.3,303.5 105.6,302.4 106.0,303.4 106.3,302.6 106.7,303.6 107.1,302.4 107.4,303.5 107.8,302.7 108.1,303.9 108.5,303.0 108.9,303.6 109.2,302.7 109.6,303.8 109.9,302.6 110.3,303.8 110.7,302.7 111.0,303.8 111.4,302.5 111.8,303.5 112.1,301.6 112.5,303.7 112.8,302.3 113.2,303.2 113.6,302.0 113.9,303.2 114.3,302.3 114.6,303.0 115.0,302.2 115.4,303.3 115.7,302.2 116.1,303.4 116.4,302.3 116.8,303.2 117.2,302.0 117.5,303.5 117.9,302.0 118.2,303.2 118.6,302.3 119.0,303.0 119.3,302.3 119.7,303.0 120.0,302.0 120.4,302.9 120.8,302.4 121.1,303.4 121.5,302.4 121.9,303.3 122.2,302.4 122.6,303.3 122.9,301.9 123.3,303.3 123.7,302.1 124.0,303.5 124.4,302.3 124.7,303.4 125.1,302.5 125.5,303.5 125.8,302.7 126.2,303.9 126.5,302.2 126.9,303.5 127.3,302.6 127.6,303.7 128.0,302.7 128.3,303.3 128.7,302.7 129.1,303.5 129.4,302.1 129.8,303.4 130.1,302.6 130.5,303.4 130.9,302.1 131.2,303.1 131.6,302.3 132.0,303.2 132.3,302.2 132.7,303.5 133.0,301.9 133.4,303.2 133.8,302.2 134.1,302.9 134.5,302.0 134.8,303.0 135.2,301.9 135.6,302.9 135.9,301.7 136.3,302.9 136.6,301.9 137.0,302.7 137.4,301.6 137.7,303.0 138.1,302.1 138.4,302.8 138.8,301.8 139.2,303.1 139.5,302.2 139.9,303.3 140.2,302.0 140.6,303.2 141.0,301.7 141.3,303.2 141.7,302.0 142.1,302.9 142.4,301.8 142.8,302.7 143.1,301.2 143.5,302.3 143.9,301.2 144.2,301.6 144.6,300.3 144.9,301.0 145.3,299.4 145.7,299.4 146.0,294.9 146.4,288.7 146.7,276.2 147.1,263.9 147.5,255.3 147.8,261.9 148.2,271.2 148.5,277.3 148.9,272.7 149.3,264.3 149.6,258.5 150.0,266.3 150.3,276.9 150.7,289.9 151.1,295.7 151.4,299.6 151.8,300.1 152.2,301.7 152.5,301.0 152.9,302.2 153.2,301.2 153.6,302.6 154.0,301.6 154.3,303.0 154.7,302.0 155.0,303.0 155.4,301.6 155.8,303.0 156.1,301.6 156.5,302.8 156.8,301.7 157.2,302.5 157.6,301.8 157.9,302.3 158.3,300.8 158.6,302.5 159.0,301.7 159.4,302.4 159.7,301.9 160.1,303.1 160.4,301.6 160.8,302.7 161.2,302.0 161.5,302.7 161.9,301.9 162.3,302.6 162.6,301.7 163.0,302.8 163.3,302.0 163.7,303.2 164.1,301.7 164.4,303.0 164.8,301.7 165.1,303.1 165.5,302.1 165.9,303.4 166.2,302.0 166.6,302.9 166.9,302.3 167.3,303.1 167.7,302.0 168.0,303.5 168.4,301.9 168.7,303.4 169.1,302.0 169.5,303.4 169.8,301.9 170.2,303.6 170.5,302.2 170.9,303.1 171.3,302.1 171.6,303.2 172.0,302.2 172.4,303.3 172.7,301.7 173.1,302.7 173.4,301.7 173.8,302.6 174.2,301.5 174.5,301.8 174.9,300.6 175.2,301.1 175.6,299.0 176.0,298.3 176.3,291.9 176.7,281.7 177.0,261.9 177.4,241.7 177.8,229.9 178.1,241.8 178.5,261.9 178.8,281.8 179.2,292.1 179.6,298.4 179.9,299.1 180.3,301.2 180.6,300.6 181.0,302.4 181.4,301.6 181.7,302.4 182.1,301.6 182.5,302.6 182.8,301.5 183.2,302.9 183.5,301.9 183.9,302.7 184.3,301.9 184.6,303.1 185.0,301.8 185.3,303.3 185.7,301.8 186.1,303.1 186.4,301.9 186.8,303.0 187.1,302.0 187.5,303.4 187.9,301.8 188.2,302.9 188.6,302.3 188.9,303.3 189.3,302.2 189.7,303.1 190.0,302.2 190.4,302.7 190.7,301.8 191.1,302.5 191.5,300.2 191.8,299.1 192.2,293.1 192.6,286.5 192.9,276.4 193.3,272.4 193.6,276.4 194.0,285.9 194.4,293.0 194.7,298.7 195.1,299.8 195.4,301.7 195.8,301.2 196.2,302.5 196.5,301.8 196.9,303.1 197.2,301.8 197.6,303.2 198.0,301.8 198.3,303.4 198.7,302.5 199.0,303.3 199.4,302.1 199.8,303.1 200.1,301.3 200.5,301.2 200.8,297.8 201.2,296.2 201.6,293.5 201.9,296.0 202.3,297.7 202.7,301.2 203.0,301.1 203.4,302.7 203.7,302.1 204.1,303.4 204.5,301.9 204.8,303.4 205.2,302.3 205.5,303.3 205.9,302.4 206.3,303.6 206.6,302.1 207.0,303.6 207.3,302.6 207.7,303.6 208.1,302.2 208.4,303.8 208.8,302.5 209.1,303.7 209.5,302.3 209.9,303.4 210.2,302.3 210.6,303.5 210.9,302.3 211.3,303.3 211.7,302.2 212.0,303.2 212.4,302.0 212.8,303.2 213.1,302.0 213.5,303.0 213.8,301.9 214.2,303.1 214.6,302.2 214.9,303.0 215.3,302.2 215.6,303.2 216.0,302.2 216.4,302.8 216.7,300.6 217.1,302.8 217.4,301.8 217.8,302.7 218.2,302.1 218.5,302.8 218.9,301.9 219.2,302.7 219.6,300.3 220.0,303.1 220.3,301.3 220.7,303.0 221.0,302.1 221.4,303.3 221.8,302.3 222.1,303.1 222.5,302.1 222.9,303.1 223.2,302.2 223.6,303.5 223.9,302.4 224.3,303.6 224.7,302.4 225.0,303.3 225.4,302.1 225.7,303.5 226.1,302.0 226.5,303.0 226.8,302.2 227.2,303.0 227.5,302.2 227.9,303.4 228.3,302.1 228.6,303.2 229.0,302.3 229.3,303.2 229.7,302.3 230.1,303.4 230.4,302.0 230.8,303.4 231.1,302.1 231.5,303.1 231.9,302.1 232.2,303.1 232.6,302.0 233.0,303.0 233.3,302.1 233.7,303.1 234.0,301.9 234.4,303.0 234.8,301.7 235.1,302.6 235.5,302.1 235.8,302.9 236.2,302.1 236.6,302.8 236.9,301.7 237.3,302.8 237.6,301.9 238.0,303.0 238.4,301.9 238.7,302.8 239.1,302.0 239.4,303.0 239.8,302.0 240.2,302.7 240.5,301.3 240.9,302.1 241.2,301.0 241.6,301.1 242.0,299.6 242.3,300.5 242.7,300.1 243.1,301.7 243.4,301.2 243.8,302.3 244.1,301.6 244.5,303.4 244.9,301.8 245.2,303.4 245.6,302.2 245.9,303.3 246.3,302.0 246.7,303.0 247.0,301.6 247.4,302.4 247.7,300.5 248.1,300.1 248.5,297.3 248.8,297.6 249.2,297.2 249.5,299.7 249.9,300.2 250.3,302.3 250.6,301.7 251.0,303.1 251.3,301.9 251.7,303.5 252.1,302.3 252.4,303.5 252.8,302.3 253.2,303.7 253.5,302.7 253.9,303.6 254.2,302.2 254.6,303.7 255.0,302.3 255.3,302.6 255.7,301.1 256.0,301.7 256.4,300.4 256.8,301.2 257.1,300.2 257.5,302.0 257.8,301.4 258.2,302.8 258.6,301.8 258.9,303.2 259.3,302.2 259.6,302.8 260.0,301.1 260.4,301.3 260.7,300.0 261.1,300.6 261.4,299.7 261.8,301.7 262.2,300.8 262.5,302.9 262.9,301.7 263.3,303.4 263.6,302.5 264.0,303.4 264.3,302.3 264.7,303.7 265.1,302.0 265.4,303.3 265.8,301.8 266.1,302.6 266.5,301.3 266.9,301.1 267.2,297.9 267.6,295.9 267.9,292.2 268.3,291.9 268.7,291.9 269.0,296.2 269.4,297.9 269.7,300.8 270.1,301.0 270.5,302.9 270.8,301.8 271.2,302.8 271.5,301.7 271.9,303.0 272.3,302.1 272.6,303.0 273.0,301.7 273.4,303.2 273.7,301.9 274.1,302.8 274.4,301.8 274.8,303.0 275.2,302.0 275.5,302.6 275.9,301.9 276.2,302.3 276.6,301.1 277.0,301.7 277.3,300.1 277.7,301.0 278.0,299.4 278.4,300.5 278.8,299.5 279.1,301.1 279.5,299.9 279.8,301.4 280.2,300.7 280.6,302.0 280.9,301.2 281.3,302.5 281.6,301.5 282.0,302.3 282.4,300.7 282.7,301.3 283.1,299.3 283.5,300.4 283.8,299.9 284.2,301.5 284.5,300.6 284.9,302.4 285.3,301.6 285.6,303.2 286.0,302.2 286.3,303.0 286.7,302.2 287.1,303.1 287.4,302.1 287.8,303.4 288.1,302.1 288.5,303.7 288.9,302.1 289.2,303.6 289.6,302.4 289.9,303.6 290.3,302.5 290.7,303.5 291.0,302.7 291.4,303.5 291.7,302.5 292.1,303.5 292.5,302.3 292.8,303.6 293.2,302.5 293.6,303.6 293.9,302.5 294.3,303.9 294.6,302.5 295.0,303.5 295.4,302.3 295.7,303.9 296.1,302.5 296.4,303.4 296.8,302.8 297.2,303.5 297.5,302.5 297.9,303.6 298.2,302.4 298.6,303.6 299.0,302.4 299.3,303.5 299.7,302.7 300.0,303.5 300.4,302.2 300.8,303.5 301.1,302.5 301.5,303.3 301.8,302.4 302.2,303.3 302.6,302.5 302.9,303.6 303.3,302.0 303.7,303.2 304.0,302.0 304.4,302.9 304.7,301.9 305.1,302.2 305.5,299.9 305.8,299.3 306.2,296.7 306.5,297.1 306.9,297.1 307.3,299.8 307.6,300.2 308.0,302.0 308.3,301.3 308.7,302.8 309.1,302.1 309.4,302.9 309.8,302.0 310.1,303.0 310.5,302.0 310.9,302.9 311.2,302.0 311.6,302.9 311.9,301.7 312.3,303.0 312.7,302.0 313.0,302.8 313.4,301.8 313.8,303.2 314.1,302.2 314.5,303.1 314.8,302.0 315.2,303.6 315.6,302.3 315.9,303.0 316.3,302.1 316.6,302.9 317.0,301.8 317.4,302.6 317.7,300.2 318.1,299.8 318.4,295.2 318.8,291.3 319.2,285.1 319.5,283.8 319.9,285.5 320.2,291.4 320.6,295.2 321.0,299.6 321.3,300.7 321.7,302.5 322.0,302.3 322.4,303.6 322.8,302.4 323.1,303.9 323.5,302.5 323.9,304.0 324.2,302.7 324.6,303.6 324.9,302.6 325.3,303.7 325.7,302.7 326.0,304.1 326.4,302.5 326.7,304.0 327.1,302.7 327.5,303.7 327.8,302.6 328.2,303.7 328.5,302.2 328.9,303.3 329.3,302.5 329.6,303.5 330.0,302.3 330.3,303.3 330.7,302.3 331.1,303.6 331.4,302.3 331.8,303.0 332.1,302.1 332.5,303.3 332.9,301.8 333.2,303.3 333.6,302.0 334.0,303.3 334.3,302.2 334.7,303.4 335.0,301.8 335.4,303.1 335.8,301.9 336.1,303.0 336.5,302.3 336.8,303.3 337.2,301.8 337.6,303.2 337.9,301.9 338.3,303.0 338.6,301.6 339.0,302.6 339.4,301.5 339.7,301.8 340.1,298.8 340.4,298.5 340.8,296.0 341.2,298.0 341.5,299.0 341.9,301.4 342.2,301.0 342.6,302.4 343.0,301.2 343.3,302.3 343.7,301.2 344.1,301.2 344.4,299.2 344.8,298.4 345.1,296.2 345.5,298.1 345.9,299.4 346.2,301.8 346.6,301.2 346.9,303.1 347.3,301.7 347.7,303.2 348.0,302.1 348.4,302.8 348.7,302.0 349.1,303.4 349.5,302.0 349.8,303.3 350.2,301.8 350.5,303.2 350.9,302.0 351.3,302.8 351.6,301.9 352.0,302.6 352.3,301.2 352.7,301.3 353.1,298.2 353.4,296.3 353.8,292.8 354.2,292.6 354.5,292.8 354.9,296.4 355.2,298.0 355.6,301.2 356.0,301.4 356.3,303.1 356.7,302.3 357.0,303.4 357.4,302.1 357.8,303.5 358.1,302.4 358.5,303.3 358.8,302.0 359.2,302.8 359.6,301.4 359.9,302.1 360.3,300.1 360.6,299.4 361.0,296.4 361.4,297.3 361.7,296.6 362.1,299.1 362.4,299.7 362.8,301.9 363.2,301.5 363.5,303.1 363.9,301.8 364.3,303.1 364.6,301.9 365.0,303.4 365.3,302.4 365.7,303.6 366.1,302.6 366.4,303.2 366.8,302.3 367.1,303.5 367.5,302.4 367.9,303.4 368.2,302.8 368.6,303.7 368.9,302.8 369.3,303.8 369.7,302.6 370.0,303.8 370.4,302.4 370.7,303.6 371.1,302.6 371.5,303.9 371.8,302.6 372.2,303.7 372.5,302.5 372.9,304.0 373.3,302.5 373.6,303.8 374.0,302.4 374.4,304.0 374.7,302.7 375.1,303.8 375.4,302.4 375.8,303.5 376.2,302.4 376.5,303.7 376.9,302.5 377.2,303.7 377.6,302.8 378.0,303.5 378.3,302.4 378.7,304.0 379.0,302.4 379.4,303.9 379.8,302.8 380.1,303.9 380.5,302.4 380.8,303.9 381.2,302.5 381.6,303.6 381.9,302.6 382.3,303.9 382.6,302.4 383.0,303.9 383.4,302.6 383.7,303.4 384.1,302.7 384.5,303.8 384.8,302.5 385.2,303.3 385.5,302.3 385.9,303.7 386.3,302.6 386.6,303.1 387.0,302.5 387.3,303.4 387.7,302.4 388.1,303.1 388.4,302.3 388.8,303.6 389.1,302.5 389.5,303.4 389.9,302.6 390.2,303.7 390.6,302.3 390.9,303.5 391.3,302.2 391.7,303.5 392.0,302.5 392.4,303.6 392.7,302.3 393.1,303.3 393.5,302.2 393.8,303.3 394.2,302.5 394.6,303.5 394.9,302.5 395.3,303.8 395.6,302.4 396.0,303.6 396.4,302.6 396.7,303.4 397.1,302.7 397.4,304.0 397.8,302.9 398.2,303.8 398.5,302.7 398.9,303.9 399.2,302.9 399.6,304.0 400.0,302.8 400.3,304.1 400.7,302.9 401.0,304.2 401.4,303.0 401.8,304.1 402.1,302.9 402.5,303.7 402.8,302.8 403.2,303.6 403.6,302.5 403.9,304.1 404.3,302.9 404.7,303.9 405.0,302.9 405.4,303.6 405.7,302.7 406.1,303.4 406.5,302.7 406.8,303.9 407.2,302.7 407.5,303.8 407.9,302.6 408.3,303.6 408.6,302.7 409.0,303.6 409.3,302.6 409.7,303.6 410.1,302.6 410.4,303.5 410.8,302.4 411.1,303.7 411.5,302.5 411.9,303.2 412.2,302.1 412.6,303.7 412.9,302.6 413.3,303.4 413.7,302.7 414.0,303.5 414.4,302.7 414.8,303.9 415.1,302.4 415.5,303.9 415.8,302.5 416.2,303.4 416.6,302.8 416.9,303.4 417.3,302.2 417.6,301.7 418.0,299.6 418.4,300.1 418.7,299.5 419.1,301.9 419.4,301.8 419.8,303.3 420.2,302.3 420.5,303.6 420.9,302.5 421.2,303.6 421.6,302.6 422.0,303.7 422.3,302.6 422.7,303.8 423.0,302.4 423.4,303.4 423.8,302.4 424.1,303.8 424.5,302.1 424.9,303.2 425.2,302.2 425.6,303.6 425.9,302.2 426.3,303.1 426.7,302.3 427.0,303.2 427.4,302.1 427.7,303.1 428.1,302.3 428.5,303.4 428.8,302.2 429.2,302.9 429.5,301.9 429.9,303.6 430.3,302.4 430.6,303.4 431.0,302.0 431.3,303.1 431.7,302.2 432.1,303.4 432.4,302.7 432.8,303.4 433.1,302.5 433.5,303.7 433.9,302.8 434.2,303.7 434.6,302.8 435.0,304.2 435.3,302.8 435.7,303.9 436.0,302.7 436.4,304.0 436.8,301.4 437.1,303.7 437.5,302.8 437.8,303.6 438.2,302.5 438.6,303.7 438.9,302.4 439.3,303.8 439.6,302.8 440.0,303.5 440.4,302.8 440.7,304.0 441.1,302.9 441.4,303.6 441.8,302.7 442.2,303.8 442.5,302.9 442.9,303.8 443.2,302.8 443.6,304.0 444.0,302.7 444.3,303.5 444.7,302.6 445.1,303.6 445.4,302.5 445.8,303.8 446.1,302.5 446.5,303.8 446.9,302.4 447.2,303.7 447.6,302.8 447.9,303.3 448.3,302.2 448.7,303.4 449.0,302.1 449.4,303.4 449.7,302.6 450.1,303.5 450.5,302.4 450.8,303.3 451.2,302.2 451.5,303.6 451.9,302.5 452.3,303.7 452.6,302.0 453.0,303.2 453.3,302.4 453.7,303.4 454.1,302.5 454.4,303.6 454.8,302.4 455.2,303.4 455.5,302.5 455.9,303.4 456.2,302.6 456.6,303.4 457.0,302.3 457.3,303.4 457.7,302.8 458.0,303.8 458.4,302.8 458.8,304.0 459.1,303.1 459.5,304.1 459.8,302.9 460.2,304.1 460.6,303.1 460.9,303.8 461.3,302.7 461.6,303.9 462.0,302.7 462.4,304.1 462.7,302.6 463.1,303.6 463.4,302.3 463.8,303.4 464.2,302.6 464.5,303.8 464.9,302.2 465.3,303.3 465.6,302.6 466.0,303.3 466.3,302.3 466.7,303.4 467.1,302.5 467.4,303.7 467.8,302.3 468.1,303.7 468.5,302.8 468.9,303.9 469.2,302.3 469.6,303.6 469.9,302.7 470.3,303.6 470.7,302.5 471.0,303.5 471.4,302.5 471.7,303.5 472.1,302.1 472.5,303.5 472.8,302.2 473.2,303.6 473.5,302.0 473.9,303.3 474.3,302.0 474.6,303.1 475.0,302.0 475.4,303.5 475.7,302.2 476.1,303.4 476.4,302.2 476.8,303.7 477.2,302.1 477.5,303.3 477.9,302.3 478.2,303.8 478.6,302.5 479.0,303.8 479.3,302.5 479.7,303.6 480.0,302.4 480.4,303.3 480.8,302.4 481.1,303.4 481.5,302.1 481.8,303.4 482.2,302.2 482.6,303.3 482.9,302.4 483.3,302.9 483.6,301.6 484.0,302.6 484.4,301.5 484.7,302.4 485.1,301.2 485.5,301.9 485.8,300.1 486.2,301.2 486.5,299.7 486.9,301.0 487.3,299.8 487.6,301.0 488.0,300.5 488.3,301.9 488.7,301.0 489.1,302.8 489.4,301.9 489.8,303.3 490.1,302.1 490.5,303.1 490.9,302.2 491.2,303.1 491.6,302.2 491.9,303.0 492.3,302.0 492.7,304.0 493.0,302.4 493.4,303.4 493.7,301.9 494.1,303.3 494.5,302.0 494.8,303.3 495.2,301.7 495.6,303.4 495.9,302.2 496.3,302.9 496.6,302.0 497.0,303.1 497.4,302.2 497.7,303.3 498.1,302.3 498.4,303.6 498.8,302.5 499.2,303.5 499.5,302.1 499.9,303.4 500.2,302.0 500.6,303.2 501.0,302.3 501.3,302.7 501.7,301.9 502.0,302.2 502.4,300.9 502.8,301.5 503.1,300.0 503.5,300.9 503.8,299.8 504.2,300.8 504.6,299.9 504.9,300.9 505.3,300.5 505.7,302.1 506.0,301.3 506.4,302.7 506.7,301.9 507.1,303.0 507.5,302.6 507.8,303.8 508.2,302.7 508.5,304.0 508.9,302.5 509.3,303.7 509.6,303.0 510.0,304.1 510.3,302.8 510.7,303.7 511.1,302.7 511.4,303.7 511.8,302.7 512.1,304.1 512.5,302.5 512.9,303.9 513.2,302.9 513.6,303.8 513.9,302.5 514.3,303.7 514.7,302.4 515.0,303.8 515.4,302.7 515.8,303.7 516.1,302.2 516.5,303.6 516.8,302.3 517.2,303.9 517.6,302.2 517.9,303.8 518.3,302.3 518.6,303.5 519.0,302.6 519.4,303.9 519.7,302.8 520.1,303.9 520.4,302.9 520.8,303.7 521.2,302.5 521.5,303.6 521.9,302.7 522.2,304.1 522.6,302.7 523.0,304.1 523.3,302.9 523.7,304.1 524.0,302.6 524.4,304.0 524.8,302.3 525.1,303.8 525.5,302.6 525.9,303.5 526.2,302.4 526.6,303.5 526.9,302.3 527.3,303.2 527.7,302.4 528.0,303.1 528.4,302.0 528.7,303.1 529.1,302.4 529.5,303.4 529.8,301.9 530.2,303.0 530.5,302.1 530.9,303.3 531.3,302.2 531.6,303.1 532.0,302.2 532.3,303.4 532.7,302.0 533.1,303.3 533.4,302.1 533.8,303.0 534.1,301.9 534.5,303.2 534.9,302.2 535.2,303.1 535.6,302.3 536.0,303.6 536.3,302.1 536.7,303.1 537.0,302.1 537.4,303.6 537.8,302.5 538.1,303.7 538.5,302.4 538.8,303.8 539.2,301.8 539.6,303.8 539.9,302.5 540.3,303.4 540.6,302.4 541.0,303.4"/><polyline fill="none" stroke="#000000" stroke-width="2.3" stroke-linejoin="bevel" points="36.0,355.0 36.4,346.4 36.7,352.4 37.1,345.6 37.4,353.5 37.8,343.8 38.2,353.8 38.5,344.9 38.9,351.8 39.2,344.6 39.6,353.9 40.0,345.4 40.3,353.7 40.7,345.1 41.1,352.2 41.4,343.1 41.8,353.2 42.1,343.9 42.5,352.8 42.9,343.7 43.2,352.9 43.6,342.9 43.9,351.9 44.3,343.8 44.7,352.4 45.0,343.3 45.4,351.3 45.7,343.4 46.1,351.7 46.5,343.5 46.8,351.3 47.2,342.1 47.5,351.3 47.9,342.5 48.3,351.4 48.6,341.1 49.0,351.6 49.3,342.6 49.7,351.1 50.1,342.2 50.4,350.4 50.8,342.3 51.2,350.6 51.5,341.3 51.9,348.9 52.2,340.3 52.6,348.1 53.0,337.1 53.3,348.9 53.7,339.9 54.0,350.9 54.4,340.5 54.8,348.5 55.1,341.7 55.5,348.0 55.8,339.3 56.2,348.2 56.6,341.4 56.9,347.5 57.3,339.6 57.6,348.2 58.0,340.1 58.4,347.9 58.7,340.7 59.1,347.1 59.4,340.0 59.8,347.6 60.2,340.1 60.5,345.8 60.9,336.1 61.3,347.2 61.6,339.7 62.0,346.5 62.3,338.2 62.7,345.2 63.1,338.2 63.4,345.6 63.8,337.3 64.1,346.3 64.5,337.6 64.9,344.4 65.2,337.9 65.6,344.1 65.9,332.5 66.3,345.5 66.7,335.6 67.0,345.1 67.4,335.6 67.7,344.9 68.1,334.7 68.5,343.1 68.8,335.0 69.2,344.4 69.5,336.0 69.9,347.0 70.3,334.0 70.6,343.7 71.0,335.5 71.4,344.5 71.7,334.3 72.1,343.6 72.4,334.6 72.8,342.4 73.2,333.2 73.5,343.4 73.9,333.5 74.2,342.4 74.6,332.7 75.0,344.2 75.3,332.5 75.7,343.4 76.0,332.9 76.4,347.7 76.8,332.9 77.1,345.8 77.5,333.1 77.8,342.2 78.2,332.1 78.6,342.2 78.9,333.7 79.3,343.9 79.6,332.0 80.0,342.4 80.4,331.3 80.7,343.2 81.1,331.4 81.5,343.3 81.8,330.4 82.2,341.3 82.5,329.9 82.9,341.5 83.3,329.4 83.6,341.2 84.0,328.1 84.3,339.5 84.7,327.5 85.1,339.9 85.4,326.2 85.8,337.7 86.1,326.5 86.5,337.5 86.9,324.4 87.2,339.2 87.6,325.4 87.9,336.5 88.3,323.4 88.7,335.6 89.0,322.0 89.4,335.6 89.7,322.8 90.1,334.3 90.5,322.7 90.8,333.2 91.2,321.8 91.6,333.0 91.9,322.1 92.3,334.8 92.6,320.9 93.0,333.9 93.4,321.2 93.7,331.9 94.1,321.6 94.4,331.4 94.8,319.7 95.2,335.7 95.5,320.8 95.9,331.4 96.2,320.2 96.6,332.0 97.0,320.6 97.3,331.1 97.7,315.1 98.0,329.2 98.4,319.1 98.8,328.7 99.1,316.5 99.5,327.5 99.8,311.7 100.2,326.3 100.6,315.1 100.9,324.0 101.3,312.5 101.7,323.5 102.0,311.1 102.4,323.5 102.7,310.9 103.1,322.2 103.5,310.5 103.8,319.1 104.2,309.8 104.5,319.8 104.9,302.3 105.3,320.1 105.6,309.3 106.0,321.0 106.3,309.1 106.7,320.5 107.1,308.3 107.4,319.0 107.8,309.7 108.1,320.2 108.5,309.2 108.9,318.6 109.2,305.7 109.6,320.8 109.9,309.3 110.3,320.0 110.7,309.7 111.0,321.1 111.4,307.4 111.8,321.3 112.1,307.2 112.5,321.7 112.8,308.5 113.2,323.2 113.6,308.0 113.9,322.1 114.3,309.2 114.6,322.0 115.0,308.7 115.4,324.2 115.7,308.9 116.1,322.7 116.4,310.5 116.8,322.6 117.2,309.6 117.5,323.7 117.9,311.6 118.2,323.2 118.6,310.5 119.0,324.0 119.3,312.5 119.7,325.6 120.0,313.3 120.4,325.8 120.8,314.2 121.1,324.4 121.5,313.1 121.9,329.5 122.2,313.7 122.6,326.4 122.9,316.1 123.3,327.0 123.7,314.8 124.0,327.0 124.4,316.5 124.7,328.2 125.1,317.1 125.5,328.3 125.8,317.8 126.2,329.5 126.5,318.3 126.9,330.4 127.3,320.1 127.6,329.6 128.0,319.8 128.3,333.3 128.7,319.2 129.1,328.5 129.4,321.5 129.8,331.7 130.1,319.9 130.5,328.6 130.9,321.7 131.2,327.2 131.6,322.7 132.0,329.9 132.3,321.3 132.7,333.0 133.0,322.8 133.4,331.3 133.8,325.1 134.1,332.2 134.5,326.1 134.8,333.4 135.2,326.8 135.6,335.0 135.9,325.5 136.3,336.1 136.6,326.4 137.0,335.9 137.4,328.2 137.7,335.8 138.1,326.8 138.4,337.8 138.8,322.8 139.2,335.9 139.5,327.4 139.9,338.4 140.2,327.0 140.6,337.9 141.0,328.2 141.3,337.2 141.7,327.8 142.1,337.9 142.4,328.8 142.8,338.4 143.1,327.6 143.5,338.0 143.9,329.4 144.2,339.3 144.6,327.6 144.9,339.6 145.3,327.9 145.7,339.9 146.0,329.5 146.4,340.7 146.7,329.0 147.1,338.8 147.5,328.9 147.8,338.9 148.2,330.1 148.5,340.1 148.9,329.4 149.3,341.8 149.6,328.9 150.0,340.7 150.3,329.6 150.7,340.3 151.1,328.8 151.4,340.8 151.8,323.7 152.2,341.8 152.5,329.2 152.9,341.3 153.2,330.9 153.6,341.3 154.0,330.8 154.3,342.8 154.7,330.3 155.0,341.8 155.4,330.6 155.8,343.0 156.1,330.5 156.5,342.3 156.8,330.0 157.2,343.3 157.6,331.6 157.9,341.7 158.3,330.3 158.6,342.6 159.0,331.5 159.4,343.3 159.7,330.9 160.1,343.0 160.4,332.2 160.8,344.3 161.2,331.8 161.5,342.8 161.9,330.7 162.3,342.8 162.6,331.3 163.0,343.9 163.3,330.9 163.7,346.9 164.1,331.1 164.4,344.6 164.8,332.1 165.1,344.5 165.5,330.5 165.9,343.3 166.2,331.3 166.6,345.0 166.9,331.6 167.3,344.5 167.7,330.6 168.0,343.3 168.4,327.7 168.7,343.5 169.1,332.9 169.5,344.6 169.8,332.4 170.2,344.0 170.5,333.2 170.9,343.9 171.3,331.4 171.6,343.7 172.0,333.3 172.4,345.9 172.7,331.8 173.1,346.0 173.4,333.5 173.8,344.2 174.2,333.4 174.5,349.5 174.9,333.7 175.2,344.0 175.6,333.5 176.0,345.7 176.3,334.0 176.7,351.5 177.0,332.2 177.4,344.1 177.8,333.3 178.1,345.8 178.5,333.2 178.8,348.0 179.2,333.7 179.6,346.0 179.9,333.3 180.3,344.0 180.6,333.4 181.0,344.6 181.4,334.5 181.7,345.9 182.1,332.9 182.5,344.6 182.8,332.7 183.2,344.6 183.5,332.7 183.9,346.4 184.3,334.5 184.6,344.9 185.0,329.5 185.3,345.8 185.7,333.6 186.1,344.6 186.4,333.8 186.8,346.5 187.1,334.0 187.5,344.9 187.9,332.9 188.2,344.3 188.6,333.0 188.9,348.1 189.3,335.1 189.7,346.2 190.0,335.1 190.4,346.1 190.7,334.8 191.1,345.8 191.5,335.5 191.8,349.9 192.2,334.2 192.6,347.3 192.9,331.3 193.3,346.6 193.6,335.3 194.0,345.9 194.4,334.7 194.7,347.1 195.1,332.9 195.4,346.2 195.8,337.4 196.2,347.5 196.5,337.0 196.9,350.7 197.2,337.4 197.6,346.5 198.0,335.4 198.3,346.0 198.7,331.8 199.0,347.1 199.4,336.3 199.8,347.2 200.1,336.7 200.5,347.4 200.8,336.5 201.2,346.8 201.6,337.2 201.9,346.5 202.3,336.7 202.7,346.3 203.0,336.1 203.4,346.8 203.7,337.0 204.1,346.5 204.5,336.6 204.8,346.5 205.2,336.5 205.5,345.5 205.9,336.7 206.3,346.7 206.6,337.0 207.0,346.1 207.3,336.9 207.7,347.0 208.1,336.3 208.4,349.0 208.8,331.5 209.1,350.6 209.5,337.0 209.9,349.1 210.2,336.1 210.6,346.5 210.9,336.7 211.3,346.7 211.7,336.7 212.0,348.5 212.4,335.7 212.8,345.8 213.1,335.9 213.5,346.0 213.8,336.0 214.2,347.1 214.6,336.6 214.9,347.0 215.3,335.1 215.6,346.7 216.0,337.0 216.4,345.0 216.7,337.0 217.1,346.9 217.4,336.4 217.8,346.9 218.2,336.2 218.5,348.6 218.9,335.7 219.2,347.3 219.6,332.7 220.0,344.6 220.3,335.0 220.7,344.3 221.0,334.4 221.4,344.8 221.8,335.6 222.1,345.7 222.5,335.8 222.9,345.0 223.2,334.2 223.6,344.9 223.9,335.9 224.3,345.3 224.7,332.4 225.0,344.7 225.4,336.9 225.7,345.4 226.1,334.8 226.5,346.5 226.8,336.9 227.2,345.8 227.5,336.2 227.9,345.7 228.3,336.9 228.6,346.7 229.0,336.5 229.3,347.2 229.7,337.4 230.1,345.1 230.4,337.0 230.8,346.9 231.1,336.5 231.5,344.9 231.9,337.4 232.2,344.7 232.6,336.5 233.0,346.6 233.3,335.8 233.7,349.5 234.0,334.9 234.4,345.7 234.8,334.7 235.1,344.9 235.5,336.7 235.8,344.8 236.2,330.6 236.6,344.4 236.9,335.3 237.3,345.3 237.6,335.1 238.0,348.1 238.4,334.2 238.7,345.0 239.1,335.8 239.4,344.0 239.8,334.3 240.2,344.8 240.5,335.9 240.9,346.7 241.2,334.2 241.6,344.8 242.0,334.5 242.3,343.4 242.7,333.8 243.1,344.2 243.4,335.2 243.8,343.6 244.1,335.1 244.5,342.9 244.9,334.0 245.2,344.4 245.6,334.2 245.9,343.5 246.3,335.3 246.7,343.3 247.0,330.7 247.4,343.8 247.7,335.2 248.1,343.1 248.5,336.0 248.8,343.5 249.2,334.4 249.5,344.6 249.9,334.0 250.3,344.0 250.6,334.8 251.0,345.0 251.3,334.7 251.7,343.1 252.1,333.7 252.4,347.4 252.8,330.4 253.2,343.1 253.5,333.8 253.9,342.9 254.2,333.8 254.6,344.7 255.0,334.4 255.3,344.2 255.7,333.2 256.0,344.5 256.4,335.7 256.8,342.6 257.1,334.9 257.5,343.2 257.8,333.4 258.2,344.3 258.6,333.6 258.9,344.2 259.3,331.4 259.6,347.7 260.0,333.6 260.4,343.1 260.7,334.5 261.1,347.8 261.4,334.9 261.8,343.8 262.2,335.6 262.5,343.1 262.9,334.0 263.3,346.7 263.6,334.2 264.0,344.6 264.3,335.8 264.7,343.7 265.1,334.5 265.4,344.7 265.8,335.1 266.1,344.3 266.5,336.5 266.9,344.3 267.2,336.2 267.6,344.4 267.9,335.1 268.3,343.8 268.7,336.6 269.0,345.8 269.4,335.3 269.7,345.2 270.1,334.9 270.5,344.0 270.8,331.3 271.2,345.0 271.5,336.2 271.9,344.3 272.3,336.5 272.6,343.9 273.0,335.3 273.4,344.7 273.7,334.6 274.1,344.1 274.4,334.7 274.8,345.9 275.2,335.5 275.5,345.4 275.9,336.6 276.2,345.9 276.6,336.3 277.0,345.9 277.3,336.1 277.7,345.9 278.0,336.9 278.4,346.0 278.8,336.1 279.1,345.3 279.5,336.1 279.8,345.9 280.2,335.6 280.6,350.9 280.9,335.8 281.3,345.9 281.6,337.2 282.0,345.6 282.4,336.0 282.7,347.2 283.1,337.6 283.5,347.9 283.8,337.6 284.2,346.3 284.5,335.8 284.9,345.8 285.3,336.2 285.6,346.6 286.0,337.3 286.3,347.5 286.7,336.1 287.1,346.5 287.4,337.5 287.8,346.3 288.1,336.0 288.5,347.0 288.9,336.8 289.2,347.7 289.6,336.6 289.9,346.2 290.3,337.9 290.7,348.0 291.0,338.3 291.4,348.1 291.7,337.7 292.1,346.6 292.5,336.2 292.8,348.7 293.2,337.3 293.6,347.2 293.9,338.4 294.3,347.2 294.6,333.8 295.0,347.1 295.4,338.2 295.7,348.1 296.1,338.2 296.4,353.1 296.8,337.5 297.2,348.1 297.5,338.3 297.9,346.8 298.2,337.0 298.6,348.8 299.0,338.3 299.3,347.7 299.7,339.1 300.0,349.1 300.4,338.4 300.8,348.6 301.1,332.5 301.5,348.4 301.8,339.9 302.2,347.6 302.6,339.9 302.9,349.4 303.3,339.1 303.7,348.5 304.0,335.4 304.4,349.5 304.7,339.4 305.1,348.5 305.5,340.1 305.8,350.2 306.2,339.1 306.5,349.2 306.9,341.3 307.3,348.7 307.6,336.4 308.0,350.2 308.3,340.1 308.7,349.8 309.1,340.6 309.4,349.2 309.8,340.7 310.1,350.0 310.5,340.8 310.9,349.1 311.2,339.8 311.6,349.7 311.9,339.6 312.3,350.1 312.7,340.7 313.0,348.7 313.4,336.4 313.8,348.8 314.1,339.4 314.5,349.9 314.8,339.6 315.2,350.3 315.6,337.4 315.9,349.5 316.3,341.0 316.6,350.2 317.0,341.0 317.4,349.3 317.7,340.5 318.1,348.5 318.4,340.6 318.8,353.0 319.2,341.6 319.5,352.8 319.9,339.8 320.2,354.5 320.6,341.2 321.0,353.7 321.3,341.6 321.7,349.7 322.0,340.5 322.4,351.1 322.8,341.6 323.1,350.7 323.5,341.2 323.9,351.2 324.2,340.9 324.6,350.8 324.9,342.3 325.3,350.7 325.7,341.8 326.0,349.6 326.4,340.4 326.7,350.1 327.1,337.5 327.5,349.5 327.8,342.0 328.2,348.5 328.5,341.6 328.9,352.6 329.3,341.4 329.6,351.8 330.0,339.0 330.3,348.4 330.7,340.9 331.1,348.4 331.4,341.5 331.8,349.3 332.1,340.9 332.5,349.7 332.9,342.1 333.2,349.5 333.6,340.9 334.0,349.8 334.3,342.9 334.7,349.7 335.0,339.4 335.4,351.3 335.8,341.9 336.1,350.0 336.5,343.2 336.8,350.3 337.2,341.8 337.6,352.0 337.9,343.4 338.3,350.3 338.6,343.5 339.0,351.5 339.4,343.5 339.7,351.3 340.1,342.0 340.4,354.8 340.8,342.0 341.2,351.3 341.5,342.9 341.9,350.9 342.2,342.9 342.6,352.3 343.0,342.6 343.3,350.7 343.7,339.3 344.1,351.2 344.4,344.6 344.8,352.1 345.1,340.0 345.5,352.9 345.9,344.5 346.2,351.7 346.6,343.0 346.9,350.8 347.3,343.4 347.7,352.6 348.0,343.4 348.4,353.0 348.7,344.3 349.1,351.4 349.5,343.3 349.8,352.2 350.2,344.8 350.5,351.7 350.9,344.3 351.3,351.0 351.6,344.2 352.0,350.9 352.3,343.3 352.7,355.6 353.1,345.1 353.4,351.1 353.8,344.8 354.2,352.9 354.5,344.0 354.9,353.0 355.2,343.9 355.6,351.5 356.0,344.9 356.3,351.9 356.7,343.0 357.0,352.3 357.4,344.4 357.8,356.0 358.1,344.8 358.5,353.3 358.8,344.2 359.2,352.1 359.6,344.1 359.9,354.8 360.3,343.3 360.6,352.4 361.0,344.3 361.4,351.2 361.7,344.4 362.1,351.4 362.4,344.5 362.8,352.4 363.2,344.8 363.5,352.2 363.9,345.0 364.3,351.7 364.6,343.8 365.0,352.9 365.3,345.1 365.7,353.0 366.1,339.4 366.4,351.3 366.8,342.9 367.1,351.8 367.5,340.4 367.9,353.2 368.2,343.3 368.6,353.3 368.9,343.2 369.3,351.2 369.7,344.8 370.0,352.6 370.4,344.7 370.7,352.2 371.1,344.3 371.5,352.5 371.8,343.4 372.2,352.1 372.5,344.6 372.9,352.8 373.3,343.1 373.6,351.3 374.0,344.0 374.4,352.6 374.7,343.2 375.1,352.9 375.4,343.9 375.8,352.9 376.2,340.6 376.5,352.9 376.9,343.8 377.2,355.4 377.6,344.0 378.0,351.3 378.3,343.5 378.7,351.9 379.0,344.6 379.4,354.6 379.8,343.9 380.1,352.9 380.5,345.1 380.8,351.6 381.2,343.6 381.6,352.3 381.9,343.8 382.3,351.7 382.6,343.5 383.0,352.0 383.4,343.7 383.7,353.8 384.1,345.5 384.5,351.9 384.8,344.6 385.2,352.3 385.5,345.3 385.9,353.4 386.3,345.2 386.6,353.0 387.0,344.2 387.3,354.0 387.7,345.7 388.1,352.2 388.4,345.0 388.8,355.7 389.1,345.5 389.5,352.7 389.9,344.6 390.2,352.9 390.6,345.8 390.9,354.7 391.3,345.7 391.7,353.4 392.0,345.3 392.4,353.1 392.7,342.7 393.1,352.7 393.5,345.9 393.8,354.3 394.2,345.0 394.6,354.0 394.9,342.5 395.3,354.6 395.6,345.6 396.0,353.7 396.4,344.5 396.7,352.6 397.1,344.5 397.4,353.8 397.8,346.3 398.2,352.5 398.5,344.6 398.9,352.3 399.2,344.6 399.6,356.3 400.0,342.1 400.3,353.1 400.7,344.8 401.0,354.2 401.4,346.6 401.8,354.4 402.1,346.9 402.5,354.2 402.8,345.3 403.2,353.0 403.6,346.3 403.9,353.6 404.3,344.0 404.7,354.7 405.0,346.5 405.4,354.2 405.7,345.5 406.1,354.9 406.5,347.7 406.8,355.0 407.2,347.4 407.5,355.5 407.9,347.8 408.3,354.3 408.6,346.9 409.0,355.1 409.3,346.9 409.7,353.0 410.1,347.0 410.4,354.2 410.8,345.4 411.1,354.5 411.5,345.8 411.9,354.6 412.2,347.1 412.6,354.3 412.9,346.3 413.3,353.0 413.7,345.3 414.0,354.5 414.4,344.9 414.8,353.7 415.1,346.9 415.5,354.6 415.8,347.4 416.2,353.0 416.6,345.5 416.9,353.2 417.3,346.0 417.6,352.9 418.0,343.7 418.4,354.5 418.7,345.7 419.1,353.2 419.4,345.8 419.8,356.2 420.2,346.4 420.5,354.9 420.9,347.3 421.2,353.4 421.6,347.1 422.0,354.9 422.3,346.7 422.7,354.8 423.0,346.2 423.4,355.0 423.8,344.4 424.1,353.5 424.5,348.0 424.9,355.2 425.2,348.3 425.6,355.0 425.9,347.1 426.3,353.8 426.7,347.7 427.0,353.9 427.4,344.7 427.7,354.5 428.1,347.6 428.5,353.7 428.8,347.8 429.2,354.2 429.5,346.7 429.9,355.1 430.3,348.7 430.6,355.2 431.0,347.3 431.3,353.6 431.7,347.6 432.1,353.6 432.4,344.8 432.8,353.6 433.1,347.6 433.5,355.3 433.9,348.6 434.2,358.4 434.6,348.4 435.0,356.5 435.3,348.5 435.7,353.8 436.0,346.7 436.4,355.6 436.8,346.5 437.1,354.5 437.5,348.4 437.8,354.8 438.2,346.8 438.6,353.5 438.9,348.3 439.3,354.6 439.6,346.8 440.0,356.2 440.4,346.6 440.7,353.3 441.1,348.4 441.4,354.4 441.8,347.3 442.2,354.9 442.5,347.9 442.9,353.6 443.2,347.9 443.6,354.7 444.0,347.4 444.3,354.6 444.7,346.6 445.1,354.7 445.4,347.8 445.8,354.1 446.1,344.2 446.5,355.5 446.9,347.0 447.2,354.8 447.6,348.4 447.9,355.5 448.3,345.9 448.7,355.1 449.0,347.8 449.4,353.9 449.7,347.5 450.1,355.2 450.5,347.0 450.8,353.7 451.2,347.4 451.5,356.1 451.9,348.2 452.3,356.0 452.6,347.1 453.0,354.3 453.3,348.3 453.7,354.1 454.1,347.9 454.4,354.4 454.8,348.0 455.2,354.3 455.5,349.2 455.9,356.5 456.2,347.5 456.6,357.3 457.0,349.3 457.3,356.1 457.7,349.3 458.0,354.2 458.4,349.2 458.8,356.0 459.1,347.8 459.5,355.0 459.8,348.0 460.2,354.9 460.6,347.8 460.9,355.8 461.3,347.5 461.6,355.5 462.0,348.5 462.4,353.8 462.7,347.0 463.1,355.4 463.4,347.8 463.8,355.5 464.2,348.5 464.5,355.4 464.9,344.1 465.3,354.6 465.6,348.3 466.0,355.6 466.3,348.1 466.7,353.6 467.1,347.4 467.4,354.2 467.8,348.5 468.1,355.9 468.5,345.4 468.9,354.9 469.2,346.9 469.6,355.5 469.9,348.1 470.3,354.9 470.7,347.4 471.0,355.5 471.4,347.2 471.7,356.7 472.1,347.7 472.5,354.2 472.8,345.0 473.2,354.4 473.5,346.6 473.9,353.6 474.3,347.7 474.6,354.0 475.0,348.3 475.4,355.4 475.7,346.9 476.1,353.4 476.4,347.8 476.8,354.0 477.2,347.3 477.5,355.8 477.9,346.2 478.2,357.6 478.6,347.0 479.0,355.8 479.3,346.6 479.7,353.8 480.0,346.9 480.4,354.4 480.8,344.9 481.1,354.5 481.5,346.6 481.8,353.9 482.2,343.7 482.6,354.5 482.9,346.5 483.3,354.1 483.6,347.3 484.0,355.0 484.4,347.7 484.7,355.8 485.1,346.4 485.5,354.1 485.8,347.7 486.2,355.9 486.5,347.5 486.9,354.8 487.3,348.1 487.6,355.9 488.0,346.5 488.3,354.0 488.7,348.1 489.1,354.8 489.4,347.5 489.8,354.2 490.1,347.8 490.5,354.5 490.9,348.6 491.2,356.0 491.6,346.9 491.9,356.1 492.3,345.2 492.7,356.0 493.0,346.6 493.4,353.8 493.7,346.7 494.1,353.9 494.5,347.8 494.8,355.7 495.2,346.3 495.6,355.2 495.9,348.2 496.3,357.6 496.6,344.6 497.0,355.5 497.4,347.8 497.7,355.5 498.1,344.8 498.4,355.7 498.8,348.0 499.2,355.8 499.5,347.5 499.9,355.0 500.2,347.7 500.6,356.1 501.0,347.8 501.3,354.6 501.7,346.5 502.0,355.3 502.4,347.6 502.8,355.0 503.1,348.2 503.5,354.8 503.8,346.8 504.2,354.0 504.6,346.4 504.9,355.4 505.3,347.0 505.7,355.8 506.0,348.3 506.4,356.1 506.7,348.3 507.1,355.4 507.5,348.1 507.8,354.6 508.2,346.9 508.5,355.3 508.9,347.5 509.3,355.8 509.6,345.0 510.0,354.7 510.3,348.5 510.7,355.2 511.1,347.5 511.4,354.9 511.8,347.2 512.1,354.5 512.5,348.0 512.9,356.0 513.2,346.5 513.6,358.9 513.9,347.2 514.3,356.3 514.7,348.2 515.0,356.3 515.4,348.5 515.8,356.2 516.1,347.6 516.5,355.2 516.8,347.6 517.2,355.2 517.6,347.0 517.9,355.6 518.3,349.1 518.6,356.6 519.0,347.6 519.4,354.8 519.7,347.6 520.1,355.4 520.4,348.0 520.8,354.9 521.2,346.7 521.5,356.0 521.9,348.1 522.2,356.2 522.6,347.0 523.0,354.8 523.3,345.7 523.7,356.2 524.0,349.1 524.4,354.9 524.8,349.2 525.1,355.7 525.5,348.0 525.9,355.3 526.2,349.3 526.6,356.9 526.9,349.4 527.3,356.8 527.7,348.9 528.0,356.3 528.4,349.0 528.7,356.3 529.1,348.3 529.5,354.9 529.8,348.8 530.2,355.3 530.5,346.1 530.9,358.3 531.3,348.9 531.6,356.6 532.0,347.9 532.3,355.0 532.7,348.7 533.1,356.2 533.4,346.2 533.8,355.9 534.1,347.9 534.5,356.0 534.9,346.8 535.2,355.2 535.6,347.7 536.0,357.2 536.3,346.8 536.7,353.4 537.0,344.4 537.4,355.0 537.8,348.5 538.1,355.4 538.5,346.3 538.8,354.1 539.2,346.9 539.6,354.8 539.9,348.6 540.3,355.7 540.6,347.8 541.0,353.6"/><polyline fill="none" stroke="#c00000" stroke-width="2.3" stroke-linejoin="bevel" points="36.0,403.9 36.4,392.7 36.7,404.7 37.1,395.3 37.4,403.5 37.8,393.3 38.2,404.6 38.5,395.5 38.9,405.4 39.2,394.4 39.6,405.5 40.0,393.5 40.3,404.5 40.7,393.5 41.1,404.9 41.4,391.5 41.8,405.3 42.1,395.0 42.5,404.2 42.9,394.4 43.2,402.8 43.6,388.3 43.9,403.3 44.3,391.7 44.7,405.1 45.0,392.1 45.4,404.9 45.7,394.1 46.1,403.7 46.5,393.6 46.8,408.4 47.2,393.6 47.5,409.8 47.9,394.7 48.3,403.0 48.6,393.1 49.0,404.3 49.3,392.3 49.7,404.2 50.1,394.1 50.4,402.0 50.8,393.2 51.2,402.2 51.5,391.4 51.9,404.7 52.2,391.5 52.6,401.0 53.0,392.9 53.3,403.7 53.7,390.4 54.0,402.8 54.4,387.8 54.8,401.8 55.1,391.3 55.5,403.7 55.8,392.4 56.2,401.1 56.6,393.6 56.9,400.9 57.3,390.5 57.6,402.7 58.0,390.0 58.4,400.6 58.7,392.3 59.1,403.4 59.4,391.3 59.8,400.6 60.2,392.2 60.5,402.6 60.9,391.0 61.3,406.7 61.6,392.9 62.0,403.8 62.3,391.7 62.7,402.7 63.1,391.4 63.4,403.8 63.8,392.4 64.1,400.0 64.5,388.7 64.9,404.4 65.2,391.5 65.6,400.8 65.9,391.4 66.3,402.8 66.7,392.5 67.0,400.2 67.4,389.5 67.7,407.4 68.1,390.7 68.5,401.0 68.8,390.1 69.2,400.9 69.5,388.8 69.9,403.2 70.3,390.6 70.6,400.3 71.0,388.2 71.4,406.8 71.7,388.9 72.1,403.5 72.4,381.7 72.8,407.0 73.2,389.0 73.5,407.3 73.9,382.3 74.2,401.4 74.6,388.6 75.0,401.7 75.3,387.4 75.7,403.7 76.0,389.6 76.4,401.4 76.8,388.6 77.1,402.7 77.5,386.4 77.8,404.7 78.2,386.3 78.6,404.1 78.9,387.2 79.3,402.5 79.6,388.3 80.0,401.6 80.4,386.3 80.7,402.1 81.1,388.7 81.5,401.6 81.8,387.4 82.2,402.6 82.5,388.2 82.9,400.1 83.3,378.5 83.6,401.8 84.0,385.0 84.3,400.1 84.7,386.0 85.1,400.7 85.4,383.6 85.8,398.7 86.1,385.4 86.5,397.0 86.9,384.2 87.2,396.8 87.6,385.0 87.9,396.6 88.3,383.1 88.7,395.6 89.0,383.0 89.4,398.4 89.7,382.6 90.1,395.7 90.5,382.0 90.8,397.2 91.2,380.7 91.6,394.5 91.9,381.9 92.3,395.0 92.6,380.7 93.0,395.1 93.4,380.4 93.7,394.1 94.1,380.7 94.4,394.7 94.8,380.7 95.2,392.0 95.5,382.4 95.9,391.2 96.2,381.9 96.6,390.6 97.0,380.8 97.3,393.0 97.7,376.6 98.0,390.5 98.4,380.9 98.8,396.1 99.1,383.1 99.5,393.9 99.8,382.2 100.2,391.0 100.6,382.2 100.9,391.8 101.3,376.5 101.7,392.7 102.0,379.9 102.4,393.1 102.7,380.5 103.1,393.5 103.5,378.0 103.8,393.8 104.2,379.8 104.5,394.8 104.9,369.0 105.3,392.5 105.6,377.1 106.0,393.6 106.3,376.1 106.7,392.8 107.1,376.3 107.4,393.0 107.8,374.2 108.1,392.8 108.5,376.8 108.9,392.5 109.2,376.1 109.6,390.5 109.9,373.1 110.3,391.3 110.7,374.7 111.0,391.3 111.4,376.6 111.8,393.2 112.1,373.4 112.5,390.3 112.8,375.4 113.2,390.9 113.6,376.4 113.9,391.7 114.3,374.1 114.6,391.7 115.0,374.4 115.4,388.7 115.7,376.1 116.1,390.2 116.4,374.2 116.8,389.3 117.2,375.0 117.5,390.6 117.9,376.4 118.2,388.0 118.6,375.3 119.0,390.4 119.3,375.4 119.7,386.5 120.0,369.5 120.4,388.5 120.8,375.3 121.1,389.2 121.5,365.4 121.9,388.6 122.2,374.9 122.6,396.4 122.9,374.7 123.3,388.8 123.7,372.2 124.0,387.1 124.4,374.8 124.7,388.2 125.1,373.1 125.5,387.8 125.8,371.8 126.2,387.7 126.5,372.7 126.9,387.7 127.3,372.5 127.6,387.2 128.0,373.3 128.3,386.7 128.7,367.1 129.1,386.3 129.4,370.4 129.8,385.7 130.1,372.3 130.5,387.1 130.9,371.6 131.2,391.1 131.6,365.4 132.0,386.8 132.3,369.8 132.7,388.6 133.0,369.0 133.4,386.5 133.8,370.3 134.1,386.4 134.5,365.9 134.8,388.3 135.2,371.3 135.6,385.5 135.9,362.4 136.3,386.8 136.6,370.0 137.0,388.0 137.4,369.2 137.7,386.6 138.1,370.1 138.4,387.5 138.8,369.7 139.2,385.3 139.5,366.3 139.9,387.2 140.2,366.0 140.6,386.7 141.0,368.4 141.3,383.7 141.7,367.5 142.1,383.8 142.4,365.5 142.8,383.7 143.1,367.8 143.5,384.5 143.9,369.0 144.2,385.7 144.6,368.8 144.9,391.4 145.3,366.5 145.7,385.5 146.0,366.0 146.4,387.2 146.7,367.9 147.1,387.6 147.5,365.8 147.8,387.0 148.2,368.0 148.5,388.2 148.9,365.9 149.3,386.2 149.6,369.2 150.0,388.4 150.3,367.2 150.7,386.1 151.1,367.9 151.4,386.5 151.8,366.8 152.2,386.7 152.5,369.8 152.9,392.9 153.2,369.5 153.6,389.2 154.0,370.2 154.3,394.6 154.7,367.6 155.0,385.6 155.4,370.4 155.8,388.7 156.1,371.3 156.5,389.1 156.8,368.7 157.2,386.2 157.6,369.8 157.9,387.7 158.3,369.6 158.6,386.7 159.0,371.0 159.4,386.5 159.7,371.5 160.1,386.2 160.4,369.4 160.8,388.9 161.2,371.6 161.5,388.1 161.9,371.3 162.3,386.6 162.6,365.7 163.0,389.1 163.3,372.3 163.7,387.7 164.1,370.2 164.4,386.7 164.8,363.1 165.1,386.1 165.5,371.6 165.9,388.8 166.2,371.4 166.6,389.5 166.9,372.1 167.3,389.6 167.7,374.1 168.0,387.9 168.4,374.6 168.7,386.4 169.1,374.0 169.5,388.8 169.8,372.9 170.2,386.3 170.5,372.6 170.9,387.4 171.3,375.2 171.6,389.8 172.0,373.1 172.4,389.7 172.7,375.5 173.1,389.0 173.4,373.9 173.8,396.5 174.2,374.3 174.5,390.9 174.9,375.9 175.2,391.7 175.6,376.5 176.0,391.5 176.3,375.9 176.7,390.3 177.0,367.6 177.4,391.7 177.8,377.0 178.1,390.3 178.5,375.6 178.8,397.3 179.2,379.5 179.6,394.0 179.9,377.9 180.3,390.9 180.6,376.2 181.0,391.6 181.4,376.0 181.7,392.6 182.1,375.9 182.5,389.3 182.8,374.2 183.2,391.2 183.5,373.1 183.9,389.1 184.3,367.2 184.6,390.9 185.0,373.8 185.3,388.7 185.7,373.3 186.1,386.8 186.4,373.1 186.8,387.7 187.1,373.0 187.5,389.0 187.9,371.3 188.2,388.0 188.6,371.4 188.9,387.0 189.3,369.2 189.7,387.1 190.0,369.3 190.4,386.7 190.7,369.0 191.1,388.2 191.5,369.5 191.8,386.5 192.2,367.4 192.6,384.5 192.9,365.8 193.3,385.9 193.6,368.9 194.0,387.2 194.4,367.3 194.7,387.1 195.1,367.5 195.4,391.4 195.8,369.6 196.2,388.2 196.5,368.6 196.9,388.1 197.2,370.4 197.6,387.6 198.0,371.2 198.3,388.6 198.7,370.7 199.0,390.2 199.4,372.1 199.8,391.0 200.1,375.4 200.5,391.1 200.8,374.9 201.2,391.7 201.6,376.5 201.9,391.4 202.3,375.5 202.7,390.4 203.0,378.6 203.4,392.8 203.7,377.4 204.1,392.6 204.5,378.4 204.8,393.1 205.2,381.3 205.5,394.7 205.9,380.8 206.3,396.6 206.6,380.9 207.0,394.7 207.3,381.8 207.7,396.5 208.1,383.1 208.4,397.5 208.8,381.2 209.1,396.7 209.5,381.1 209.9,395.8 210.2,383.9 210.6,398.6 210.9,383.5 211.3,398.4 211.7,382.9 212.0,397.3 212.4,382.0 212.8,400.0 213.1,384.3 213.5,398.7 213.8,382.0 214.2,401.7 214.6,381.9 214.9,400.6 215.3,383.9 215.6,400.5 216.0,384.8 216.4,400.7 216.7,384.7 217.1,399.5 217.4,384.3 217.8,399.1 218.2,384.0 218.5,401.4 218.9,383.4 219.2,402.4 219.6,382.6 220.0,401.0 220.3,382.6 220.7,400.2 221.0,383.0 221.4,399.5 221.8,384.0 222.1,402.0 222.5,383.8 222.9,400.1 223.2,383.2 223.6,399.4 223.9,383.2 224.3,398.3 224.7,385.5 225.0,398.9 225.4,377.0 225.7,401.9 226.1,386.7 226.5,399.5 226.8,384.9 227.2,401.2 227.5,384.4 227.9,400.1 228.3,380.8 228.6,402.0 229.0,387.4 229.3,399.2 229.7,387.3 230.1,401.0 230.4,384.9 230.8,402.0 231.1,386.6 231.5,401.3 231.9,386.3 232.2,401.7 232.6,387.8 233.0,399.8 233.3,388.5 233.7,402.4 234.0,387.0 234.4,402.4 234.8,389.3 235.1,408.7 235.5,388.0 235.8,402.8 236.2,387.1 236.6,401.4 236.9,386.2 237.3,401.6 237.6,386.7 238.0,399.9 238.4,387.0 238.7,400.7 239.1,389.1 239.4,400.0 239.8,387.6 240.2,400.6 240.5,386.6 240.9,400.0 241.2,389.4 241.6,403.4 242.0,388.3 242.3,401.6 242.7,388.6 243.1,400.4 243.4,387.8 243.8,402.5 244.1,389.1 244.5,402.6 244.9,385.3 245.2,401.3 245.6,387.5 245.9,399.9 246.3,387.9 246.7,400.0 247.0,385.2 247.4,398.7 247.7,378.9 248.1,401.1 248.5,388.1 248.8,404.6 249.2,385.4 249.5,401.2 249.9,387.0 250.3,402.0 250.6,387.5 251.0,400.5 251.3,388.0 251.7,401.6 252.1,388.4 252.4,400.1 252.8,381.1 253.2,401.5 253.5,386.6 253.9,406.8 254.2,387.0 254.6,400.7 255.0,386.7 255.3,400.5 255.7,388.4 256.0,401.8 256.4,388.8 256.8,400.4 257.1,386.7 257.5,402.7 257.8,387.6 258.2,401.3 258.6,388.1 258.9,401.6 259.3,386.5 259.6,402.9 260.0,388.3 260.4,402.7 260.7,384.6 261.1,400.5 261.4,385.5 261.8,402.2 262.2,385.7 262.5,400.1 262.9,385.7 263.3,402.2 263.6,387.6 264.0,400.8 264.3,379.0 264.7,402.2 265.1,385.2 265.4,399.3 265.8,385.4 266.1,409.1 266.5,387.8 266.9,401.2 267.2,385.8 267.6,400.6 267.9,386.6 268.3,403.1 268.7,386.1 269.0,401.3 269.4,388.2 269.7,399.8 270.1,385.2 270.5,402.1 270.8,385.2 271.2,401.3 271.5,386.0 271.9,401.0 272.3,385.3 272.6,400.0 273.0,385.9 273.4,400.4 273.7,385.2 274.1,399.3 274.4,387.4 274.8,398.7 275.2,386.8 275.5,401.5 275.9,384.7 276.2,401.0 276.6,385.7 277.0,398.7 277.3,385.7 277.7,407.3 278.0,385.7 278.4,400.9 278.8,386.3 279.1,399.3 279.5,385.6 279.8,400.8 280.2,386.8 280.6,400.1 280.9,385.7 281.3,400.5 281.6,386.3 282.0,400.4 282.4,385.7 282.7,400.9 283.1,386.8 283.5,403.0 283.8,385.9 284.2,402.2 284.5,387.2 284.9,402.5 285.3,386.9 285.6,402.8 286.0,384.8 286.3,401.5 286.7,384.9 287.1,400.8 287.4,384.9 287.8,398.9 288.1,383.7 288.5,401.2 288.9,386.7 289.2,399.0 289.6,378.6 289.9,400.8 290.3,386.4 290.7,401.4 291.0,385.5 291.4,401.4 291.7,383.9 292.1,399.3 292.5,385.2 292.8,397.8 293.2,386.2 293.6,399.8 293.9,383.7 294.3,400.9 294.6,377.2 295.0,401.1 295.4,385.6 295.7,401.2 296.1,383.4 296.4,398.4 296.8,383.8 297.2,400.6 297.5,384.5 297.9,401.3 298.2,385.3 298.6,400.1 299.0,381.6 299.3,401.7 299.7,384.2 300.0,399.1 300.4,384.7 300.8,399.6 301.1,387.0 301.5,399.4 301.8,385.6 302.2,399.7 302.6,386.9 302.9,399.0 303.3,386.6 303.7,401.5 304.0,387.7 304.4,400.4 304.7,385.5 305.1,398.7 305.5,386.6 305.8,401.9 306.2,384.1 306.5,401.7 306.9,387.1 307.3,401.3 307.6,386.0 308.0,399.0 308.3,385.9 308.7,401.8 309.1,384.3 309.4,399.7 309.8,387.3 310.1,401.5 310.5,383.7 310.9,399.9 311.2,386.5 311.6,399.9 311.9,384.6 312.3,399.6 312.7,385.8 313.0,398.6 313.4,385.9 313.8,397.8 314.1,386.1 314.5,401.2 314.8,387.0 315.2,400.3 315.6,384.2 315.9,399.2 316.3,385.0 316.6,398.6 317.0,376.8 317.4,400.5 317.7,384.7 318.1,399.8 318.4,384.1 318.8,401.4 319.2,385.7 319.5,400.9 319.9,387.0 320.2,402.0 320.6,385.7 321.0,401.8 321.3,387.0 321.7,402.1 322.0,387.7 322.4,400.4 322.8,387.7 323.1,399.2 323.5,379.8 323.9,398.7 324.2,386.7 324.6,399.1 324.9,385.0 325.3,398.7 325.7,386.9 326.0,401.6 326.4,385.6 326.7,401.0 327.1,384.4 327.5,398.4 327.8,385.7 328.2,401.1 328.5,385.4 328.9,400.9 329.3,387.8 329.6,398.5 330.0,385.1 330.3,400.4 330.7,386.9 331.1,398.0 331.4,385.9 331.8,398.2 332.1,385.0 332.5,399.1 332.9,384.8 333.2,398.3 333.6,386.0 334.0,401.9 334.3,385.1 334.7,405.0 335.0,387.3 335.4,401.9 335.8,385.9 336.1,406.1 336.5,385.5 336.8,400.2 337.2,385.5 337.6,400.1 337.9,385.5 338.3,399.5 338.6,386.7 339.0,404.7 339.4,388.1 339.7,402.0 340.1,383.2 340.4,400.5 340.8,389.5 341.2,402.6 341.5,389.1 341.9,401.7 342.2,388.8 342.6,400.8 343.0,379.1 343.3,401.8 343.7,387.8 344.1,402.7 344.4,387.2 344.8,401.1 345.1,390.1 345.5,401.9 345.9,389.8 346.2,400.2 346.6,387.0 346.9,408.8 347.3,388.9 347.7,400.6 348.0,387.6 348.4,402.0 348.7,384.8 349.1,403.6 349.5,386.7 349.8,403.4 350.2,387.2 350.5,401.8 350.9,382.5 351.3,402.2 351.6,389.7 352.0,402.1 352.3,390.1 352.7,399.9 353.1,387.7 353.4,401.3 353.8,388.0 354.2,403.0 354.5,387.6 354.9,402.6 355.2,387.7 355.6,402.9 356.0,387.5 356.3,403.8 356.7,390.9 357.0,401.5 357.4,389.7 357.8,401.5 358.1,390.5 358.5,403.7 358.8,391.0 359.2,401.1 359.6,388.1 359.9,405.1 360.3,389.9 360.6,403.8 361.0,388.0 361.4,406.5 361.7,390.2 362.1,405.2 362.4,387.0 362.8,402.9 363.2,390.4 363.5,406.2 363.9,389.3 364.3,409.1 364.6,389.6 365.0,400.4 365.3,390.6 365.7,401.0 366.1,387.6 366.4,403.3 366.8,388.3 367.1,402.7 367.5,390.2 367.9,401.3 368.2,387.6 368.6,403.7 368.9,389.4 369.3,403.0 369.7,387.7 370.0,403.9 370.4,382.7 370.7,402.7 371.1,390.1 371.5,402.2 371.8,385.5 372.2,401.6 372.5,391.8 372.9,403.5 373.3,389.5 373.6,404.0 374.0,391.7 374.4,401.8 374.7,390.1 375.1,404.5 375.4,390.7 375.8,401.7 376.2,390.3 376.5,404.5 376.9,389.2 377.2,404.2 377.6,390.9 378.0,405.7 378.3,389.0 378.7,403.5 379.0,389.0 379.4,401.9 379.8,391.0 380.1,401.1 380.5,388.7 380.8,403.5 381.2,390.5 381.6,403.3 381.9,390.5 382.3,401.6 382.6,389.8 383.0,400.7 383.4,391.0 383.7,401.0 384.1,391.1 384.5,402.0 384.8,391.8 385.2,403.1 385.5,391.7 385.9,401.9 386.3,390.1 386.6,400.8 387.0,391.1 387.3,402.6 387.7,390.7 388.1,403.9 388.4,390.0 388.8,406.1 389.1,389.9 389.5,402.8 389.9,390.6 390.2,401.4 390.6,391.4 390.9,403.4 391.3,390.2 391.7,403.7 392.0,387.4 392.4,403.7 392.7,391.0 393.1,402.9 393.5,389.8 393.8,401.7 394.2,389.3 394.6,403.2 394.9,389.5 395.3,401.1 395.6,390.3 396.0,400.1 396.4,385.6 396.7,402.6 397.1,391.4 397.4,401.9 397.8,389.4 398.2,399.2 398.5,388.6 398.9,400.9 399.2,391.2 399.6,399.4 400.0,389.5 400.3,400.7 400.7,390.8 401.0,400.4 401.4,390.7 401.8,401.4 402.1,390.3 402.5,402.7 402.8,390.8 403.2,401.3 403.6,393.5 403.9,403.8 404.3,390.4 404.7,403.0 405.0,390.5 405.4,403.3 405.7,391.8 406.1,406.9 406.5,392.8 406.8,402.4 407.2,393.3 407.5,402.2 407.9,392.2 408.3,400.6 408.6,392.6 409.0,401.5 409.3,391.6 409.7,403.3 410.1,391.7 410.4,402.8 410.8,391.7 411.1,401.2 411.5,392.7 411.9,403.4 412.2,390.5 412.6,400.9 412.9,394.1 413.3,403.8 413.7,387.9 414.0,402.5 414.4,391.2 414.8,402.5 415.1,386.8 415.5,401.1 415.8,392.7 416.2,402.8 416.6,393.6 416.9,402.9 417.3,389.5 417.6,405.5 418.0,391.4 418.4,401.7 418.7,390.7 419.1,402.4 419.4,391.6 419.8,400.2 420.2,394.1 420.5,402.9 420.9,391.1 421.2,402.6 421.6,391.3 422.0,400.5 422.3,391.6 422.7,403.8 423.0,392.8 423.4,402.3 423.8,392.8 424.1,401.8 424.5,393.2 424.9,403.7 425.2,393.8 425.6,402.2 425.9,396.0 426.3,403.9 426.7,393.0 427.0,402.1 427.4,395.9 427.7,402.2 428.1,394.2 428.5,403.4 428.8,388.9 429.2,404.4 429.5,392.5 429.9,407.2 430.3,394.4 430.6,401.5 431.0,392.5 431.3,401.8 431.7,393.7 432.1,401.9 432.4,393.0 432.8,401.6 433.1,394.5 433.5,401.6 433.9,392.8 434.2,403.0 434.6,393.7 435.0,401.9 435.3,391.2 435.7,403.8 436.0,393.1 436.4,403.3 436.8,392.2 437.1,402.6 437.5,395.3 437.8,402.8 438.2,395.0 438.6,402.5 438.9,394.5 439.3,402.7 439.6,392.9 440.0,403.8 440.4,395.0 440.7,404.0 441.1,393.6 441.4,404.1 441.8,395.0 442.2,404.7 442.5,395.5 442.9,401.9 443.2,396.5 443.6,404.1 444.0,396.2 444.3,403.2 444.7,396.1 445.1,402.3 445.4,397.3 445.8,403.5 446.1,395.0 446.5,402.6 446.9,395.7 447.2,404.7 447.6,395.0 447.9,404.1 448.3,394.3 448.7,407.3 449.0,396.8 449.4,403.7 449.7,393.4 450.1,404.8 450.5,393.3 450.8,401.1 451.2,396.5 451.5,403.8 451.9,395.1 452.3,402.2 452.6,393.0 453.0,401.1 453.3,392.8 453.7,401.7 454.1,395.5 454.4,401.1 454.8,394.5 455.2,402.1 455.5,393.2 455.9,400.7 456.2,396.5 456.6,401.2 457.0,394.6 457.3,403.8 457.7,395.2 458.0,403.3 458.4,394.8 458.8,401.3 459.1,396.4 459.5,405.1 459.8,396.2 460.2,405.1 460.6,395.7 460.9,402.5 461.3,397.6 461.6,402.5 462.0,396.4 462.4,403.3 462.7,395.9 463.1,403.7 463.4,395.7 463.8,401.7 464.2,396.4 464.5,405.1 464.9,397.2 465.3,404.2 465.6,395.4 466.0,404.0 466.3,395.9 466.7,402.8 467.1,395.1 467.4,406.3 467.8,395.8 468.1,401.7 468.5,396.9 468.9,404.7 469.2,395.9 469.6,402.0 469.9,395.0 470.3,404.8 470.7,395.0 471.0,402.3 471.4,395.9 471.7,405.0 472.1,397.4 472.5,405.6 472.8,395.9 473.2,402.7 473.5,394.5 473.9,406.1 474.3,394.8 474.6,403.4 475.0,397.2 475.4,404.5 475.7,395.8 476.1,405.8 476.4,394.3 476.8,405.9 477.2,396.5 477.5,404.6 477.9,397.3 478.2,404.3 478.6,397.3 479.0,402.6 479.3,397.0 479.7,403.3 480.0,392.3 480.4,404.7 480.8,396.9 481.1,402.3 481.5,394.6 481.8,404.4 482.2,394.4 482.6,404.6 482.9,394.6 483.3,404.0 483.6,394.3 484.0,402.3 484.4,393.3 484.7,404.8 485.1,393.0 485.5,404.2 485.8,396.3 486.2,403.9 486.5,394.3 486.9,405.0 487.3,395.9 487.6,403.7 488.0,394.8 488.3,405.4 488.7,396.3 489.1,406.3 489.4,395.4 489.8,406.8 490.1,395.5 490.5,406.6 490.9,396.0 491.2,408.1 491.6,390.8 491.9,403.6 492.3,396.3 492.7,405.5 493.0,397.8 493.4,406.2 493.7,395.3 494.1,406.7 494.5,396.5 494.8,404.9 495.2,394.4 495.6,404.6 495.9,394.6 496.3,404.6 496.6,396.4 497.0,404.0 497.4,392.0 497.7,404.5 498.1,396.9 498.4,406.0 498.8,393.8 499.2,403.2 499.5,397.1 499.9,402.7 500.2,393.7 500.6,402.9 501.0,390.2 501.3,403.8 501.7,396.3 502.0,403.5 502.4,394.4 502.8,402.7 503.1,393.7 503.5,404.7 503.8,396.0 504.2,403.4 504.6,394.5 504.9,405.1 505.3,395.9 505.7,404.1 506.0,395.5 506.4,410.4 506.7,395.3 507.1,406.3 507.5,395.1 507.8,405.4 508.2,395.8 508.5,406.0 508.9,395.8 509.3,406.2 509.6,397.0 510.0,404.7 510.3,394.3 510.7,404.9 511.1,394.3 511.4,406.8 511.8,395.1 512.1,403.4 512.5,394.1 512.9,405.3 513.2,395.6 513.6,405.7 513.9,394.6 514.3,402.5 514.7,395.9 515.0,402.9 515.4,393.7 515.8,405.0 516.1,391.2 516.5,401.9 516.8,393.4 517.2,403.4 517.6,394.1 517.9,405.0 518.3,392.4 518.6,405.7 519.0,393.1 519.4,402.2 519.7,392.4 520.1,404.5 520.4,392.5 520.8,402.7 521.2,394.2 521.5,403.9 521.9,394.6 522.2,403.5 522.6,395.1 523.0,403.5 523.3,395.7 523.7,408.6 524.0,394.4 524.4,405.3 524.8,387.8 525.1,406.3 525.5,390.9 525.9,406.1 526.2,394.6 526.6,405.4 526.9,393.1 527.3,404.5 527.7,394.6 528.0,405.6 528.4,391.6 528.7,405.4 529.1,396.2 529.5,404.4 529.8,394.3 530.2,407.3 530.5,392.9 530.9,404.7 531.3,396.0 531.6,405.7 532.0,388.5 532.3,405.2 532.7,393.6 533.1,406.5 533.4,390.4 533.8,406.0 534.1,394.0 534.5,406.2 534.9,392.6 535.2,407.0 535.6,385.4 536.0,411.2 536.3,395.3 536.7,405.0 537.0,392.7 537.4,404.4 537.8,393.3 538.1,403.5 538.5,394.7 538.8,404.7 539.2,395.1 539.6,404.8 539.9,390.2 540.3,406.5 540.6,394.1 541.0,404.7"/></g>
<g fill="#000"><polygon points="70.50,68.28 71.76,71.60 75.02,71.89 72.53,74.23 73.29,77.73 70.50,75.85 67.71,77.73 68.47,74.23 65.98,71.89 69.24,71.60"/><polygon points="147.00,56.88 148.26,60.20 151.52,60.49 149.03,62.83 149.79,66.33 147.00,64.45 144.21,66.33 144.97,62.83 142.48,60.49 145.74,60.20"/><polygon points="179.20,39.57 180.46,42.90 183.72,43.19 181.23,45.53 181.99,49.03 179.20,47.15 176.41,49.03 177.17,45.53 174.68,43.19 177.94,42.90"/><polygon points="195.20,59.27 196.46,62.60 199.72,62.89 197.23,65.23 197.99,68.73 195.20,66.85 192.41,68.73 193.17,65.23 190.68,62.89 193.94,62.60"/><polygon points="270.50,69.08 271.76,72.40 275.02,72.69 272.53,75.03 273.29,78.53 270.50,76.65 267.71,78.53 268.47,75.03 265.98,72.69 269.24,72.40"/><polygon points="320.50,55.77 321.76,59.10 325.02,59.39 322.53,61.73 323.29,65.23 320.50,63.35 317.71,65.23 318.47,61.73 315.98,59.39 319.24,59.10"/><polygon points="355.00,66.78 356.26,70.10 359.52,70.39 357.03,72.73 357.79,76.23 355.00,74.35 352.21,76.23 352.97,72.73 350.48,70.39 353.74,70.10"/><polygon points="361.00,71.08 362.26,74.40 365.52,74.69 363.03,77.03 363.79,80.53 361.00,78.65 358.21,80.53 358.97,77.03 356.48,74.69 359.74,74.40"/><polygon points="72.00,202.28 73.26,205.60 76.52,205.89 74.03,208.23 74.79,211.73 72.00,209.85 69.21,211.73 69.97,208.23 67.48,205.89 70.74,205.60"/><polygon points="147.00,165.97 148.26,169.30 151.52,169.59 149.03,171.93 149.79,175.43 147.00,173.55 144.21,175.43 144.97,171.93 142.48,169.59 145.74,169.30"/><polygon points="179.20,187.68 180.46,191.00 183.72,191.29 181.23,193.63 181.99,197.13 179.20,195.25 176.41,197.13 177.17,193.63 174.68,191.29 177.94,191.00"/><polygon points="195.00,193.28 196.26,196.60 199.52,196.89 197.03,199.23 197.79,202.73 195.00,200.85 192.21,202.73 192.97,199.23 190.48,196.89 193.74,196.60"/><polygon points="269.50,205.28 270.76,208.60 274.02,208.89 271.53,211.23 272.29,214.73 269.50,212.85 266.71,214.73 267.47,211.23 264.98,208.89 268.24,208.60"/><polygon points="320.40,195.28 321.66,198.60 324.92,198.89 322.43,201.23 323.19,204.73 320.40,202.85 317.61,204.73 318.37,201.23 315.88,198.89 319.14,198.60"/><polygon points="347.70,205.97 348.96,209.30 352.22,209.59 349.73,211.93 350.49,215.43 347.70,213.55 344.91,215.43 345.67,211.93 343.18,209.59 346.44,209.30"/><polygon points="354.20,199.47 355.46,202.80 358.72,203.09 356.23,205.43 356.99,208.93 354.20,207.05 351.41,208.93 352.17,205.43 349.68,203.09 352.94,202.80"/><polygon points="364.90,205.78 366.16,209.10 369.42,209.39 366.93,211.73 367.69,215.23 364.90,213.35 362.11,215.23 362.87,211.73 360.38,209.39 363.64,209.10"/><polygon points="69.00,243.58 70.26,246.90 73.52,247.19 71.03,249.53 71.79,253.03 69.00,251.15 66.21,253.03 66.97,249.53 64.48,247.19 67.74,246.90"/><polygon points="145.50,238.47 146.76,241.80 150.02,242.09 147.53,244.43 148.29,247.93 145.50,246.05 142.71,247.93 143.47,244.43 140.98,242.09 144.24,241.80"/><polygon points="150.50,245.08 151.76,248.40 155.02,248.69 152.53,251.03 153.29,254.53 150.50,252.65 147.71,254.53 148.47,251.03 145.98,248.69 149.24,248.40"/><polygon points="177.70,221.68 178.96,225.00 182.22,225.29 179.73,227.63 180.49,231.13 177.70,229.25 174.91,231.13 175.67,227.63 173.18,225.29 176.44,225.00"/><polygon points="193.50,256.77 194.76,260.10 198.02,260.39 195.53,262.73 196.29,266.23 193.50,264.35 190.71,266.23 191.47,262.73 188.98,260.39 192.24,260.10"/><polygon points="201.50,281.27 202.76,284.60 206.02,284.89 203.53,287.23 204.29,290.73 201.50,288.85 198.71,290.73 199.47,287.23 196.98,284.89 200.24,284.60"/><polygon points="248.20,285.97 249.46,289.30 252.72,289.59 250.23,291.93 250.99,295.43 248.20,293.55 245.41,295.43 246.17,291.93 243.68,289.59 246.94,289.30"/><polygon points="268.60,275.88 269.86,279.20 273.12,279.49 270.63,281.83 271.39,285.33 268.60,283.45 265.81,285.33 266.57,281.83 264.08,279.49 267.34,279.20"/><polygon points="307.00,283.47 308.26,286.80 311.52,287.09 309.03,289.43 309.79,292.93 307.00,291.05 304.21,292.93 304.97,289.43 302.48,287.09 305.74,286.80"/><polygon points="319.00,270.27 320.26,273.60 323.52,273.89 321.03,276.23 321.79,279.73 319.00,277.85 316.21,279.73 316.97,276.23 314.48,273.89 317.74,273.60"/><polygon points="339.50,283.97 340.76,287.30 344.02,287.59 341.53,289.93 342.29,293.43 339.50,291.55 336.71,293.43 337.47,289.93 334.98,287.59 338.24,287.30"/><polygon points="344.60,283.97 345.86,287.30 349.12,287.59 346.63,289.93 347.39,293.43 344.60,291.55 341.81,293.43 342.57,289.93 340.08,287.59 343.34,287.30"/><polygon points="353.50,277.88 354.76,281.20 358.02,281.49 355.53,283.83 356.29,287.33 353.50,285.45 350.71,287.33 351.47,283.83 348.98,281.49 352.24,281.20"/><polygon points="361.20,284.67 362.46,288.00 365.72,288.29 363.23,290.63 363.99,294.13 361.20,292.25 358.41,294.13 359.17,290.63 356.68,288.29 359.94,288.00"/><polygon points="201.50,214.00 208.90,214.00 205.20,206.40"/><polygon points="274.80,217.60 282.20,217.60 278.50,210.00"/><polygon points="304.00,216.50 311.40,216.50 307.70,208.90"/><polygon points="336.70,208.00 344.10,208.00 340.40,200.40"/><polygon points="375.00,212.30 382.40,212.30 378.70,204.70"/><polygon points="503.80,209.00 511.20,209.00 507.50,201.40"/><polygon points="523.80,212.00 531.20,212.00 527.50,204.40"/></g>
<g fill="#000" stroke="#000" stroke-width="0.35" font-family="Liberation Sans, Arial, sans-serif" font-weight="bold">
<text x="463" y="83.6" font-size="12.9" textLength="63.3" lengthAdjust="spacingAndGlyphs">CS70-BG30</text><text x="463" y="110.8" font-size="12.9" textLength="63.3" lengthAdjust="spacingAndGlyphs">CS80-BG20</text><text x="463" y="144.4" font-size="12.9" textLength="64.0" lengthAdjust="spacingAndGlyphs">CS90-BG10</text><text x="466.6" y="197.1" font-size="12.9" textLength="62.4" lengthAdjust="spacingAndGlyphs">CS100-BG0</text><text x="427.3" y="338.6" font-size="12.9" textLength="98.4" lengthAdjust="spacingAndGlyphs">Chitosan powder</text><text x="397" y="383.0" font-size="12.9" textLength="132.0" lengthAdjust="spacingAndGlyphs">Bioactive glass powder</text><text x="444.5" y="280.7" font-size="12.9" textLength="85.3" lengthAdjust="spacingAndGlyphs">CaSO<tspan font-size="8.5" dy="3">4</tspan><tspan dy="-3">.1/2 H</tspan><tspan font-size="8.5" dy="3">2</tspan><tspan dy="-3">O</tspan></text><polygon points="476.00,22.22 477.98,28.38 483.13,28.91 479.21,33.25 480.41,39.73 476.00,36.25 471.59,39.73 472.79,33.25 468.87,28.91 474.02,28.38"/><polygon points="469.30,56.50 482.00,56.50 475.65,42.50"/><text x="488.4" y="38.4" font-size="19.4" textLength="34.1" lengthAdjust="spacingAndGlyphs">CSH</text><text x="488.2" y="58.7" font-size="19.4" textLength="35.8" lengthAdjust="spacingAndGlyphs">CSD</text>
<g font-size="12.6"><text x="36.00" y="429.2" text-anchor="middle">10</text><text x="108.14" y="429.2" text-anchor="middle">20</text><text x="180.29" y="429.2" text-anchor="middle">30</text><text x="252.43" y="429.2" text-anchor="middle">40</text><text x="324.57" y="429.2" text-anchor="middle">50</text><text x="396.71" y="429.2" text-anchor="middle">60</text><text x="468.86" y="429.2" text-anchor="middle">70</text><text x="541.00" y="429.2" text-anchor="middle">80</text></g>
<text x="236.5" y="446.9" font-size="17.8" textLength="103.1" lengthAdjust="spacingAndGlyphs">Degree (2<tspan font-family="Liberation Serif, serif">θ</tspan>)</text>
<text transform="translate(20.9,260.9) rotate(-90)" x="0" y="0" font-size="19.2" textLength="130.3" lengthAdjust="spacingAndGlyphs">Intensity [a.u.]</text>
</g>
</svg></body></html>
